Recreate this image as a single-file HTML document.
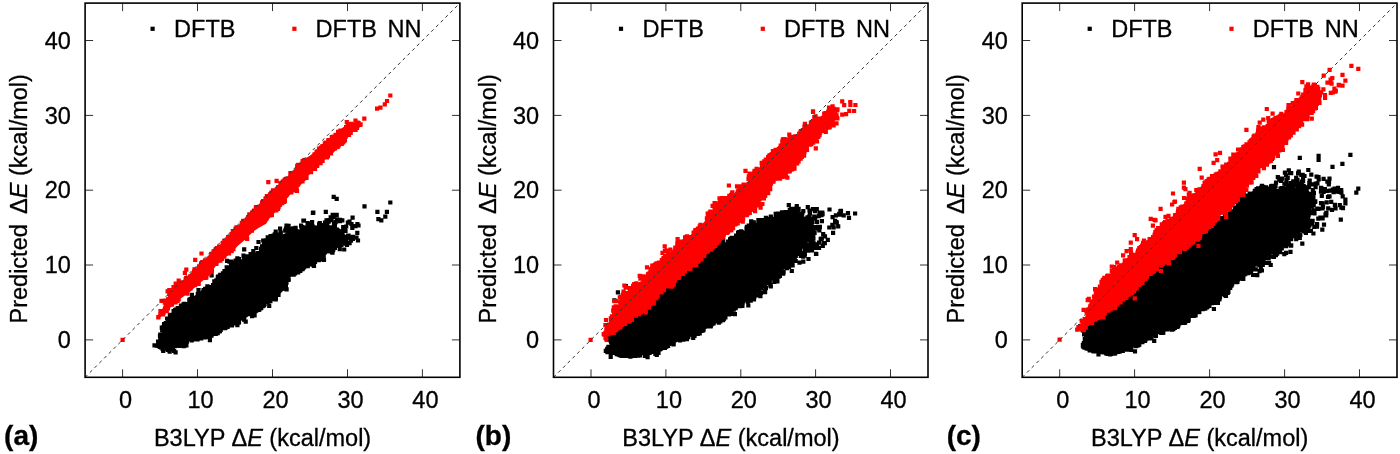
<!DOCTYPE html><html><head><meta charset="utf-8"><title>DFTB vs DFTB NN</title><style>html,body{margin:0;padding:0;background:#fff;overflow:hidden}svg{display:block}text{stroke:#000;stroke-width:0.3px}</style></head><body>
<svg width="1400" height="454" viewBox="0 0 1400 454" font-family="'Liberation Sans', Arial, Helvetica, sans-serif" font-size="23.5">
<rect width="1400" height="454" fill="#fff"/>
<g>
<path fill="#000" d="M158.0 341.4L157.8 345.2L162.9 348.2L170.2 349.7L177.8 347.3L184.2 345.6L186.9 341.2L193.6 339.3L202.4 337.5L211.1 335.0L219.7 331.5L229.3 325.8L239.2 322.0L249.0 316.0L258.8 309.2L268.8 301.3L278.7 295.3L284.2 289.8L288.3 278.7L294.5 274.5L304.5 267.4L312.6 262.5L319.2 259.5L329.0 251.2L339.8 246.9L342.5 239.8L341.6 232.7L337.3 228.4L329.9 227.5L319.9 229.5L309.3 228.5L299.6 230.0L289.9 231.5L280.3 235.3L270.5 241.7L260.8 248.4L257.3 254.0L250.2 257.5L243.6 259.7L239.0 262.5L231.7 262.1L226.4 270.8L218.5 276.8L210.9 286.7L201.9 291.2L193.2 298.2L184.3 304.3L176.4 309.6L168.8 316.4L163.7 325.6L162.8 330.8Z"/>
<path fill="#000" d="M298.2 266.5h4.2v4.2h-4.2zM228.9 264.4h4.2v4.2h-4.2zM158.2 337.9h4.2v4.2h-4.2zM329.7 225.6h4.2v4.2h-4.2zM238.8 260.0h4.2v4.2h-4.2zM327.3 247.4h4.2v4.2h-4.2zM300.3 267.1h4.2v4.2h-4.2zM205.2 285.5h4.2v4.2h-4.2zM162.0 323.9h4.2v4.2h-4.2zM183.3 340.3h4.2v4.2h-4.2zM340.4 230.7h4.2v4.2h-4.2zM216.0 274.6h4.2v4.2h-4.2zM283.1 228.5h4.2v4.2h-4.2zM203.9 289.0h4.2v4.2h-4.2zM339.3 237.1h4.2v4.2h-4.2zM259.0 304.4h4.2v4.2h-4.2zM340.0 236.0h4.2v4.2h-4.2zM311.4 263.1h4.2v4.2h-4.2zM266.0 243.2h4.2v4.2h-4.2zM288.3 230.2h4.2v4.2h-4.2zM306.6 261.4h4.2v4.2h-4.2zM201.5 288.0h4.2v4.2h-4.2zM299.4 229.6h4.2v4.2h-4.2zM224.9 267.7h4.2v4.2h-4.2zM204.4 334.8h4.2v4.2h-4.2zM216.4 327.9h4.2v4.2h-4.2zM321.6 254.0h4.2v4.2h-4.2zM181.6 344.0h4.2v4.2h-4.2zM199.6 334.8h4.2v4.2h-4.2zM287.0 229.5h4.2v4.2h-4.2zM162.5 322.9h4.2v4.2h-4.2zM329.9 246.4h4.2v4.2h-4.2zM160.1 328.0h4.2v4.2h-4.2zM191.8 296.9h4.2v4.2h-4.2zM310.8 228.5h4.2v4.2h-4.2zM274.2 237.2h4.2v4.2h-4.2zM278.6 234.6h4.2v4.2h-4.2zM187.4 336.4h4.2v4.2h-4.2zM158.2 337.9h4.2v4.2h-4.2zM197.3 293.1h4.2v4.2h-4.2zM160.0 333.9h4.2v4.2h-4.2zM340.6 237.9h4.2v4.2h-4.2zM218.2 272.8h4.2v4.2h-4.2zM274.7 236.5h4.2v4.2h-4.2zM273.0 239.0h4.2v4.2h-4.2zM319.2 227.8h4.2v4.2h-4.2zM337.7 241.0h4.2v4.2h-4.2zM316.2 255.9h4.2v4.2h-4.2zM303.3 226.3h4.2v4.2h-4.2zM311.6 228.8h4.2v4.2h-4.2zM236.1 261.5h4.2v4.2h-4.2zM268.0 296.0h4.2v4.2h-4.2zM268.8 239.1h4.2v4.2h-4.2zM166.6 318.3h4.2v4.2h-4.2zM218.6 327.8h4.2v4.2h-4.2zM334.9 227.4h4.2v4.2h-4.2zM258.9 246.7h4.2v4.2h-4.2zM298.1 268.8h4.2v4.2h-4.2zM168.7 314.4h4.2v4.2h-4.2zM229.9 323.3h4.2v4.2h-4.2zM185.5 337.1h4.2v4.2h-4.2zM339.3 242.7h4.2v4.2h-4.2zM159.7 325.5h4.2v4.2h-4.2zM234.7 261.1h4.2v4.2h-4.2zM162.0 322.1h4.2v4.2h-4.2zM284.5 287.3h4.2v4.2h-4.2zM176.3 343.4h4.2v4.2h-4.2zM286.1 277.7h4.2v4.2h-4.2zM321.9 257.9h4.2v4.2h-4.2zM167.3 348.2h4.2v4.2h-4.2zM271.0 237.3h4.2v4.2h-4.2zM298.4 268.1h4.2v4.2h-4.2zM209.5 333.2h4.2v4.2h-4.2zM249.9 312.2h4.2v4.2h-4.2zM319.3 254.3h4.2v4.2h-4.2zM181.1 304.2h4.2v4.2h-4.2zM225.7 324.5h4.2v4.2h-4.2zM265.9 297.6h4.2v4.2h-4.2zM205.3 284.3h4.2v4.2h-4.2zM226.5 268.9h4.2v4.2h-4.2zM288.1 229.8h4.2v4.2h-4.2zM285.7 277.2h4.2v4.2h-4.2zM196.2 294.0h4.2v4.2h-4.2zM287.6 230.2h4.2v4.2h-4.2zM225.0 267.8h4.2v4.2h-4.2zM325.5 227.3h4.2v4.2h-4.2zM318.4 257.2h4.2v4.2h-4.2zM251.5 311.3h4.2v4.2h-4.2zM195.2 295.1h4.2v4.2h-4.2zM244.9 258.1h4.2v4.2h-4.2zM300.8 265.9h4.2v4.2h-4.2zM199.6 334.3h4.2v4.2h-4.2zM181.5 304.4h4.2v4.2h-4.2zM224.9 324.9h4.2v4.2h-4.2zM169.5 313.7h4.2v4.2h-4.2zM216.5 275.6h4.2v4.2h-4.2zM257.3 307.3h4.2v4.2h-4.2zM214.9 278.3h4.2v4.2h-4.2zM266.5 297.1h4.2v4.2h-4.2zM217.8 328.9h4.2v4.2h-4.2zM291.9 271.0h4.2v4.2h-4.2zM253.1 309.1h4.2v4.2h-4.2zM287.5 228.6h4.2v4.2h-4.2zM217.4 329.2h4.2v4.2h-4.2zM330.2 247.5h4.2v4.2h-4.2zM222.8 326.0h4.2v4.2h-4.2zM198.0 293.2h4.2v4.2h-4.2zM201.0 290.2h4.2v4.2h-4.2zM183.6 342.4h4.2v4.2h-4.2zM155.4 343.3h4.2v4.2h-4.2zM318.6 254.4h4.2v4.2h-4.2zM215.7 275.2h4.2v4.2h-4.2zM250.0 314.1h4.2v4.2h-4.2zM161.5 324.7h4.2v4.2h-4.2zM268.3 299.0h4.2v4.2h-4.2zM157.6 341.3h4.2v4.2h-4.2zM233.9 260.0h4.2v4.2h-4.2zM189.8 292.8h4.2v4.2h-4.2zM192.3 297.3h4.2v4.2h-4.2zM335.3 228.0h4.2v4.2h-4.2zM242.8 257.1h4.2v4.2h-4.2zM339.1 238.9h4.2v4.2h-4.2zM296.1 229.8h4.2v4.2h-4.2zM212.2 279.2h4.2v4.2h-4.2zM158.9 345.2h4.2v4.2h-4.2zM162.9 345.9h4.2v4.2h-4.2zM340.3 231.0h4.2v4.2h-4.2zM261.7 243.4h4.2v4.2h-4.2zM228.9 261.7h4.2v4.2h-4.2zM251.3 309.2h4.2v4.2h-4.2zM272.3 294.5h4.2v4.2h-4.2zM262.0 303.4h4.2v4.2h-4.2zM252.8 307.6h4.2v4.2h-4.2zM309.8 258.6h4.2v4.2h-4.2zM203.1 286.7h4.2v4.2h-4.2zM165.2 345.5h4.2v4.2h-4.2zM250.7 255.4h4.2v4.2h-4.2zM291.6 272.5h4.2v4.2h-4.2zM305.3 228.3h4.2v4.2h-4.2zM269.7 238.5h4.2v4.2h-4.2zM328.9 249.1h4.2v4.2h-4.2zM267.1 303.8h4.2v4.2h-4.2zM329.9 227.0h4.2v4.2h-4.2zM339.2 242.6h4.2v4.2h-4.2zM322.7 250.2h4.2v4.2h-4.2zM163.3 322.5h4.2v4.2h-4.2zM329.8 250.0h4.2v4.2h-4.2zM228.2 265.7h4.2v4.2h-4.2zM219.0 274.4h4.2v4.2h-4.2zM272.3 294.0h4.2v4.2h-4.2zM328.5 227.1h4.2v4.2h-4.2zM282.2 286.6h4.2v4.2h-4.2zM324.7 249.2h4.2v4.2h-4.2zM288.8 230.6h4.2v4.2h-4.2zM338.3 234.3h4.2v4.2h-4.2zM289.1 230.6h4.2v4.2h-4.2zM320.3 226.1h4.2v4.2h-4.2zM293.2 229.4h4.2v4.2h-4.2zM325.0 249.2h4.2v4.2h-4.2zM316.7 258.0h4.2v4.2h-4.2zM255.7 251.8h4.2v4.2h-4.2zM156.3 339.5h4.2v4.2h-4.2zM285.7 232.3h4.2v4.2h-4.2zM197.4 336.1h4.2v4.2h-4.2zM199.4 334.5h4.2v4.2h-4.2zM171.8 309.8h4.2v4.2h-4.2zM339.1 230.7h4.2v4.2h-4.2zM223.8 325.2h4.2v4.2h-4.2zM249.2 312.0h4.2v4.2h-4.2zM331.2 247.3h4.2v4.2h-4.2zM273.8 295.8h4.2v4.2h-4.2zM262.5 301.9h4.2v4.2h-4.2zM167.8 313.1h4.2v4.2h-4.2zM291.3 271.9h4.2v4.2h-4.2zM240.2 259.2h4.2v4.2h-4.2zM295.6 267.7h4.2v4.2h-4.2zM253.3 252.7h4.2v4.2h-4.2zM170.7 312.7h4.2v4.2h-4.2zM272.4 296.3h4.2v4.2h-4.2zM264.8 242.8h4.2v4.2h-4.2zM181.5 342.6h4.2v4.2h-4.2zM249.4 312.1h4.2v4.2h-4.2zM239.7 259.4h4.2v4.2h-4.2zM198.8 291.2h4.2v4.2h-4.2zM195.7 291.9h4.2v4.2h-4.2zM250.4 253.3h4.2v4.2h-4.2zM214.3 278.2h4.2v4.2h-4.2zM158.4 332.8h4.2v4.2h-4.2zM244.4 256.2h4.2v4.2h-4.2zM302.0 265.2h4.2v4.2h-4.2zM228.3 321.3h4.2v4.2h-4.2zM195.5 337.2h4.2v4.2h-4.2zM283.6 279.5h4.2v4.2h-4.2zM226.1 269.1h4.2v4.2h-4.2zM187.2 297.8h4.2v4.2h-4.2zM221.8 324.5h4.2v4.2h-4.2zM303.8 263.2h4.2v4.2h-4.2zM320.6 253.2h4.2v4.2h-4.2zM269.7 237.8h4.2v4.2h-4.2zM265.8 299.4h4.2v4.2h-4.2zM214.2 330.6h4.2v4.2h-4.2zM173.1 308.1h4.2v4.2h-4.2zM259.9 247.9h4.2v4.2h-4.2zM249.2 256.1h4.2v4.2h-4.2zM213.7 331.9h4.2v4.2h-4.2zM242.0 317.5h4.2v4.2h-4.2zM236.9 320.2h4.2v4.2h-4.2zM243.6 256.8h4.2v4.2h-4.2zM274.3 292.8h4.2v4.2h-4.2zM188.5 296.9h4.2v4.2h-4.2zM329.6 248.7h4.2v4.2h-4.2zM246.9 256.7h4.2v4.2h-4.2zM261.3 245.0h4.2v4.2h-4.2zM208.9 331.4h4.2v4.2h-4.2zM294.8 270.4h4.2v4.2h-4.2zM265.6 299.7h4.2v4.2h-4.2zM162.2 327.8h4.2v4.2h-4.2zM220.8 271.3h4.2v4.2h-4.2zM330.3 226.2h4.2v4.2h-4.2zM252.5 252.4h4.2v4.2h-4.2zM225.7 265.7h4.2v4.2h-4.2zM168.0 312.8h4.2v4.2h-4.2zM260.6 304.1h4.2v4.2h-4.2zM320.9 255.1h4.2v4.2h-4.2zM192.2 295.9h4.2v4.2h-4.2zM235.3 323.0h4.2v4.2h-4.2zM208.5 333.9h4.2v4.2h-4.2zM337.6 241.2h4.2v4.2h-4.2zM172.8 310.9h4.2v4.2h-4.2zM330.2 227.7h4.2v4.2h-4.2zM262.0 240.0h4.2v4.2h-4.2zM203.0 288.4h4.2v4.2h-4.2zM169.3 346.2h4.2v4.2h-4.2zM266.1 242.9h4.2v4.2h-4.2zM313.7 258.1h4.2v4.2h-4.2zM218.7 273.7h4.2v4.2h-4.2zM208.8 286.3h4.2v4.2h-4.2zM196.5 293.4h4.2v4.2h-4.2zM299.4 227.8h4.2v4.2h-4.2zM332.8 245.9h4.2v4.2h-4.2zM185.9 302.0h4.2v4.2h-4.2zM182.3 301.7h4.2v4.2h-4.2zM215.6 331.0h4.2v4.2h-4.2zM269.1 239.8h4.2v4.2h-4.2zM184.3 343.4h4.2v4.2h-4.2zM336.1 229.1h4.2v4.2h-4.2zM315.4 227.4h4.2v4.2h-4.2zM157.7 344.9h4.2v4.2h-4.2zM232.3 320.2h4.2v4.2h-4.2zM157.9 333.8h4.2v4.2h-4.2zM324.5 226.7h4.2v4.2h-4.2zM207.8 285.0h4.2v4.2h-4.2zM165.0 316.4h4.2v4.2h-4.2zM328.1 226.3h4.2v4.2h-4.2zM248.5 252.0h4.2v4.2h-4.2zM254.2 308.5h4.2v4.2h-4.2zM253.4 307.2h4.2v4.2h-4.2zM182.5 340.4h4.2v4.2h-4.2zM238.0 260.2h4.2v4.2h-4.2zM308.5 262.2h4.2v4.2h-4.2zM271.3 297.0h4.2v4.2h-4.2zM161.4 346.7h4.2v4.2h-4.2zM189.6 338.4h4.2v4.2h-4.2zM268.0 239.0h4.2v4.2h-4.2zM184.2 341.5h4.2v4.2h-4.2zM321.3 252.8h4.2v4.2h-4.2zM259.9 301.9h4.2v4.2h-4.2zM204.2 287.2h4.2v4.2h-4.2zM242.1 314.4h4.2v4.2h-4.2zM243.5 258.9h4.2v4.2h-4.2zM172.6 344.1h4.2v4.2h-4.2zM300.9 228.8h4.2v4.2h-4.2zM331.2 226.1h4.2v4.2h-4.2zM313.2 226.3h4.2v4.2h-4.2zM254.2 307.5h4.2v4.2h-4.2zM235.6 320.7h4.2v4.2h-4.2zM249.1 256.4h4.2v4.2h-4.2zM286.5 231.0h4.2v4.2h-4.2zM215.7 277.6h4.2v4.2h-4.2zM253.3 308.3h4.2v4.2h-4.2zM162.4 324.1h4.2v4.2h-4.2zM238.4 260.6h4.2v4.2h-4.2zM313.3 257.8h4.2v4.2h-4.2zM174.0 307.4h4.2v4.2h-4.2zM239.0 261.5h4.2v4.2h-4.2zM253.1 255.2h4.2v4.2h-4.2zM172.0 348.9h4.2v4.2h-4.2zM308.7 261.4h4.2v4.2h-4.2zM266.2 239.3h4.2v4.2h-4.2zM330.4 250.6h4.2v4.2h-4.2zM268.3 237.9h4.2v4.2h-4.2zM182.1 343.8h4.2v4.2h-4.2zM273.7 297.4h4.2v4.2h-4.2zM167.3 346.4h4.2v4.2h-4.2zM178.8 303.5h4.2v4.2h-4.2zM224.6 265.2h4.2v4.2h-4.2zM296.1 270.3h4.2v4.2h-4.2zM190.8 337.3h4.2v4.2h-4.2zM177.3 306.9h4.2v4.2h-4.2zM330.9 248.1h4.2v4.2h-4.2zM241.7 259.7h4.2v4.2h-4.2zM228.6 322.5h4.2v4.2h-4.2zM158.2 332.6h4.2v4.2h-4.2zM194.4 295.4h4.2v4.2h-4.2zM242.1 317.3h4.2v4.2h-4.2zM163.4 324.6h4.2v4.2h-4.2zM232.7 260.5h4.2v4.2h-4.2zM260.0 244.3h4.2v4.2h-4.2zM318.5 228.5h4.2v4.2h-4.2zM338.1 233.8h4.2v4.2h-4.2zM263.7 245.2h4.2v4.2h-4.2zM340.7 234.1h4.2v4.2h-4.2zM154.9 343.5h4.2v4.2h-4.2zM339.9 237.6h4.2v4.2h-4.2zM170.8 347.3h4.2v4.2h-4.2zM202.7 289.4h4.2v4.2h-4.2zM299.1 266.7h4.2v4.2h-4.2zM222.4 269.1h4.2v4.2h-4.2zM276.4 292.7h4.2v4.2h-4.2zM160.5 346.8h4.2v4.2h-4.2zM311.3 226.1h4.2v4.2h-4.2zM235.3 256.2h4.2v4.2h-4.2zM289.1 229.1h4.2v4.2h-4.2zM284.3 276.4h4.2v4.2h-4.2zM167.5 347.0h4.2v4.2h-4.2zM210.1 330.8h4.2v4.2h-4.2zM252.6 253.3h4.2v4.2h-4.2zM308.6 262.4h4.2v4.2h-4.2zM233.2 321.1h4.2v4.2h-4.2zM274.5 232.4h4.2v4.2h-4.2zM299.2 266.3h4.2v4.2h-4.2zM166.8 345.6h4.2v4.2h-4.2zM232.8 319.4h4.2v4.2h-4.2zM221.1 273.3h4.2v4.2h-4.2zM300.5 267.1h4.2v4.2h-4.2zM339.7 240.9h4.2v4.2h-4.2zM194.3 295.9h4.2v4.2h-4.2zM196.4 288.1h4.2v4.2h-4.2zM196.0 293.2h4.2v4.2h-4.2zM308.1 226.2h4.2v4.2h-4.2zM284.4 280.5h4.2v4.2h-4.2zM327.6 225.2h4.2v4.2h-4.2zM267.5 296.6h4.2v4.2h-4.2zM295.3 230.0h4.2v4.2h-4.2zM283.8 284.4h4.2v4.2h-4.2zM152.4 343.2h4.2v4.2h-4.2zM167.6 349.6h4.2v4.2h-4.2zM225.0 268.7h4.2v4.2h-4.2zM312.9 259.9h4.2v4.2h-4.2zM231.4 321.3h4.2v4.2h-4.2zM197.3 292.4h4.2v4.2h-4.2zM310.9 227.0h4.2v4.2h-4.2zM339.6 237.6h4.2v4.2h-4.2zM250.0 311.9h4.2v4.2h-4.2zM156.0 342.9h4.2v4.2h-4.2zM304.9 226.4h4.2v4.2h-4.2zM293.0 271.2h4.2v4.2h-4.2zM204.5 333.7h4.2v4.2h-4.2zM251.4 253.8h4.2v4.2h-4.2zM276.2 290.9h4.2v4.2h-4.2zM173.5 350.3h4.2v4.2h-4.2zM171.5 309.0h4.2v4.2h-4.2zM329.8 247.7h4.2v4.2h-4.2zM259.8 247.4h4.2v4.2h-4.2zM177.3 343.9h4.2v4.2h-4.2zM158.7 337.8h4.2v4.2h-4.2zM190.1 298.1h4.2v4.2h-4.2zM255.7 251.0h4.2v4.2h-4.2zM194.8 337.1h4.2v4.2h-4.2zM256.6 307.7h4.2v4.2h-4.2zM339.6 237.7h4.2v4.2h-4.2zM259.1 306.1h4.2v4.2h-4.2zM312.5 259.0h4.2v4.2h-4.2zM247.7 311.3h4.2v4.2h-4.2zM316.6 256.0h4.2v4.2h-4.2zM207.8 338.1h4.2v4.2h-4.2zM217.9 273.6h4.2v4.2h-4.2zM312.4 257.5h4.2v4.2h-4.2zM158.5 334.1h4.2v4.2h-4.2zM228.3 322.7h4.2v4.2h-4.2zM252.4 310.1h4.2v4.2h-4.2zM177.8 307.3h4.2v4.2h-4.2zM311.9 263.8h4.2v4.2h-4.2zM290.7 229.8h4.2v4.2h-4.2zM170.6 346.5h4.2v4.2h-4.2zM303.1 263.5h4.2v4.2h-4.2zM331.0 226.4h4.2v4.2h-4.2zM165.7 347.7h4.2v4.2h-4.2zM222.2 324.8h4.2v4.2h-4.2zM305.7 264.0h4.2v4.2h-4.2zM243.6 319.6h4.2v4.2h-4.2zM203.0 335.2h4.2v4.2h-4.2zM199.1 336.2h4.2v4.2h-4.2zM339.3 231.7h4.2v4.2h-4.2zM292.2 270.7h4.2v4.2h-4.2zM206.2 286.5h4.2v4.2h-4.2zM156.3 343.9h4.2v4.2h-4.2zM184.9 339.5h4.2v4.2h-4.2zM325.2 248.1h4.2v4.2h-4.2zM175.6 305.9h4.2v4.2h-4.2zM270.3 294.9h4.2v4.2h-4.2zM195.3 336.6h4.2v4.2h-4.2zM157.7 340.1h4.2v4.2h-4.2zM252.5 313.2h4.2v4.2h-4.2zM182.8 340.0h4.2v4.2h-4.2zM209.2 332.6h4.2v4.2h-4.2zM181.4 302.2h4.2v4.2h-4.2zM290.5 229.7h4.2v4.2h-4.2zM338.9 241.7h4.2v4.2h-4.2zM156.0 339.6h4.2v4.2h-4.2zM267.8 242.3h4.2v4.2h-4.2zM209.5 273.3h4.2v4.2h-4.2zM309.3 259.6h4.2v4.2h-4.2zM163.7 321.0h4.2v4.2h-4.2zM166.1 318.2h4.2v4.2h-4.2zM286.6 277.6h4.2v4.2h-4.2zM229.1 259.4h4.2v4.2h-4.2zM337.7 247.1h4.2v4.2h-4.2zM210.9 283.0h4.2v4.2h-4.2zM267.7 297.0h4.2v4.2h-4.2zM272.7 232.2h4.2v4.2h-4.2zM161.1 348.8h4.2v4.2h-4.2zM212.2 281.2h4.2v4.2h-4.2zM302.7 263.8h4.2v4.2h-4.2zM294.4 228.9h4.2v4.2h-4.2zM304.2 227.5h4.2v4.2h-4.2zM249.7 254.1h4.2v4.2h-4.2zM316.5 228.9h4.2v4.2h-4.2zM215.5 329.2h4.2v4.2h-4.2zM190.9 336.6h4.2v4.2h-4.2zM319.1 229.2h4.2v4.2h-4.2zM331.6 194.8h4.2v4.2h-4.2zM334.6 196.8h4.2v4.2h-4.2zM310.8 210.7h4.2v4.2h-4.2zM323.7 209.7h4.2v4.2h-4.2zM330.6 212.7h4.2v4.2h-4.2zM334.6 212.7h4.2v4.2h-4.2zM301.9 218.6h4.2v4.2h-4.2zM362.4 204.3h4.2v4.2h-4.2zM375.3 209.7h4.2v4.2h-4.2zM376.3 217.0h4.2v4.2h-4.2zM379.2 218.2h4.2v4.2h-4.2zM383.2 214.6h4.2v4.2h-4.2zM384.8 209.7h4.2v4.2h-4.2zM388.2 200.4h4.2v4.2h-4.2zM256.4 239.9h4.2v4.2h-4.2zM265.6 235.3h4.2v4.2h-4.2zM284.4 223.4h4.2v4.2h-4.2zM301.3 218.5h4.2v4.2h-4.2zM311.2 210.5h4.2v4.2h-4.2zM339.6 240.4h4.2v4.2h-4.2zM350.5 215.6h4.2v4.2h-4.2zM354.4 235.5h4.2v4.2h-4.2zM340.2 218.3h4.2v4.2h-4.2zM348.1 235.5h4.2v4.2h-4.2zM325.6 219.2h4.2v4.2h-4.2zM342.9 228.1h4.2v4.2h-4.2zM344.1 224.4h4.2v4.2h-4.2zM345.8 220.6h4.2v4.2h-4.2zM341.1 224.9h4.2v4.2h-4.2zM311.5 225.2h4.2v4.2h-4.2zM353.3 224.0h4.2v4.2h-4.2zM305.5 224.3h4.2v4.2h-4.2zM328.6 215.3h4.2v4.2h-4.2zM317.7 221.1h4.2v4.2h-4.2zM342.1 247.4h4.2v4.2h-4.2zM324.7 221.6h4.2v4.2h-4.2zM348.8 238.5h4.2v4.2h-4.2zM306.2 221.7h4.2v4.2h-4.2zM337.9 219.1h4.2v4.2h-4.2zM355.3 222.1h4.2v4.2h-4.2zM341.1 227.3h4.2v4.2h-4.2zM347.4 219.5h4.2v4.2h-4.2zM326.7 217.9h4.2v4.2h-4.2zM326.6 219.6h4.2v4.2h-4.2zM347.5 241.1h4.2v4.2h-4.2zM338.0 217.8h4.2v4.2h-4.2zM348.9 237.8h4.2v4.2h-4.2zM344.2 236.7h4.2v4.2h-4.2zM349.4 221.9h4.2v4.2h-4.2zM318.8 223.0h4.2v4.2h-4.2zM350.7 236.1h4.2v4.2h-4.2zM303.6 225.4h4.2v4.2h-4.2zM344.9 242.9h4.2v4.2h-4.2zM325.2 224.0h4.2v4.2h-4.2zM329.3 218.1h4.2v4.2h-4.2zM317.0 222.2h4.2v4.2h-4.2zM350.8 234.8h4.2v4.2h-4.2zM324.4 218.2h4.2v4.2h-4.2zM355.2 230.7h4.2v4.2h-4.2zM356.4 223.4h4.2v4.2h-4.2zM310.0 220.1h4.2v4.2h-4.2zM350.8 236.8h4.2v4.2h-4.2zM317.5 225.4h4.2v4.2h-4.2zM325.2 221.8h4.2v4.2h-4.2zM325.9 218.5h4.2v4.2h-4.2zM346.5 233.6h4.2v4.2h-4.2zM345.6 234.4h4.2v4.2h-4.2zM342.4 241.6h4.2v4.2h-4.2zM340.4 228.9h4.2v4.2h-4.2zM355.9 238.4h4.2v4.2h-4.2zM350.2 225.8h4.2v4.2h-4.2zM341.5 235.0h4.2v4.2h-4.2zM331.5 215.1h4.2v4.2h-4.2zM343.4 228.9h4.2v4.2h-4.2zM345.9 233.6h4.2v4.2h-4.2zM343.1 237.0h4.2v4.2h-4.2zM343.3 240.8h4.2v4.2h-4.2zM342.1 239.4h4.2v4.2h-4.2zM246.0 254.2h4.2v4.2h-4.2zM321.9 223.2h4.2v4.2h-4.2zM299.0 223.6h4.2v4.2h-4.2zM278.7 230.6h4.2v4.2h-4.2zM241.4 253.6h4.2v4.2h-4.2zM288.8 227.0h4.2v4.2h-4.2zM278.4 230.9h4.2v4.2h-4.2zM308.0 223.8h4.2v4.2h-4.2zM310.3 224.0h4.2v4.2h-4.2zM267.7 237.0h4.2v4.2h-4.2zM236.8 256.9h4.2v4.2h-4.2zM278.0 226.4h4.2v4.2h-4.2zM263.8 238.3h4.2v4.2h-4.2zM293.5 225.7h4.2v4.2h-4.2zM285.0 225.9h4.2v4.2h-4.2zM332.8 224.3h4.2v4.2h-4.2zM271.5 233.6h4.2v4.2h-4.2zM331.9 221.9h4.2v4.2h-4.2zM227.3 259.5h4.2v4.2h-4.2zM335.0 217.2h4.2v4.2h-4.2zM251.2 249.1h4.2v4.2h-4.2zM268.5 233.9h4.2v4.2h-4.2zM241.8 255.9h4.2v4.2h-4.2zM314.6 225.6h4.2v4.2h-4.2zM235.3 257.1h4.2v4.2h-4.2zM285.2 228.5h4.2v4.2h-4.2zM291.1 226.2h4.2v4.2h-4.2zM300.2 225.1h4.2v4.2h-4.2zM323.5 222.9h4.2v4.2h-4.2zM242.1 247.3h4.2v4.2h-4.2zM322.9 220.6h4.2v4.2h-4.2zM273.6 229.5h4.2v4.2h-4.2zM286.5 223.7h4.2v4.2h-4.2zM244.4 254.8h4.2v4.2h-4.2zM305.5 221.0h4.2v4.2h-4.2zM254.2 245.9h4.2v4.2h-4.2zM283.9 226.6h4.2v4.2h-4.2zM225.0 258.7h4.2v4.2h-4.2zM233.6 258.4h4.2v4.2h-4.2zM261.1 238.4h4.2v4.2h-4.2zM242.4 254.5h4.2v4.2h-4.2zM274.2 233.0h4.2v4.2h-4.2zM323.8 221.0h4.2v4.2h-4.2zM286.5 227.1h4.2v4.2h-4.2zM333.6 220.1h4.2v4.2h-4.2z"/>
<path fill="#f00" d="M157.6 317.0L158.3 318.6L164.5 314.3L171.4 306.5L179.3 299.5L189.3 292.5L199.2 283.6L209.1 275.8L216.1 265.5L223.9 258.7L231.6 252.2L238.2 245.6L244.8 240.1L253.6 231.2L258.5 228.0L266.1 223.7L270.4 217.0L277.1 210.4L282.5 204.9L288.0 197.2L293.7 190.6L299.6 186.2L310.6 173.3L321.6 162.3L332.6 153.5L343.7 142.5L352.5 132.4L359.0 128.1L360.9 124.3L357.2 121.5L350.9 123.6L342.2 127.9L333.4 135.6L322.4 145.6L311.4 154.4L300.4 162.5L283.4 180.4L272.4 190.4L261.4 201.4L250.4 212.9L242.3 221.4L232.4 230.9L225.7 238.9L217.8 246.9L207.9 255.9L198.0 265.9L188.1 275.4L178.2 284.4L169.3 293.9L165.5 300.3L162.4 308.7L159.0 312.8Z"/>
<path fill="#f00" d="M304.4 175.7h4.2v4.2h-4.2zM311.1 164.3h4.2v4.2h-4.2zM297.2 165.0h4.2v4.2h-4.2zM270.9 188.3h4.2v4.2h-4.2zM283.9 176.7h4.2v4.2h-4.2zM327.3 151.4h4.2v4.2h-4.2zM196.6 281.9h4.2v4.2h-4.2zM169.9 302.5h4.2v4.2h-4.2zM348.6 130.8h4.2v4.2h-4.2zM331.3 135.4h4.2v4.2h-4.2zM264.4 195.9h4.2v4.2h-4.2zM268.2 192.7h4.2v4.2h-4.2zM319.4 147.3h4.2v4.2h-4.2zM297.7 179.5h4.2v4.2h-4.2zM192.0 269.4h4.2v4.2h-4.2zM312.5 152.2h4.2v4.2h-4.2zM164.7 309.1h4.2v4.2h-4.2zM358.5 122.3h4.2v4.2h-4.2zM342.8 137.9h4.2v4.2h-4.2zM197.0 264.2h4.2v4.2h-4.2zM266.3 195.9h4.2v4.2h-4.2zM353.5 127.9h4.2v4.2h-4.2zM175.3 284.7h4.2v4.2h-4.2zM174.7 297.1h4.2v4.2h-4.2zM294.5 186.0h4.2v4.2h-4.2zM331.6 134.5h4.2v4.2h-4.2zM229.5 232.0h4.2v4.2h-4.2zM276.2 185.0h4.2v4.2h-4.2zM283.6 193.2h4.2v4.2h-4.2zM326.3 138.1h4.2v4.2h-4.2zM173.6 288.9h4.2v4.2h-4.2zM319.4 146.8h4.2v4.2h-4.2zM184.9 275.7h4.2v4.2h-4.2zM336.0 129.7h4.2v4.2h-4.2zM185.2 290.5h4.2v4.2h-4.2zM279.2 200.8h4.2v4.2h-4.2zM320.2 144.2h4.2v4.2h-4.2zM232.4 229.2h4.2v4.2h-4.2zM324.5 143.4h4.2v4.2h-4.2zM213.8 246.7h4.2v4.2h-4.2zM312.7 165.8h4.2v4.2h-4.2zM355.2 121.1h4.2v4.2h-4.2zM274.2 208.4h4.2v4.2h-4.2zM246.2 214.9h4.2v4.2h-4.2zM278.3 183.9h4.2v4.2h-4.2zM191.8 283.0h4.2v4.2h-4.2zM291.2 171.0h4.2v4.2h-4.2zM220.7 240.8h4.2v4.2h-4.2zM284.2 193.0h4.2v4.2h-4.2zM292.2 187.8h4.2v4.2h-4.2zM166.2 296.9h4.2v4.2h-4.2zM323.7 141.2h4.2v4.2h-4.2zM326.9 151.3h4.2v4.2h-4.2zM343.1 126.9h4.2v4.2h-4.2zM355.5 120.5h4.2v4.2h-4.2zM267.9 192.3h4.2v4.2h-4.2zM222.3 238.7h4.2v4.2h-4.2zM209.8 269.1h4.2v4.2h-4.2zM282.5 177.8h4.2v4.2h-4.2zM349.2 121.8h4.2v4.2h-4.2zM277.9 202.5h4.2v4.2h-4.2zM344.0 124.9h4.2v4.2h-4.2zM325.0 140.6h4.2v4.2h-4.2zM226.9 251.4h4.2v4.2h-4.2zM290.5 172.3h4.2v4.2h-4.2zM332.9 146.2h4.2v4.2h-4.2zM225.9 250.5h4.2v4.2h-4.2zM275.9 206.7h4.2v4.2h-4.2zM315.2 162.9h4.2v4.2h-4.2zM342.2 139.0h4.2v4.2h-4.2zM180.1 282.5h4.2v4.2h-4.2zM167.2 291.8h4.2v4.2h-4.2zM338.6 140.5h4.2v4.2h-4.2zM295.9 164.1h4.2v4.2h-4.2zM179.3 280.6h4.2v4.2h-4.2zM217.4 245.4h4.2v4.2h-4.2zM330.2 136.5h4.2v4.2h-4.2zM342.6 135.4h4.2v4.2h-4.2zM325.0 154.0h4.2v4.2h-4.2zM163.5 298.6h4.2v4.2h-4.2zM342.5 135.4h4.2v4.2h-4.2zM188.4 273.9h4.2v4.2h-4.2zM261.0 199.1h4.2v4.2h-4.2zM253.8 205.2h4.2v4.2h-4.2zM289.2 190.3h4.2v4.2h-4.2zM184.9 276.5h4.2v4.2h-4.2zM343.4 126.9h4.2v4.2h-4.2zM308.5 169.8h4.2v4.2h-4.2zM353.0 126.5h4.2v4.2h-4.2zM347.4 122.3h4.2v4.2h-4.2zM176.0 286.6h4.2v4.2h-4.2zM169.1 289.8h4.2v4.2h-4.2zM328.3 151.0h4.2v4.2h-4.2zM294.9 188.7h4.2v4.2h-4.2zM252.0 208.5h4.2v4.2h-4.2zM288.3 171.0h4.2v4.2h-4.2zM326.1 139.6h4.2v4.2h-4.2zM216.9 246.6h4.2v4.2h-4.2zM159.6 311.0h4.2v4.2h-4.2zM312.9 166.7h4.2v4.2h-4.2zM204.2 275.5h4.2v4.2h-4.2zM295.8 182.0h4.2v4.2h-4.2zM358.0 122.7h4.2v4.2h-4.2zM233.8 229.4h4.2v4.2h-4.2zM183.6 277.0h4.2v4.2h-4.2zM182.9 280.1h4.2v4.2h-4.2zM262.8 199.7h4.2v4.2h-4.2zM260.1 201.8h4.2v4.2h-4.2zM300.4 179.4h4.2v4.2h-4.2zM191.7 271.3h4.2v4.2h-4.2zM184.1 275.9h4.2v4.2h-4.2zM251.3 225.8h4.2v4.2h-4.2zM268.4 213.3h4.2v4.2h-4.2zM328.9 151.2h4.2v4.2h-4.2zM226.0 235.1h4.2v4.2h-4.2zM212.4 248.9h4.2v4.2h-4.2zM355.4 123.6h4.2v4.2h-4.2zM215.3 247.9h4.2v4.2h-4.2zM211.4 249.5h4.2v4.2h-4.2zM298.3 163.9h4.2v4.2h-4.2zM245.2 216.7h4.2v4.2h-4.2zM283.7 177.3h4.2v4.2h-4.2zM282.6 179.1h4.2v4.2h-4.2zM269.8 212.8h4.2v4.2h-4.2zM264.0 216.9h4.2v4.2h-4.2zM245.5 217.5h4.2v4.2h-4.2zM296.1 163.7h4.2v4.2h-4.2zM249.8 228.5h4.2v4.2h-4.2zM222.1 253.4h4.2v4.2h-4.2zM161.8 308.9h4.2v4.2h-4.2zM339.7 141.7h4.2v4.2h-4.2zM283.9 179.0h4.2v4.2h-4.2zM335.5 142.7h4.2v4.2h-4.2zM320.5 158.8h4.2v4.2h-4.2zM344.3 125.7h4.2v4.2h-4.2zM339.6 128.5h4.2v4.2h-4.2zM309.0 170.0h4.2v4.2h-4.2zM158.4 308.9h4.2v4.2h-4.2zM253.7 207.3h4.2v4.2h-4.2zM196.3 281.8h4.2v4.2h-4.2zM215.0 246.7h4.2v4.2h-4.2zM337.5 129.4h4.2v4.2h-4.2zM293.5 188.2h4.2v4.2h-4.2zM192.9 283.0h4.2v4.2h-4.2zM160.9 312.2h4.2v4.2h-4.2zM335.3 133.3h4.2v4.2h-4.2zM334.8 133.3h4.2v4.2h-4.2zM239.7 220.7h4.2v4.2h-4.2zM269.3 190.7h4.2v4.2h-4.2zM318.5 161.0h4.2v4.2h-4.2zM324.9 155.4h4.2v4.2h-4.2zM323.5 140.6h4.2v4.2h-4.2zM302.5 160.5h4.2v4.2h-4.2zM160.5 309.8h4.2v4.2h-4.2zM320.9 143.9h4.2v4.2h-4.2zM253.1 209.7h4.2v4.2h-4.2zM164.6 301.2h4.2v4.2h-4.2zM338.4 128.5h4.2v4.2h-4.2zM215.0 246.0h4.2v4.2h-4.2zM269.3 190.6h4.2v4.2h-4.2zM173.2 298.9h4.2v4.2h-4.2zM343.3 134.9h4.2v4.2h-4.2zM168.9 293.4h4.2v4.2h-4.2zM169.9 290.8h4.2v4.2h-4.2zM315.9 149.3h4.2v4.2h-4.2zM277.4 203.1h4.2v4.2h-4.2zM156.4 314.9h4.2v4.2h-4.2zM209.3 251.7h4.2v4.2h-4.2zM198.7 263.9h4.2v4.2h-4.2zM313.1 164.6h4.2v4.2h-4.2zM254.0 205.0h4.2v4.2h-4.2zM279.5 180.7h4.2v4.2h-4.2zM214.3 261.7h4.2v4.2h-4.2zM175.1 286.0h4.2v4.2h-4.2zM263.9 197.2h4.2v4.2h-4.2zM273.4 188.3h4.2v4.2h-4.2zM269.8 210.1h4.2v4.2h-4.2zM283.3 177.4h4.2v4.2h-4.2zM230.7 228.9h4.2v4.2h-4.2zM247.3 214.8h4.2v4.2h-4.2zM251.7 209.1h4.2v4.2h-4.2zM230.7 229.4h4.2v4.2h-4.2zM336.6 143.3h4.2v4.2h-4.2zM209.2 267.7h4.2v4.2h-4.2zM329.7 135.1h4.2v4.2h-4.2zM218.8 256.5h4.2v4.2h-4.2zM318.8 145.4h4.2v4.2h-4.2zM351.6 123.1h4.2v4.2h-4.2zM164.1 300.5h4.2v4.2h-4.2zM323.0 155.3h4.2v4.2h-4.2zM281.9 199.7h4.2v4.2h-4.2zM331.3 135.1h4.2v4.2h-4.2zM296.1 162.7h4.2v4.2h-4.2zM175.6 298.5h4.2v4.2h-4.2zM234.1 228.7h4.2v4.2h-4.2zM220.0 256.7h4.2v4.2h-4.2zM161.7 309.1h4.2v4.2h-4.2zM192.4 267.2h4.2v4.2h-4.2zM265.0 215.0h4.2v4.2h-4.2zM206.7 271.4h4.2v4.2h-4.2zM247.2 212.3h4.2v4.2h-4.2zM295.1 163.7h4.2v4.2h-4.2zM346.1 123.0h4.2v4.2h-4.2zM176.6 297.1h4.2v4.2h-4.2zM165.8 306.4h4.2v4.2h-4.2zM302.1 158.0h4.2v4.2h-4.2zM234.3 225.2h4.2v4.2h-4.2zM218.3 257.3h4.2v4.2h-4.2zM203.2 275.6h4.2v4.2h-4.2zM346.9 132.9h4.2v4.2h-4.2zM244.6 218.0h4.2v4.2h-4.2zM217.0 244.6h4.2v4.2h-4.2zM260.1 200.3h4.2v4.2h-4.2zM301.3 161.5h4.2v4.2h-4.2zM250.0 210.4h4.2v4.2h-4.2zM317.4 149.2h4.2v4.2h-4.2zM300.5 158.9h4.2v4.2h-4.2zM280.1 201.0h4.2v4.2h-4.2zM288.2 190.1h4.2v4.2h-4.2zM222.2 254.5h4.2v4.2h-4.2zM225.2 237.3h4.2v4.2h-4.2zM339.1 130.1h4.2v4.2h-4.2zM276.5 204.7h4.2v4.2h-4.2zM287.8 189.7h4.2v4.2h-4.2zM356.5 121.0h4.2v4.2h-4.2zM264.6 197.8h4.2v4.2h-4.2zM233.4 226.8h4.2v4.2h-4.2zM185.6 277.0h4.2v4.2h-4.2zM314.5 149.6h4.2v4.2h-4.2zM231.3 247.0h4.2v4.2h-4.2zM199.6 262.1h4.2v4.2h-4.2zM296.0 182.4h4.2v4.2h-4.2zM156.2 315.3h4.2v4.2h-4.2zM207.6 268.1h4.2v4.2h-4.2zM241.1 218.8h4.2v4.2h-4.2zM326.9 138.6h4.2v4.2h-4.2zM322.7 141.6h4.2v4.2h-4.2zM176.0 282.5h4.2v4.2h-4.2zM158.3 311.5h4.2v4.2h-4.2zM245.1 236.8h4.2v4.2h-4.2zM278.4 181.2h4.2v4.2h-4.2zM188.3 286.3h4.2v4.2h-4.2zM253.2 209.3h4.2v4.2h-4.2zM280.7 179.5h4.2v4.2h-4.2zM316.9 146.5h4.2v4.2h-4.2zM327.6 140.5h4.2v4.2h-4.2zM211.9 249.6h4.2v4.2h-4.2zM298.8 178.7h4.2v4.2h-4.2zM218.3 258.6h4.2v4.2h-4.2zM199.0 261.3h4.2v4.2h-4.2zM244.7 235.1h4.2v4.2h-4.2zM240.8 235.7h4.2v4.2h-4.2zM306.6 157.2h4.2v4.2h-4.2zM264.8 193.9h4.2v4.2h-4.2zM165.7 298.3h4.2v4.2h-4.2zM334.3 145.1h4.2v4.2h-4.2zM202.8 258.4h4.2v4.2h-4.2zM341.0 140.2h4.2v4.2h-4.2zM333.5 132.7h4.2v4.2h-4.2zM185.4 291.5h4.2v4.2h-4.2zM349.1 122.4h4.2v4.2h-4.2zM162.7 300.6h4.2v4.2h-4.2zM200.1 260.0h4.2v4.2h-4.2zM203.0 275.8h4.2v4.2h-4.2zM282.8 199.0h4.2v4.2h-4.2zM335.6 144.9h4.2v4.2h-4.2zM266.8 194.6h4.2v4.2h-4.2zM231.2 232.1h4.2v4.2h-4.2zM292.3 170.8h4.2v4.2h-4.2zM325.9 154.1h4.2v4.2h-4.2zM301.4 176.9h4.2v4.2h-4.2zM313.3 152.4h4.2v4.2h-4.2zM282.2 198.7h4.2v4.2h-4.2zM263.4 196.5h4.2v4.2h-4.2zM281.6 179.2h4.2v4.2h-4.2zM268.9 191.7h4.2v4.2h-4.2zM229.6 249.1h4.2v4.2h-4.2zM173.5 300.4h4.2v4.2h-4.2zM353.1 127.9h4.2v4.2h-4.2zM315.0 163.8h4.2v4.2h-4.2zM342.7 135.2h4.2v4.2h-4.2zM177.2 283.7h4.2v4.2h-4.2zM166.0 299.5h4.2v4.2h-4.2zM282.9 177.7h4.2v4.2h-4.2zM175.6 298.8h4.2v4.2h-4.2zM176.0 282.6h4.2v4.2h-4.2zM161.4 310.8h4.2v4.2h-4.2zM306.2 169.7h4.2v4.2h-4.2zM120.5 337.8h4.2v4.2h-4.2zM362.2 116.5h4.2v4.2h-4.2zM375.0 106.6h4.2v4.2h-4.2zM378.3 105.5h4.2v4.2h-4.2zM382.7 102.2h4.2v4.2h-4.2zM384.9 98.9h4.2v4.2h-4.2zM388.2 93.4h4.2v4.2h-4.2zM199.4 251.4h4.2v4.2h-4.2zM193.1 257.7h4.2v4.2h-4.2zM184.2 267.6h4.2v4.2h-4.2zM176.6 278.5h4.2v4.2h-4.2zM171.7 285.5h4.2v4.2h-4.2zM274.5 178.8h4.2v4.2h-4.2zM355.0 125.9h4.2v4.2h-4.2zM344.7 119.9h4.2v4.2h-4.2zM345.5 124.3h4.2v4.2h-4.2zM344.1 128.2h4.2v4.2h-4.2zM339.5 128.5h4.2v4.2h-4.2zM353.4 118.6h4.2v4.2h-4.2zM171.4 284.9h4.2v4.2h-4.2zM165.5 289.2h4.2v4.2h-4.2zM266.2 180.1h4.2v4.2h-4.2zM167.2 287.9h4.2v4.2h-4.2zM159.4 298.8h4.2v4.2h-4.2zM173.6 281.5h4.2v4.2h-4.2zM182.8 270.7h4.2v4.2h-4.2zM167.2 290.7h4.2v4.2h-4.2z"/>
<line x1="85.1" y1="377.3" x2="459.9" y2="3.1" stroke="#333" stroke-width="1" stroke-dasharray="3.3 3.4"/>
<path d="M122.6 377.3v-8M122.6 3.1v8M85.1 339.9h8M459.9 339.9h-8M197.5 377.3v-8M197.5 3.1v8M85.1 265.0h8M459.9 265.0h-8M272.5 377.3v-8M272.5 3.1v8M85.1 190.2h8M459.9 190.2h-8M347.5 377.3v-8M347.5 3.1v8M85.1 115.4h8M459.9 115.4h-8M422.4 377.3v-8M422.4 3.1v8M85.1 40.5h8M459.9 40.5h-8" stroke="#333" stroke-width="1" fill="none"/>
<rect x="85.1" y="3.1" width="374.8" height="374.2" fill="none" stroke="#000" stroke-width="1.6"/>
<text x="125.6" y="408.3" text-anchor="middle">0</text>
<text x="70.8" y="348.1" text-anchor="end">0</text>
<text x="200.5" y="408.3" text-anchor="middle">10</text>
<text x="70.8" y="273.2" text-anchor="end">10</text>
<text x="275.5" y="408.3" text-anchor="middle">20</text>
<text x="70.8" y="198.4" text-anchor="end">20</text>
<text x="350.5" y="408.3" text-anchor="middle">30</text>
<text x="70.8" y="123.6" text-anchor="end">30</text>
<text x="425.4" y="408.3" text-anchor="middle">40</text>
<text x="70.8" y="48.7" text-anchor="end">40</text>
<rect x="150.5" y="26.7" width="4.2" height="4.2" fill="#000"/>
<text x="174.1" y="36.8">DFTB</text>
<rect x="292.3" y="26.7" width="4.2" height="4.2" fill="#f00"/>
<text x="315.6" y="36.8">DFTB <tspan x="387.6">NN</tspan></text>
<text x="153.9" y="446.3" xml:space="preserve">B3LYP Δ<tspan font-style="italic">E</tspan> (kcal/mol)</text>
<text transform="translate(27.1 323.5) rotate(-90)" xml:space="preserve">Predicted <tspan dx="3.8">Δ</tspan><tspan font-style="italic">E</tspan> (kcal/mol)</text>
<text x="4.1" y="444.8" font-weight="bold" font-size="28">(a)</text>
</g>
<g>
<path fill="#000" d="M606.7 336.6L607.0 337.7L609.8 345.3L606.7 350.9L609.7 352.7L621.7 355.2L630.3 356.1L638.9 355.2L647.5 353.4L656.2 350.9L664.4 347.2L675.4 342.8L686.4 338.4L697.3 334.1L708.3 327.5L719.2 322.0L730.1 313.2L741.2 304.4L774.1 278.1L784.1 269.2L786.2 267.9L791.3 259.4L794.9 253.9L802.1 246.7L809.0 239.9L812.4 232.9L810.6 227.7L805.9 221.0L799.1 215.2L792.4 211.6L784.4 214.0L775.6 219.3L767.1 221.9L755.4 224.9L751.2 226.2L745.9 230.2L739.4 232.1L735.4 236.7L730.2 238.1L725.9 242.3L720.5 241.6L715.8 245.4L709.3 252.0L700.0 261.2L687.9 270.8L676.9 279.6L666.0 288.3L657.8 297.4L648.9 306.3L640.0 313.5L631.2 320.5L622.3 325.9L613.5 331.2Z"/>
<path fill="#000" d="M721.1 238.1h4.2v4.2h-4.2zM767.8 221.1h4.2v4.2h-4.2zM638.3 310.1h4.2v4.2h-4.2zM649.2 302.7h4.2v4.2h-4.2zM637.8 353.3h4.2v4.2h-4.2zM759.7 284.0h4.2v4.2h-4.2zM785.8 261.3h4.2v4.2h-4.2zM782.8 213.7h4.2v4.2h-4.2zM749.0 224.5h4.2v4.2h-4.2zM654.7 348.0h4.2v4.2h-4.2zM710.2 321.5h4.2v4.2h-4.2zM795.8 248.6h4.2v4.2h-4.2zM664.5 286.0h4.2v4.2h-4.2zM746.8 228.1h4.2v4.2h-4.2zM708.0 322.5h4.2v4.2h-4.2zM628.5 352.2h4.2v4.2h-4.2zM671.4 282.1h4.2v4.2h-4.2zM664.7 288.2h4.2v4.2h-4.2zM605.0 336.5h4.2v4.2h-4.2zM794.4 249.1h4.2v4.2h-4.2zM789.6 254.6h4.2v4.2h-4.2zM608.7 351.0h4.2v4.2h-4.2zM605.0 331.6h4.2v4.2h-4.2zM636.8 352.2h4.2v4.2h-4.2zM734.0 233.4h4.2v4.2h-4.2zM773.2 217.0h4.2v4.2h-4.2zM636.2 312.4h4.2v4.2h-4.2zM613.8 327.8h4.2v4.2h-4.2zM609.0 331.7h4.2v4.2h-4.2zM737.6 304.1h4.2v4.2h-4.2zM757.2 285.6h4.2v4.2h-4.2zM738.9 229.2h4.2v4.2h-4.2zM709.8 248.2h4.2v4.2h-4.2zM761.3 220.5h4.2v4.2h-4.2zM617.2 352.0h4.2v4.2h-4.2zM608.6 348.9h4.2v4.2h-4.2zM794.8 248.3h4.2v4.2h-4.2zM740.3 303.7h4.2v4.2h-4.2zM614.2 350.4h4.2v4.2h-4.2zM681.8 271.9h4.2v4.2h-4.2zM662.3 288.2h4.2v4.2h-4.2zM630.9 319.2h4.2v4.2h-4.2zM686.8 270.1h4.2v4.2h-4.2zM764.4 219.8h4.2v4.2h-4.2zM803.5 221.2h4.2v4.2h-4.2zM668.3 279.8h4.2v4.2h-4.2zM676.0 278.2h4.2v4.2h-4.2zM739.1 229.6h4.2v4.2h-4.2zM682.5 265.0h4.2v4.2h-4.2zM693.9 262.9h4.2v4.2h-4.2zM621.0 351.6h4.2v4.2h-4.2zM606.3 344.7h4.2v4.2h-4.2zM604.4 334.9h4.2v4.2h-4.2zM604.0 348.9h4.2v4.2h-4.2zM610.3 330.4h4.2v4.2h-4.2zM642.4 310.0h4.2v4.2h-4.2zM643.7 306.2h4.2v4.2h-4.2zM806.3 238.5h4.2v4.2h-4.2zM609.2 331.3h4.2v4.2h-4.2zM735.3 302.7h4.2v4.2h-4.2zM612.6 329.6h4.2v4.2h-4.2zM660.5 290.9h4.2v4.2h-4.2zM708.5 324.2h4.2v4.2h-4.2zM752.2 295.0h4.2v4.2h-4.2zM744.9 298.0h4.2v4.2h-4.2zM810.3 232.7h4.2v4.2h-4.2zM666.9 341.7h4.2v4.2h-4.2zM671.6 281.1h4.2v4.2h-4.2zM666.9 286.0h4.2v4.2h-4.2zM775.2 216.4h4.2v4.2h-4.2zM739.6 302.4h4.2v4.2h-4.2zM753.3 289.5h4.2v4.2h-4.2zM614.6 351.9h4.2v4.2h-4.2zM761.6 220.6h4.2v4.2h-4.2zM691.4 333.1h4.2v4.2h-4.2zM806.1 222.2h4.2v4.2h-4.2zM735.8 303.0h4.2v4.2h-4.2zM768.7 216.1h4.2v4.2h-4.2zM744.9 227.2h4.2v4.2h-4.2zM605.1 335.0h4.2v4.2h-4.2zM759.4 285.7h4.2v4.2h-4.2zM800.4 218.4h4.2v4.2h-4.2zM748.9 223.4h4.2v4.2h-4.2zM745.3 228.0h4.2v4.2h-4.2zM721.7 317.1h4.2v4.2h-4.2zM770.3 217.6h4.2v4.2h-4.2zM779.7 270.1h4.2v4.2h-4.2zM797.9 244.7h4.2v4.2h-4.2zM790.7 258.7h4.2v4.2h-4.2zM704.3 254.2h4.2v4.2h-4.2zM778.8 216.1h4.2v4.2h-4.2zM660.6 343.9h4.2v4.2h-4.2zM635.7 313.4h4.2v4.2h-4.2zM656.4 350.7h4.2v4.2h-4.2zM635.1 314.7h4.2v4.2h-4.2zM662.3 289.0h4.2v4.2h-4.2zM697.0 260.4h4.2v4.2h-4.2zM619.1 325.9h4.2v4.2h-4.2zM632.6 353.3h4.2v4.2h-4.2zM757.2 288.8h4.2v4.2h-4.2zM722.7 314.9h4.2v4.2h-4.2zM766.2 280.7h4.2v4.2h-4.2zM651.5 348.6h4.2v4.2h-4.2zM681.7 274.4h4.2v4.2h-4.2zM726.3 310.7h4.2v4.2h-4.2zM751.0 290.4h4.2v4.2h-4.2zM693.7 262.0h4.2v4.2h-4.2zM801.8 218.5h4.2v4.2h-4.2zM757.5 285.5h4.2v4.2h-4.2zM632.2 314.9h4.2v4.2h-4.2zM727.3 309.1h4.2v4.2h-4.2zM693.7 264.2h4.2v4.2h-4.2zM704.7 324.2h4.2v4.2h-4.2zM702.3 257.2h4.2v4.2h-4.2zM772.2 276.1h4.2v4.2h-4.2zM810.3 230.9h4.2v4.2h-4.2zM623.1 323.8h4.2v4.2h-4.2zM757.9 222.6h4.2v4.2h-4.2zM608.1 349.4h4.2v4.2h-4.2zM686.0 334.7h4.2v4.2h-4.2zM622.6 351.5h4.2v4.2h-4.2zM671.0 280.5h4.2v4.2h-4.2zM650.3 349.7h4.2v4.2h-4.2zM782.3 264.7h4.2v4.2h-4.2zM792.6 257.1h4.2v4.2h-4.2zM612.1 329.4h4.2v4.2h-4.2zM804.0 216.5h4.2v4.2h-4.2zM721.1 240.3h4.2v4.2h-4.2zM617.9 323.1h4.2v4.2h-4.2zM725.2 311.6h4.2v4.2h-4.2zM638.6 312.9h4.2v4.2h-4.2zM666.0 343.8h4.2v4.2h-4.2zM810.7 231.9h4.2v4.2h-4.2zM793.5 248.4h4.2v4.2h-4.2zM747.5 296.6h4.2v4.2h-4.2zM727.6 310.8h4.2v4.2h-4.2zM708.4 249.7h4.2v4.2h-4.2zM790.3 210.8h4.2v4.2h-4.2zM641.9 350.3h4.2v4.2h-4.2zM628.2 319.1h4.2v4.2h-4.2zM801.4 244.3h4.2v4.2h-4.2zM672.9 279.5h4.2v4.2h-4.2zM612.2 349.7h4.2v4.2h-4.2zM795.8 213.1h4.2v4.2h-4.2zM709.8 246.3h4.2v4.2h-4.2zM651.3 300.0h4.2v4.2h-4.2zM650.9 347.8h4.2v4.2h-4.2zM682.8 271.3h4.2v4.2h-4.2zM712.9 246.3h4.2v4.2h-4.2zM634.8 312.9h4.2v4.2h-4.2zM699.3 328.8h4.2v4.2h-4.2zM654.4 349.3h4.2v4.2h-4.2zM712.8 243.4h4.2v4.2h-4.2zM656.3 348.2h4.2v4.2h-4.2zM701.1 328.4h4.2v4.2h-4.2zM731.0 306.5h4.2v4.2h-4.2zM783.4 265.2h4.2v4.2h-4.2zM784.6 263.4h4.2v4.2h-4.2zM641.7 308.3h4.2v4.2h-4.2zM758.4 285.7h4.2v4.2h-4.2zM671.4 342.4h4.2v4.2h-4.2zM623.4 319.4h4.2v4.2h-4.2zM715.5 243.2h4.2v4.2h-4.2zM711.5 321.2h4.2v4.2h-4.2zM660.4 345.5h4.2v4.2h-4.2zM781.4 211.4h4.2v4.2h-4.2zM658.8 344.8h4.2v4.2h-4.2zM773.7 212.8h4.2v4.2h-4.2zM726.4 311.5h4.2v4.2h-4.2zM622.3 353.5h4.2v4.2h-4.2zM777.2 217.0h4.2v4.2h-4.2zM679.6 337.4h4.2v4.2h-4.2zM801.2 219.2h4.2v4.2h-4.2zM757.7 219.1h4.2v4.2h-4.2zM752.8 288.9h4.2v4.2h-4.2zM737.2 301.8h4.2v4.2h-4.2zM682.8 334.8h4.2v4.2h-4.2zM642.7 353.7h4.2v4.2h-4.2zM605.1 337.5h4.2v4.2h-4.2zM632.1 352.9h4.2v4.2h-4.2zM769.3 218.3h4.2v4.2h-4.2zM641.4 307.8h4.2v4.2h-4.2zM763.8 280.7h4.2v4.2h-4.2zM618.8 351.6h4.2v4.2h-4.2zM696.2 329.0h4.2v4.2h-4.2zM783.4 264.9h4.2v4.2h-4.2zM681.2 271.7h4.2v4.2h-4.2zM628.3 354.5h4.2v4.2h-4.2zM605.4 350.1h4.2v4.2h-4.2zM686.2 335.1h4.2v4.2h-4.2zM718.0 236.1h4.2v4.2h-4.2zM652.4 301.1h4.2v4.2h-4.2zM635.9 353.5h4.2v4.2h-4.2zM616.8 350.6h4.2v4.2h-4.2zM711.2 320.6h4.2v4.2h-4.2zM799.5 242.6h4.2v4.2h-4.2zM735.1 233.9h4.2v4.2h-4.2zM662.5 287.1h4.2v4.2h-4.2zM798.1 216.5h4.2v4.2h-4.2zM608.2 349.4h4.2v4.2h-4.2zM788.5 209.5h4.2v4.2h-4.2zM673.0 279.3h4.2v4.2h-4.2zM630.2 317.0h4.2v4.2h-4.2zM736.7 302.7h4.2v4.2h-4.2zM731.6 307.6h4.2v4.2h-4.2zM785.1 262.9h4.2v4.2h-4.2zM644.1 308.8h4.2v4.2h-4.2zM634.6 310.7h4.2v4.2h-4.2zM800.1 244.5h4.2v4.2h-4.2zM765.2 281.0h4.2v4.2h-4.2zM617.5 324.7h4.2v4.2h-4.2zM658.9 346.5h4.2v4.2h-4.2zM749.5 294.5h4.2v4.2h-4.2zM777.3 216.9h4.2v4.2h-4.2zM771.6 219.4h4.2v4.2h-4.2zM641.2 309.8h4.2v4.2h-4.2zM785.1 261.5h4.2v4.2h-4.2zM647.5 350.7h4.2v4.2h-4.2zM662.6 343.2h4.2v4.2h-4.2zM729.3 308.8h4.2v4.2h-4.2zM650.1 301.8h4.2v4.2h-4.2zM679.9 273.2h4.2v4.2h-4.2zM658.2 295.0h4.2v4.2h-4.2zM611.8 350.7h4.2v4.2h-4.2zM788.5 262.2h4.2v4.2h-4.2zM701.5 327.3h4.2v4.2h-4.2zM709.4 322.4h4.2v4.2h-4.2zM609.4 332.7h4.2v4.2h-4.2zM677.9 338.2h4.2v4.2h-4.2zM803.2 244.1h4.2v4.2h-4.2zM786.0 259.3h4.2v4.2h-4.2zM631.7 316.6h4.2v4.2h-4.2zM696.8 329.4h4.2v4.2h-4.2zM777.4 271.0h4.2v4.2h-4.2zM775.9 213.4h4.2v4.2h-4.2zM699.6 328.6h4.2v4.2h-4.2zM629.9 353.8h4.2v4.2h-4.2zM614.7 352.1h4.2v4.2h-4.2zM692.0 264.6h4.2v4.2h-4.2zM774.1 272.2h4.2v4.2h-4.2zM657.6 347.2h4.2v4.2h-4.2zM605.1 346.8h4.2v4.2h-4.2zM794.9 249.8h4.2v4.2h-4.2zM803.0 241.4h4.2v4.2h-4.2zM731.2 236.3h4.2v4.2h-4.2zM729.9 235.8h4.2v4.2h-4.2zM617.6 353.0h4.2v4.2h-4.2zM775.3 279.4h4.2v4.2h-4.2zM616.1 352.3h4.2v4.2h-4.2zM728.0 237.2h4.2v4.2h-4.2zM763.2 218.0h4.2v4.2h-4.2zM749.8 294.8h4.2v4.2h-4.2zM790.7 253.3h4.2v4.2h-4.2zM753.2 290.9h4.2v4.2h-4.2zM662.8 345.7h4.2v4.2h-4.2zM752.7 290.2h4.2v4.2h-4.2zM762.1 221.4h4.2v4.2h-4.2zM728.9 309.0h4.2v4.2h-4.2zM700.4 256.3h4.2v4.2h-4.2zM634.0 311.4h4.2v4.2h-4.2zM737.2 230.1h4.2v4.2h-4.2zM792.6 212.9h4.2v4.2h-4.2zM623.1 322.8h4.2v4.2h-4.2zM716.7 320.5h4.2v4.2h-4.2zM766.8 220.0h4.2v4.2h-4.2zM638.8 350.6h4.2v4.2h-4.2zM751.9 297.3h4.2v4.2h-4.2zM680.7 273.0h4.2v4.2h-4.2zM690.4 266.4h4.2v4.2h-4.2zM632.7 353.3h4.2v4.2h-4.2zM757.2 287.1h4.2v4.2h-4.2zM631.2 353.0h4.2v4.2h-4.2zM692.2 263.3h4.2v4.2h-4.2zM681.9 335.3h4.2v4.2h-4.2zM756.4 221.4h4.2v4.2h-4.2zM718.6 241.5h4.2v4.2h-4.2zM778.9 267.6h4.2v4.2h-4.2zM644.2 308.4h4.2v4.2h-4.2zM708.7 323.8h4.2v4.2h-4.2zM811.2 234.4h4.2v4.2h-4.2zM752.9 222.7h4.2v4.2h-4.2zM684.2 335.0h4.2v4.2h-4.2zM787.0 261.5h4.2v4.2h-4.2zM765.0 279.1h4.2v4.2h-4.2zM748.3 226.4h4.2v4.2h-4.2zM682.3 335.6h4.2v4.2h-4.2zM683.9 271.1h4.2v4.2h-4.2zM633.0 353.7h4.2v4.2h-4.2zM731.4 237.2h4.2v4.2h-4.2zM733.5 306.1h4.2v4.2h-4.2zM774.5 217.1h4.2v4.2h-4.2zM656.8 293.7h4.2v4.2h-4.2zM771.2 219.6h4.2v4.2h-4.2zM606.4 332.4h4.2v4.2h-4.2zM761.3 283.7h4.2v4.2h-4.2zM788.8 212.0h4.2v4.2h-4.2zM750.9 223.1h4.2v4.2h-4.2zM768.7 214.6h4.2v4.2h-4.2zM747.9 224.3h4.2v4.2h-4.2zM748.4 293.5h4.2v4.2h-4.2zM691.1 335.7h4.2v4.2h-4.2zM615.8 328.4h4.2v4.2h-4.2zM784.2 262.3h4.2v4.2h-4.2zM786.5 210.3h4.2v4.2h-4.2zM623.2 323.8h4.2v4.2h-4.2zM625.7 322.3h4.2v4.2h-4.2zM757.1 285.4h4.2v4.2h-4.2zM786.5 211.3h4.2v4.2h-4.2zM749.2 224.7h4.2v4.2h-4.2zM638.4 312.1h4.2v4.2h-4.2zM728.6 311.7h4.2v4.2h-4.2zM729.1 309.1h4.2v4.2h-4.2zM714.8 242.3h4.2v4.2h-4.2zM810.7 230.5h4.2v4.2h-4.2zM736.2 233.1h4.2v4.2h-4.2zM759.0 218.0h4.2v4.2h-4.2zM799.2 216.1h4.2v4.2h-4.2zM623.8 320.8h4.2v4.2h-4.2zM760.9 218.3h4.2v4.2h-4.2zM675.2 276.7h4.2v4.2h-4.2zM604.9 349.1h4.2v4.2h-4.2zM802.6 219.6h4.2v4.2h-4.2zM681.3 271.4h4.2v4.2h-4.2zM789.2 211.8h4.2v4.2h-4.2zM798.3 214.1h4.2v4.2h-4.2zM677.3 274.6h4.2v4.2h-4.2zM725.0 311.4h4.2v4.2h-4.2zM603.7 348.7h4.2v4.2h-4.2zM690.7 331.7h4.2v4.2h-4.2zM726.0 239.4h4.2v4.2h-4.2zM683.3 272.3h4.2v4.2h-4.2zM684.8 337.0h4.2v4.2h-4.2zM706.9 323.5h4.2v4.2h-4.2zM666.6 284.5h4.2v4.2h-4.2zM733.9 304.5h4.2v4.2h-4.2zM607.2 334.1h4.2v4.2h-4.2zM703.0 254.0h4.2v4.2h-4.2zM748.6 298.5h4.2v4.2h-4.2zM652.2 299.2h4.2v4.2h-4.2zM729.0 236.4h4.2v4.2h-4.2zM690.3 332.3h4.2v4.2h-4.2zM723.3 315.2h4.2v4.2h-4.2zM610.0 332.1h4.2v4.2h-4.2zM629.4 318.5h4.2v4.2h-4.2zM668.8 282.1h4.2v4.2h-4.2zM779.6 212.6h4.2v4.2h-4.2zM633.3 352.1h4.2v4.2h-4.2zM709.9 249.4h4.2v4.2h-4.2zM780.4 214.7h4.2v4.2h-4.2zM613.4 329.9h4.2v4.2h-4.2zM631.4 353.3h4.2v4.2h-4.2zM610.4 329.8h4.2v4.2h-4.2zM782.6 264.3h4.2v4.2h-4.2zM736.0 230.6h4.2v4.2h-4.2zM671.6 341.6h4.2v4.2h-4.2zM806.7 234.6h4.2v4.2h-4.2zM699.5 258.1h4.2v4.2h-4.2zM647.3 303.4h4.2v4.2h-4.2zM790.6 211.2h4.2v4.2h-4.2zM632.4 351.5h4.2v4.2h-4.2zM781.7 212.4h4.2v4.2h-4.2zM720.8 318.0h4.2v4.2h-4.2zM653.3 351.9h4.2v4.2h-4.2zM693.9 261.9h4.2v4.2h-4.2zM770.4 276.1h4.2v4.2h-4.2zM668.8 341.3h4.2v4.2h-4.2zM797.4 212.6h4.2v4.2h-4.2zM654.7 352.8h4.2v4.2h-4.2zM640.8 308.3h4.2v4.2h-4.2zM697.6 331.3h4.2v4.2h-4.2zM652.8 347.4h4.2v4.2h-4.2zM692.1 333.8h4.2v4.2h-4.2zM726.9 312.4h4.2v4.2h-4.2zM645.5 355.0h4.2v4.2h-4.2zM763.1 282.8h4.2v4.2h-4.2zM731.1 235.8h4.2v4.2h-4.2zM667.8 274.1h4.2v4.2h-4.2zM682.8 271.0h4.2v4.2h-4.2zM663.7 286.4h4.2v4.2h-4.2zM758.3 294.0h4.2v4.2h-4.2zM610.0 349.7h4.2v4.2h-4.2zM784.3 213.2h4.2v4.2h-4.2zM702.9 256.0h4.2v4.2h-4.2zM744.4 226.6h4.2v4.2h-4.2zM740.5 301.4h4.2v4.2h-4.2zM697.5 259.8h4.2v4.2h-4.2zM607.0 335.9h4.2v4.2h-4.2zM738.3 302.9h4.2v4.2h-4.2zM757.1 222.4h4.2v4.2h-4.2zM692.5 333.5h4.2v4.2h-4.2zM718.9 317.8h4.2v4.2h-4.2zM663.3 287.9h4.2v4.2h-4.2zM683.2 334.9h4.2v4.2h-4.2zM610.4 331.0h4.2v4.2h-4.2zM697.6 329.5h4.2v4.2h-4.2zM713.0 243.1h4.2v4.2h-4.2zM669.9 283.1h4.2v4.2h-4.2zM708.1 249.5h4.2v4.2h-4.2zM702.1 257.7h4.2v4.2h-4.2zM692.5 265.0h4.2v4.2h-4.2zM718.2 319.4h4.2v4.2h-4.2zM767.7 279.1h4.2v4.2h-4.2zM694.4 261.5h4.2v4.2h-4.2zM748.8 224.1h4.2v4.2h-4.2zM797.6 213.1h4.2v4.2h-4.2zM664.9 287.6h4.2v4.2h-4.2zM645.6 350.7h4.2v4.2h-4.2zM650.3 300.0h4.2v4.2h-4.2zM798.3 246.9h4.2v4.2h-4.2zM646.6 303.8h4.2v4.2h-4.2zM610.2 332.0h4.2v4.2h-4.2zM750.8 293.2h4.2v4.2h-4.2zM806.9 218.5h4.2v4.2h-4.2zM807.6 225.7h4.2v4.2h-4.2zM795.7 210.6h4.2v4.2h-4.2zM810.5 229.1h4.2v4.2h-4.2zM787.7 259.3h4.2v4.2h-4.2zM626.4 353.9h4.2v4.2h-4.2zM797.6 215.9h4.2v4.2h-4.2zM788.0 210.7h4.2v4.2h-4.2zM666.0 284.3h4.2v4.2h-4.2zM696.1 263.0h4.2v4.2h-4.2zM630.1 353.1h4.2v4.2h-4.2zM781.5 265.3h4.2v4.2h-4.2zM788.3 256.6h4.2v4.2h-4.2zM740.9 299.1h4.2v4.2h-4.2zM681.2 337.5h4.2v4.2h-4.2zM713.2 246.2h4.2v4.2h-4.2zM810.9 227.5h4.2v4.2h-4.2zM655.5 346.0h4.2v4.2h-4.2zM653.8 348.2h4.2v4.2h-4.2zM729.3 309.9h4.2v4.2h-4.2zM620.8 325.1h4.2v4.2h-4.2zM655.2 348.5h4.2v4.2h-4.2zM665.5 342.7h4.2v4.2h-4.2zM619.4 325.9h4.2v4.2h-4.2zM645.9 349.4h4.2v4.2h-4.2zM678.2 275.0h4.2v4.2h-4.2zM797.3 247.1h4.2v4.2h-4.2zM803.0 217.8h4.2v4.2h-4.2zM771.1 274.1h4.2v4.2h-4.2zM703.6 253.3h4.2v4.2h-4.2zM785.4 261.6h4.2v4.2h-4.2zM651.6 300.5h4.2v4.2h-4.2zM606.2 347.6h4.2v4.2h-4.2zM728.6 236.8h4.2v4.2h-4.2zM786.6 259.3h4.2v4.2h-4.2zM804.0 219.1h4.2v4.2h-4.2zM739.7 230.2h4.2v4.2h-4.2zM608.6 354.7h4.2v4.2h-4.2zM630.0 318.8h4.2v4.2h-4.2zM655.9 295.9h4.2v4.2h-4.2zM789.8 258.0h4.2v4.2h-4.2zM606.3 335.7h4.2v4.2h-4.2zM622.9 353.8h4.2v4.2h-4.2zM641.7 351.0h4.2v4.2h-4.2zM706.0 252.2h4.2v4.2h-4.2zM636.2 351.2h4.2v4.2h-4.2zM732.8 312.0h4.2v4.2h-4.2zM652.6 299.5h4.2v4.2h-4.2zM617.4 352.7h4.2v4.2h-4.2zM624.1 321.9h4.2v4.2h-4.2zM784.8 266.1h4.2v4.2h-4.2zM790.0 211.6h4.2v4.2h-4.2zM739.6 229.9h4.2v4.2h-4.2zM697.2 328.4h4.2v4.2h-4.2zM759.1 285.9h4.2v4.2h-4.2zM659.2 344.4h4.2v4.2h-4.2zM794.2 211.1h4.2v4.2h-4.2zM695.7 331.9h4.2v4.2h-4.2zM779.6 271.5h4.2v4.2h-4.2zM664.4 344.2h4.2v4.2h-4.2zM663.6 286.3h4.2v4.2h-4.2zM803.4 216.4h4.2v4.2h-4.2zM789.6 211.5h4.2v4.2h-4.2zM619.7 353.7h4.2v4.2h-4.2zM663.5 344.8h4.2v4.2h-4.2zM789.8 211.0h4.2v4.2h-4.2zM619.1 353.3h4.2v4.2h-4.2zM795.9 249.6h4.2v4.2h-4.2zM643.2 306.6h4.2v4.2h-4.2zM710.7 247.9h4.2v4.2h-4.2zM612.3 298.2h4.2v4.2h-4.2zM615.8 290.2h4.2v4.2h-4.2zM623.8 284.1h4.2v4.2h-4.2zM620.2 294.7h4.2v4.2h-4.2zM810.8 207.0h4.2v4.2h-4.2zM790.5 207.0h4.2v4.2h-4.2zM838.9 208.8h4.2v4.2h-4.2zM841.6 213.2h4.2v4.2h-4.2zM846.9 215.8h4.2v4.2h-4.2zM853.0 211.4h4.2v4.2h-4.2zM834.5 220.2h4.2v4.2h-4.2zM831.0 230.8h4.2v4.2h-4.2zM825.7 237.8h4.2v4.2h-4.2zM816.9 240.5h4.2v4.2h-4.2zM816.9 245.7h4.2v4.2h-4.2zM809.9 248.4h4.2v4.2h-4.2zM801.1 254.5h4.2v4.2h-4.2zM790.5 263.3h4.2v4.2h-4.2zM821.5 240.9h4.2v4.2h-4.2zM827.2 225.4h4.2v4.2h-4.2zM820.5 212.1h4.2v4.2h-4.2zM822.7 241.1h4.2v4.2h-4.2zM792.4 207.3h4.2v4.2h-4.2zM793.5 209.0h4.2v4.2h-4.2zM837.2 211.7h4.2v4.2h-4.2zM810.0 238.4h4.2v4.2h-4.2zM802.4 251.4h4.2v4.2h-4.2zM814.7 207.1h4.2v4.2h-4.2zM830.3 222.7h4.2v4.2h-4.2zM810.2 217.3h4.2v4.2h-4.2zM806.1 248.5h4.2v4.2h-4.2zM836.1 224.3h4.2v4.2h-4.2zM845.9 211.1h4.2v4.2h-4.2zM816.6 214.1h4.2v4.2h-4.2zM808.9 241.3h4.2v4.2h-4.2zM807.4 208.4h4.2v4.2h-4.2zM818.6 236.7h4.2v4.2h-4.2zM819.7 236.5h4.2v4.2h-4.2zM816.0 224.7h4.2v4.2h-4.2zM809.6 238.2h4.2v4.2h-4.2zM820.2 210.6h4.2v4.2h-4.2zM830.5 215.1h4.2v4.2h-4.2zM808.5 216.7h4.2v4.2h-4.2zM837.4 212.6h4.2v4.2h-4.2zM814.9 219.7h4.2v4.2h-4.2zM810.3 219.9h4.2v4.2h-4.2zM838.3 209.0h4.2v4.2h-4.2zM812.9 245.9h4.2v4.2h-4.2zM819.4 213.0h4.2v4.2h-4.2zM811.2 242.1h4.2v4.2h-4.2zM814.6 226.5h4.2v4.2h-4.2zM817.3 228.4h4.2v4.2h-4.2zM820.7 243.7h4.2v4.2h-4.2zM807.8 211.2h4.2v4.2h-4.2zM809.6 247.2h4.2v4.2h-4.2zM813.8 225.1h4.2v4.2h-4.2zM834.7 220.6h4.2v4.2h-4.2zM833.8 213.3h4.2v4.2h-4.2zM833.0 218.8h4.2v4.2h-4.2zM833.8 220.0h4.2v4.2h-4.2zM812.8 209.0h4.2v4.2h-4.2zM805.5 215.3h4.2v4.2h-4.2zM809.3 239.6h4.2v4.2h-4.2zM804.7 243.1h4.2v4.2h-4.2zM817.8 224.7h4.2v4.2h-4.2zM827.4 207.4h4.2v4.2h-4.2zM814.9 242.3h4.2v4.2h-4.2zM796.5 206.7h4.2v4.2h-4.2zM809.9 224.2h4.2v4.2h-4.2zM808.6 220.9h4.2v4.2h-4.2zM801.2 209.1h4.2v4.2h-4.2zM812.5 230.9h4.2v4.2h-4.2zM787.7 207.9h4.2v4.2h-4.2zM810.3 236.5h4.2v4.2h-4.2zM813.1 215.4h4.2v4.2h-4.2zM791.9 256.2h4.2v4.2h-4.2zM813.9 251.8h4.2v4.2h-4.2zM817.4 210.4h4.2v4.2h-4.2zM821.1 232.1h4.2v4.2h-4.2zM806.4 256.9h4.2v4.2h-4.2zM811.1 227.7h4.2v4.2h-4.2zM812.1 214.5h4.2v4.2h-4.2zM794.7 203.9h4.2v4.2h-4.2zM799.7 213.0h4.2v4.2h-4.2zM822.9 234.3h4.2v4.2h-4.2zM799.3 253.7h4.2v4.2h-4.2zM793.6 258.9h4.2v4.2h-4.2zM819.8 219.1h4.2v4.2h-4.2zM793.7 253.8h4.2v4.2h-4.2zM810.8 227.0h4.2v4.2h-4.2zM797.6 251.8h4.2v4.2h-4.2zM814.2 251.9h4.2v4.2h-4.2zM801.2 259.5h4.2v4.2h-4.2zM803.0 248.1h4.2v4.2h-4.2zM807.3 214.2h4.2v4.2h-4.2zM808.8 238.4h4.2v4.2h-4.2zM789.1 206.8h4.2v4.2h-4.2zM798.7 253.9h4.2v4.2h-4.2zM802.8 251.9h4.2v4.2h-4.2zM811.3 236.4h4.2v4.2h-4.2zM797.4 260.5h4.2v4.2h-4.2zM805.7 218.4h4.2v4.2h-4.2zM800.2 211.3h4.2v4.2h-4.2zM812.6 216.3h4.2v4.2h-4.2zM815.7 225.5h4.2v4.2h-4.2zM831.6 225.2h4.2v4.2h-4.2zM812.0 245.9h4.2v4.2h-4.2zM776.6 274.2h4.2v4.2h-4.2zM789.7 268.9h4.2v4.2h-4.2zM746.2 303.4h4.2v4.2h-4.2zM799.0 250.9h4.2v4.2h-4.2zM762.3 289.0h4.2v4.2h-4.2zM751.6 295.8h4.2v4.2h-4.2zM745.6 299.6h4.2v4.2h-4.2zM757.7 290.3h4.2v4.2h-4.2zM781.5 270.1h4.2v4.2h-4.2zM787.0 264.8h4.2v4.2h-4.2zM772.2 279.7h4.2v4.2h-4.2zM802.5 253.6h4.2v4.2h-4.2zM781.1 271.5h4.2v4.2h-4.2zM763.8 286.1h4.2v4.2h-4.2zM768.7 284.2h4.2v4.2h-4.2zM763.0 290.0h4.2v4.2h-4.2zM776.3 274.5h4.2v4.2h-4.2zM812.6 244.1h4.2v4.2h-4.2zM807.9 243.2h4.2v4.2h-4.2zM791.4 257.1h4.2v4.2h-4.2zM768.2 283.3h4.2v4.2h-4.2zM772.4 279.0h4.2v4.2h-4.2zM777.8 273.8h4.2v4.2h-4.2zM754.9 293.4h4.2v4.2h-4.2zM775.2 276.0h4.2v4.2h-4.2zM790.4 260.8h4.2v4.2h-4.2zM805.4 245.9h4.2v4.2h-4.2zM758.9 290.9h4.2v4.2h-4.2zM811.4 240.8h4.2v4.2h-4.2zM775.6 211.6h4.2v4.2h-4.2zM765.7 217.5h4.2v4.2h-4.2zM746.6 223.6h4.2v4.2h-4.2zM779.9 210.2h4.2v4.2h-4.2zM756.9 219.8h4.2v4.2h-4.2zM793.8 209.5h4.2v4.2h-4.2zM766.0 216.7h4.2v4.2h-4.2zM764.6 217.0h4.2v4.2h-4.2zM756.3 218.1h4.2v4.2h-4.2zM793.6 206.5h4.2v4.2h-4.2zM773.6 211.8h4.2v4.2h-4.2zM774.1 212.5h4.2v4.2h-4.2zM798.7 211.8h4.2v4.2h-4.2zM805.7 205.1h4.2v4.2h-4.2zM769.0 215.9h4.2v4.2h-4.2zM793.8 208.0h4.2v4.2h-4.2zM774.7 214.2h4.2v4.2h-4.2zM744.8 224.7h4.2v4.2h-4.2zM749.1 219.3h4.2v4.2h-4.2zM786.7 203.0h4.2v4.2h-4.2zM765.1 217.6h4.2v4.2h-4.2zM777.2 212.1h4.2v4.2h-4.2zM763.8 215.8h4.2v4.2h-4.2zM751.7 220.3h4.2v4.2h-4.2zM783.4 209.9h4.2v4.2h-4.2z"/>
<path fill="#f00" d="M606.4 334.7L611.9 331.6L620.7 326.3L629.4 321.1L638.2 314.1L646.9 307.1L655.6 298.4L664.0 289.1L675.1 280.2L686.1 271.4L698.0 262.0L707.1 252.8L713.8 246.2L720.3 240.9L726.9 233.0L733.6 227.7L740.2 221.1L746.9 214.5L754.0 209.2L762.0 200.1L767.3 193.3L773.9 182.5L791.8 168.9L804.0 153.1L810.8 144.0L818.2 135.9L824.1 130.8L831.9 124.9L836.5 118.5L836.5 111.1L833.1 110.1L826.7 112.8L820.1 116.8L813.2 121.7L806.2 127.7L799.1 133.5L793.5 137.2L784.9 139.7L778.1 147.4L770.5 154.5L764.3 162.5L758.9 167.9L752.0 173.8L748.5 181.0L739.5 187.2L732.4 195.4L721.7 198.9L715.0 205.6L707.3 218.0L703.7 222.5L698.4 227.9L693.0 233.2L687.5 236.9L682.4 239.4L678.2 243.5L673.6 251.0L668.3 252.7L666.8 255.0L661.2 261.5L655.9 264.1L642.0 280.9L638.2 285.7L631.1 288.4L627.8 291.6L622.8 298.4L619.0 305.9L614.0 307.5L613.3 315.8L608.6 323.0L607.1 326.2Z"/>
<path fill="#f00" d="M729.8 225.1h4.2v4.2h-4.2zM646.8 303.2h4.2v4.2h-4.2zM605.7 328.6h4.2v4.2h-4.2zM762.2 159.6h4.2v4.2h-4.2zM611.1 315.9h4.2v4.2h-4.2zM627.6 319.3h4.2v4.2h-4.2zM684.6 235.2h4.2v4.2h-4.2zM825.8 124.6h4.2v4.2h-4.2zM612.0 311.7h4.2v4.2h-4.2zM827.0 122.5h4.2v4.2h-4.2zM830.1 109.2h4.2v4.2h-4.2zM705.6 211.4h4.2v4.2h-4.2zM648.5 298.8h4.2v4.2h-4.2zM683.0 235.2h4.2v4.2h-4.2zM720.2 196.0h4.2v4.2h-4.2zM713.6 240.2h4.2v4.2h-4.2zM676.7 275.7h4.2v4.2h-4.2zM641.3 274.3h4.2v4.2h-4.2zM737.2 187.9h4.2v4.2h-4.2zM631.3 287.0h4.2v4.2h-4.2zM773.9 149.6h4.2v4.2h-4.2zM645.5 302.0h4.2v4.2h-4.2zM802.3 124.5h4.2v4.2h-4.2zM659.5 290.2h4.2v4.2h-4.2zM624.9 318.3h4.2v4.2h-4.2zM717.4 196.2h4.2v4.2h-4.2zM740.2 184.6h4.2v4.2h-4.2zM687.0 265.3h4.2v4.2h-4.2zM696.3 256.9h4.2v4.2h-4.2zM650.4 296.7h4.2v4.2h-4.2zM747.7 210.8h4.2v4.2h-4.2zM729.0 192.8h4.2v4.2h-4.2zM771.4 179.5h4.2v4.2h-4.2zM615.3 325.1h4.2v4.2h-4.2zM777.9 146.1h4.2v4.2h-4.2zM633.9 313.6h4.2v4.2h-4.2zM728.9 225.6h4.2v4.2h-4.2zM814.9 139.3h4.2v4.2h-4.2zM713.7 202.9h4.2v4.2h-4.2zM606.9 324.5h4.2v4.2h-4.2zM790.3 162.8h4.2v4.2h-4.2zM666.2 284.2h4.2v4.2h-4.2zM751.1 205.7h4.2v4.2h-4.2zM766.6 158.0h4.2v4.2h-4.2zM677.1 274.1h4.2v4.2h-4.2zM812.9 136.8h4.2v4.2h-4.2zM781.3 140.8h4.2v4.2h-4.2zM721.0 196.3h4.2v4.2h-4.2zM648.2 302.2h4.2v4.2h-4.2zM646.2 274.2h4.2v4.2h-4.2zM695.6 227.2h4.2v4.2h-4.2zM798.8 131.9h4.2v4.2h-4.2zM695.5 259.1h4.2v4.2h-4.2zM661.2 257.2h4.2v4.2h-4.2zM811.0 140.6h4.2v4.2h-4.2zM826.2 109.6h4.2v4.2h-4.2zM672.9 278.3h4.2v4.2h-4.2zM717.6 237.0h4.2v4.2h-4.2zM657.1 260.8h4.2v4.2h-4.2zM798.5 129.4h4.2v4.2h-4.2zM616.0 326.2h4.2v4.2h-4.2zM810.8 119.3h4.2v4.2h-4.2zM733.4 222.0h4.2v4.2h-4.2zM684.1 266.6h4.2v4.2h-4.2zM750.6 205.4h4.2v4.2h-4.2zM678.8 239.5h4.2v4.2h-4.2zM813.4 118.3h4.2v4.2h-4.2zM709.3 244.9h4.2v4.2h-4.2zM757.7 201.8h4.2v4.2h-4.2zM768.2 153.0h4.2v4.2h-4.2zM618.5 323.5h4.2v4.2h-4.2zM611.6 327.7h4.2v4.2h-4.2zM641.7 306.7h4.2v4.2h-4.2zM783.9 137.7h4.2v4.2h-4.2zM798.6 156.5h4.2v4.2h-4.2zM655.4 262.1h4.2v4.2h-4.2zM741.8 213.1h4.2v4.2h-4.2zM740.3 184.3h4.2v4.2h-4.2zM614.3 305.7h4.2v4.2h-4.2zM822.1 111.4h4.2v4.2h-4.2zM606.5 324.7h4.2v4.2h-4.2zM612.1 313.4h4.2v4.2h-4.2zM654.2 262.9h4.2v4.2h-4.2zM796.5 159.4h4.2v4.2h-4.2zM618.7 300.2h4.2v4.2h-4.2zM684.9 234.3h4.2v4.2h-4.2zM773.5 147.7h4.2v4.2h-4.2zM768.9 154.2h4.2v4.2h-4.2zM648.4 269.8h4.2v4.2h-4.2zM628.0 287.6h4.2v4.2h-4.2zM611.3 327.7h4.2v4.2h-4.2zM618.5 299.9h4.2v4.2h-4.2zM633.9 312.4h4.2v4.2h-4.2zM786.9 168.4h4.2v4.2h-4.2zM636.6 309.2h4.2v4.2h-4.2zM606.0 324.1h4.2v4.2h-4.2zM724.7 230.9h4.2v4.2h-4.2zM644.8 305.0h4.2v4.2h-4.2zM808.2 142.6h4.2v4.2h-4.2zM668.9 251.9h4.2v4.2h-4.2zM707.6 210.8h4.2v4.2h-4.2zM792.7 135.8h4.2v4.2h-4.2zM783.7 171.8h4.2v4.2h-4.2zM782.7 137.7h4.2v4.2h-4.2zM654.5 261.3h4.2v4.2h-4.2zM766.0 154.9h4.2v4.2h-4.2zM713.1 240.9h4.2v4.2h-4.2zM603.9 317.9h4.2v4.2h-4.2zM828.1 121.8h4.2v4.2h-4.2zM728.4 226.2h4.2v4.2h-4.2zM694.4 258.8h4.2v4.2h-4.2zM725.4 229.7h4.2v4.2h-4.2zM752.4 205.6h4.2v4.2h-4.2zM741.3 184.6h4.2v4.2h-4.2zM759.6 160.8h4.2v4.2h-4.2zM607.9 331.4h4.2v4.2h-4.2zM603.3 330.8h4.2v4.2h-4.2zM711.3 210.0h4.2v4.2h-4.2zM710.6 210.3h4.2v4.2h-4.2zM776.8 146.7h4.2v4.2h-4.2zM661.6 256.1h4.2v4.2h-4.2zM654.4 294.2h4.2v4.2h-4.2zM765.0 189.9h4.2v4.2h-4.2zM744.7 212.0h4.2v4.2h-4.2zM750.6 172.2h4.2v4.2h-4.2zM738.0 186.0h4.2v4.2h-4.2zM735.1 220.5h4.2v4.2h-4.2zM653.1 262.6h4.2v4.2h-4.2zM680.9 271.9h4.2v4.2h-4.2zM626.7 317.8h4.2v4.2h-4.2zM741.0 216.9h4.2v4.2h-4.2zM802.2 148.0h4.2v4.2h-4.2zM805.5 126.7h4.2v4.2h-4.2zM800.5 128.4h4.2v4.2h-4.2zM656.2 262.6h4.2v4.2h-4.2zM754.4 203.4h4.2v4.2h-4.2zM718.4 235.7h4.2v4.2h-4.2zM657.9 261.2h4.2v4.2h-4.2zM719.7 197.4h4.2v4.2h-4.2zM780.6 172.8h4.2v4.2h-4.2zM766.9 185.2h4.2v4.2h-4.2zM766.1 191.1h4.2v4.2h-4.2zM654.2 296.3h4.2v4.2h-4.2zM669.1 280.0h4.2v4.2h-4.2zM728.2 228.2h4.2v4.2h-4.2zM614.8 304.5h4.2v4.2h-4.2zM743.4 212.2h4.2v4.2h-4.2zM699.3 257.0h4.2v4.2h-4.2zM833.8 116.3h4.2v4.2h-4.2zM714.0 204.7h4.2v4.2h-4.2zM710.6 245.4h4.2v4.2h-4.2zM831.4 121.9h4.2v4.2h-4.2zM706.0 214.4h4.2v4.2h-4.2zM651.4 297.5h4.2v4.2h-4.2zM645.8 272.2h4.2v4.2h-4.2zM693.3 228.1h4.2v4.2h-4.2zM716.7 239.0h4.2v4.2h-4.2zM752.1 170.7h4.2v4.2h-4.2zM812.0 120.9h4.2v4.2h-4.2zM612.1 328.3h4.2v4.2h-4.2zM809.7 120.5h4.2v4.2h-4.2zM802.4 127.5h4.2v4.2h-4.2zM817.6 131.3h4.2v4.2h-4.2zM657.2 261.7h4.2v4.2h-4.2zM739.4 218.3h4.2v4.2h-4.2zM614.0 326.3h4.2v4.2h-4.2zM612.7 312.4h4.2v4.2h-4.2zM743.8 212.7h4.2v4.2h-4.2zM693.7 260.5h4.2v4.2h-4.2zM780.5 173.6h4.2v4.2h-4.2zM671.2 249.9h4.2v4.2h-4.2zM750.6 173.4h4.2v4.2h-4.2zM610.6 316.8h4.2v4.2h-4.2zM651.6 298.5h4.2v4.2h-4.2zM659.4 261.1h4.2v4.2h-4.2zM789.1 137.2h4.2v4.2h-4.2zM777.9 175.1h4.2v4.2h-4.2zM613.9 328.0h4.2v4.2h-4.2zM638.8 281.9h4.2v4.2h-4.2zM762.1 160.5h4.2v4.2h-4.2zM707.6 245.4h4.2v4.2h-4.2zM720.4 233.1h4.2v4.2h-4.2zM741.5 182.5h4.2v4.2h-4.2zM608.7 316.3h4.2v4.2h-4.2zM642.3 276.3h4.2v4.2h-4.2zM817.3 131.4h4.2v4.2h-4.2zM675.2 241.8h4.2v4.2h-4.2zM651.3 297.1h4.2v4.2h-4.2zM826.9 105.4h4.2v4.2h-4.2zM729.1 227.2h4.2v4.2h-4.2zM654.1 262.2h4.2v4.2h-4.2zM680.3 271.9h4.2v4.2h-4.2zM799.8 152.8h4.2v4.2h-4.2zM737.9 186.1h4.2v4.2h-4.2zM655.6 294.3h4.2v4.2h-4.2zM603.4 335.7h4.2v4.2h-4.2zM716.4 201.2h4.2v4.2h-4.2zM729.1 227.9h4.2v4.2h-4.2zM827.4 109.6h4.2v4.2h-4.2zM818.1 130.4h4.2v4.2h-4.2zM740.0 217.3h4.2v4.2h-4.2zM785.6 169.6h4.2v4.2h-4.2zM830.7 109.7h4.2v4.2h-4.2zM613.5 304.3h4.2v4.2h-4.2zM798.9 129.1h4.2v4.2h-4.2zM768.0 187.1h4.2v4.2h-4.2zM750.1 175.3h4.2v4.2h-4.2zM730.1 190.8h4.2v4.2h-4.2zM802.8 121.8h4.2v4.2h-4.2zM799.7 154.7h4.2v4.2h-4.2zM626.6 319.6h4.2v4.2h-4.2zM609.1 329.0h4.2v4.2h-4.2zM754.4 169.5h4.2v4.2h-4.2zM660.9 286.8h4.2v4.2h-4.2zM692.1 263.2h4.2v4.2h-4.2zM786.0 167.7h4.2v4.2h-4.2zM733.2 221.6h4.2v4.2h-4.2zM826.1 110.6h4.2v4.2h-4.2zM694.2 263.1h4.2v4.2h-4.2zM618.5 300.2h4.2v4.2h-4.2zM650.2 263.5h4.2v4.2h-4.2zM796.8 156.8h4.2v4.2h-4.2zM642.7 308.7h4.2v4.2h-4.2zM797.9 154.2h4.2v4.2h-4.2zM731.0 226.0h4.2v4.2h-4.2zM663.1 256.6h4.2v4.2h-4.2zM806.5 124.3h4.2v4.2h-4.2zM626.3 318.5h4.2v4.2h-4.2zM674.6 275.1h4.2v4.2h-4.2zM696.1 259.5h4.2v4.2h-4.2zM792.5 136.5h4.2v4.2h-4.2zM639.6 306.9h4.2v4.2h-4.2zM829.5 109.8h4.2v4.2h-4.2zM735.6 221.3h4.2v4.2h-4.2zM646.7 271.4h4.2v4.2h-4.2zM623.4 320.2h4.2v4.2h-4.2zM601.6 332.0h4.2v4.2h-4.2zM638.7 310.4h4.2v4.2h-4.2zM786.2 169.4h4.2v4.2h-4.2zM675.5 245.2h4.2v4.2h-4.2zM738.9 184.3h4.2v4.2h-4.2zM702.5 250.6h4.2v4.2h-4.2zM696.1 226.6h4.2v4.2h-4.2zM684.6 235.0h4.2v4.2h-4.2zM763.1 193.9h4.2v4.2h-4.2zM749.6 173.8h4.2v4.2h-4.2zM641.5 279.8h4.2v4.2h-4.2zM833.0 114.9h4.2v4.2h-4.2zM604.2 337.2h4.2v4.2h-4.2zM823.5 111.1h4.2v4.2h-4.2zM652.9 293.9h4.2v4.2h-4.2zM678.2 241.4h4.2v4.2h-4.2zM804.9 147.9h4.2v4.2h-4.2zM632.5 313.2h4.2v4.2h-4.2zM796.1 156.2h4.2v4.2h-4.2zM808.8 120.6h4.2v4.2h-4.2zM729.2 228.1h4.2v4.2h-4.2zM611.1 308.5h4.2v4.2h-4.2zM666.2 250.7h4.2v4.2h-4.2zM713.6 204.1h4.2v4.2h-4.2zM827.2 125.2h4.2v4.2h-4.2zM712.6 243.1h4.2v4.2h-4.2zM685.7 235.4h4.2v4.2h-4.2zM649.0 299.3h4.2v4.2h-4.2zM621.5 289.4h4.2v4.2h-4.2zM711.5 241.6h4.2v4.2h-4.2zM665.1 282.9h4.2v4.2h-4.2zM756.5 168.8h4.2v4.2h-4.2zM750.3 207.3h4.2v4.2h-4.2zM760.2 196.0h4.2v4.2h-4.2zM704.9 249.3h4.2v4.2h-4.2zM642.8 276.0h4.2v4.2h-4.2zM705.4 249.6h4.2v4.2h-4.2zM739.5 186.2h4.2v4.2h-4.2zM718.6 235.8h4.2v4.2h-4.2zM619.4 301.7h4.2v4.2h-4.2zM725.4 230.2h4.2v4.2h-4.2zM775.9 176.5h4.2v4.2h-4.2zM780.8 137.3h4.2v4.2h-4.2zM685.4 236.8h4.2v4.2h-4.2zM721.8 232.2h4.2v4.2h-4.2zM700.2 253.8h4.2v4.2h-4.2zM792.3 164.6h4.2v4.2h-4.2zM802.0 153.5h4.2v4.2h-4.2zM768.1 187.1h4.2v4.2h-4.2zM834.2 113.1h4.2v4.2h-4.2zM753.0 209.1h4.2v4.2h-4.2zM659.3 287.5h4.2v4.2h-4.2zM696.9 258.4h4.2v4.2h-4.2zM760.5 164.3h4.2v4.2h-4.2zM765.1 189.4h4.2v4.2h-4.2zM603.4 333.6h4.2v4.2h-4.2zM724.0 196.2h4.2v4.2h-4.2zM795.0 156.9h4.2v4.2h-4.2zM797.2 131.6h4.2v4.2h-4.2zM770.0 152.1h4.2v4.2h-4.2zM833.8 121.2h4.2v4.2h-4.2zM642.7 274.9h4.2v4.2h-4.2zM619.4 297.2h4.2v4.2h-4.2zM619.6 297.8h4.2v4.2h-4.2zM721.2 234.0h4.2v4.2h-4.2zM688.3 267.0h4.2v4.2h-4.2zM755.2 167.4h4.2v4.2h-4.2zM780.2 139.2h4.2v4.2h-4.2zM800.4 149.9h4.2v4.2h-4.2zM778.0 176.4h4.2v4.2h-4.2zM801.0 128.1h4.2v4.2h-4.2zM622.1 293.6h4.2v4.2h-4.2zM730.3 190.3h4.2v4.2h-4.2zM748.3 178.0h4.2v4.2h-4.2zM762.6 193.3h4.2v4.2h-4.2zM793.1 134.3h4.2v4.2h-4.2zM643.6 306.3h4.2v4.2h-4.2zM671.6 282.5h4.2v4.2h-4.2zM738.9 184.6h4.2v4.2h-4.2zM743.5 212.0h4.2v4.2h-4.2zM736.2 188.8h4.2v4.2h-4.2zM822.4 112.2h4.2v4.2h-4.2zM804.7 144.4h4.2v4.2h-4.2zM629.9 317.7h4.2v4.2h-4.2zM608.9 319.6h4.2v4.2h-4.2zM675.4 241.1h4.2v4.2h-4.2zM712.9 243.7h4.2v4.2h-4.2zM801.8 152.4h4.2v4.2h-4.2zM783.9 139.3h4.2v4.2h-4.2zM793.0 135.1h4.2v4.2h-4.2zM695.9 259.5h4.2v4.2h-4.2zM787.5 137.6h4.2v4.2h-4.2zM760.8 193.8h4.2v4.2h-4.2zM612.3 305.2h4.2v4.2h-4.2zM646.7 305.6h4.2v4.2h-4.2zM812.2 115.0h4.2v4.2h-4.2zM769.3 153.6h4.2v4.2h-4.2zM755.5 168.9h4.2v4.2h-4.2zM647.5 300.4h4.2v4.2h-4.2zM728.9 195.7h4.2v4.2h-4.2zM829.6 110.4h4.2v4.2h-4.2zM760.5 196.2h4.2v4.2h-4.2zM622.0 320.6h4.2v4.2h-4.2zM634.1 284.4h4.2v4.2h-4.2zM652.2 263.2h4.2v4.2h-4.2zM809.2 141.7h4.2v4.2h-4.2zM629.2 287.4h4.2v4.2h-4.2zM791.1 166.0h4.2v4.2h-4.2zM834.4 121.2h4.2v4.2h-4.2zM682.8 269.2h4.2v4.2h-4.2zM733.1 222.3h4.2v4.2h-4.2zM712.9 206.0h4.2v4.2h-4.2zM823.5 111.7h4.2v4.2h-4.2zM795.1 161.2h4.2v4.2h-4.2zM720.5 235.5h4.2v4.2h-4.2zM687.7 234.9h4.2v4.2h-4.2zM661.1 259.1h4.2v4.2h-4.2zM713.0 204.8h4.2v4.2h-4.2zM622.5 292.5h4.2v4.2h-4.2zM693.8 262.6h4.2v4.2h-4.2zM658.6 260.8h4.2v4.2h-4.2zM720.4 234.6h4.2v4.2h-4.2zM815.7 134.6h4.2v4.2h-4.2zM648.4 271.1h4.2v4.2h-4.2zM708.3 209.6h4.2v4.2h-4.2zM674.3 275.0h4.2v4.2h-4.2zM812.4 120.1h4.2v4.2h-4.2zM662.8 248.9h4.2v4.2h-4.2zM649.8 266.2h4.2v4.2h-4.2zM643.9 275.5h4.2v4.2h-4.2zM754.5 166.7h4.2v4.2h-4.2zM648.3 300.8h4.2v4.2h-4.2zM636.8 312.0h4.2v4.2h-4.2zM635.9 283.6h4.2v4.2h-4.2zM713.8 205.4h4.2v4.2h-4.2zM769.5 152.3h4.2v4.2h-4.2zM778.6 143.5h4.2v4.2h-4.2zM710.5 203.7h4.2v4.2h-4.2zM750.0 175.6h4.2v4.2h-4.2zM790.7 136.6h4.2v4.2h-4.2zM631.0 283.8h4.2v4.2h-4.2zM811.8 137.0h4.2v4.2h-4.2zM643.7 310.4h4.2v4.2h-4.2zM752.5 205.4h4.2v4.2h-4.2zM650.8 265.4h4.2v4.2h-4.2zM624.1 318.8h4.2v4.2h-4.2zM813.7 146.3h4.2v4.2h-4.2zM759.8 163.4h4.2v4.2h-4.2zM810.9 136.9h4.2v4.2h-4.2zM738.5 186.6h4.2v4.2h-4.2zM810.8 139.3h4.2v4.2h-4.2zM835.0 108.3h4.2v4.2h-4.2zM628.2 317.5h4.2v4.2h-4.2zM635.8 285.3h4.2v4.2h-4.2zM673.2 245.6h4.2v4.2h-4.2zM649.2 267.1h4.2v4.2h-4.2zM661.8 288.1h4.2v4.2h-4.2zM792.4 166.6h4.2v4.2h-4.2zM804.2 146.9h4.2v4.2h-4.2zM688.4 263.9h4.2v4.2h-4.2zM803.2 125.6h4.2v4.2h-4.2zM827.6 125.0h4.2v4.2h-4.2zM755.2 168.2h4.2v4.2h-4.2zM705.2 219.1h4.2v4.2h-4.2zM608.9 320.3h4.2v4.2h-4.2zM761.8 196.3h4.2v4.2h-4.2zM708.4 212.3h4.2v4.2h-4.2zM723.6 197.1h4.2v4.2h-4.2zM726.0 229.6h4.2v4.2h-4.2zM681.8 268.5h4.2v4.2h-4.2zM784.8 138.5h4.2v4.2h-4.2zM633.7 285.5h4.2v4.2h-4.2zM665.5 250.1h4.2v4.2h-4.2zM762.2 159.3h4.2v4.2h-4.2zM832.8 113.5h4.2v4.2h-4.2zM618.9 295.1h4.2v4.2h-4.2zM755.2 167.5h4.2v4.2h-4.2zM709.4 245.6h4.2v4.2h-4.2zM770.8 149.1h4.2v4.2h-4.2zM698.6 255.3h4.2v4.2h-4.2zM637.7 282.6h4.2v4.2h-4.2zM744.5 210.4h4.2v4.2h-4.2zM698.7 254.1h4.2v4.2h-4.2zM832.7 116.2h4.2v4.2h-4.2zM676.0 243.1h4.2v4.2h-4.2zM611.6 330.8h4.2v4.2h-4.2zM643.3 306.5h4.2v4.2h-4.2zM752.2 205.5h4.2v4.2h-4.2zM668.3 247.5h4.2v4.2h-4.2zM767.7 185.9h4.2v4.2h-4.2zM712.5 201.1h4.2v4.2h-4.2zM715.3 240.9h4.2v4.2h-4.2zM715.1 204.0h4.2v4.2h-4.2zM761.9 192.3h4.2v4.2h-4.2zM730.7 224.4h4.2v4.2h-4.2zM768.1 186.1h4.2v4.2h-4.2zM752.9 207.1h4.2v4.2h-4.2zM831.1 107.8h4.2v4.2h-4.2zM658.9 288.7h4.2v4.2h-4.2zM668.8 280.1h4.2v4.2h-4.2zM718.0 199.5h4.2v4.2h-4.2zM802.3 150.0h4.2v4.2h-4.2zM672.9 248.8h4.2v4.2h-4.2zM760.3 201.9h4.2v4.2h-4.2zM831.5 123.2h4.2v4.2h-4.2zM663.1 257.4h4.2v4.2h-4.2zM784.4 168.8h4.2v4.2h-4.2zM820.6 128.8h4.2v4.2h-4.2zM662.9 254.9h4.2v4.2h-4.2zM734.9 184.2h4.2v4.2h-4.2zM813.4 135.0h4.2v4.2h-4.2zM813.5 114.2h4.2v4.2h-4.2zM700.3 254.0h4.2v4.2h-4.2zM816.2 134.9h4.2v4.2h-4.2zM775.1 176.2h4.2v4.2h-4.2zM735.6 190.0h4.2v4.2h-4.2zM641.4 278.8h4.2v4.2h-4.2zM790.6 134.8h4.2v4.2h-4.2zM604.5 324.8h4.2v4.2h-4.2zM719.9 197.1h4.2v4.2h-4.2zM650.6 297.4h4.2v4.2h-4.2zM661.2 256.7h4.2v4.2h-4.2zM692.6 229.7h4.2v4.2h-4.2zM745.3 212.1h4.2v4.2h-4.2zM618.3 325.4h4.2v4.2h-4.2zM670.5 282.4h4.2v4.2h-4.2zM747.0 208.5h4.2v4.2h-4.2zM635.4 310.0h4.2v4.2h-4.2zM699.8 223.7h4.2v4.2h-4.2zM787.5 169.2h4.2v4.2h-4.2zM763.7 157.5h4.2v4.2h-4.2zM833.7 107.9h4.2v4.2h-4.2zM687.4 266.1h4.2v4.2h-4.2zM691.5 230.7h4.2v4.2h-4.2zM785.9 168.0h4.2v4.2h-4.2zM644.8 302.0h4.2v4.2h-4.2zM618.3 300.6h4.2v4.2h-4.2zM640.2 281.3h4.2v4.2h-4.2zM620.5 297.8h4.2v4.2h-4.2zM671.7 280.1h4.2v4.2h-4.2zM738.8 218.9h4.2v4.2h-4.2zM693.3 261.5h4.2v4.2h-4.2zM687.2 264.1h4.2v4.2h-4.2zM764.8 189.5h4.2v4.2h-4.2zM746.4 176.8h4.2v4.2h-4.2zM625.7 291.4h4.2v4.2h-4.2zM833.5 115.1h4.2v4.2h-4.2zM739.4 184.9h4.2v4.2h-4.2zM729.9 225.9h4.2v4.2h-4.2zM612.0 325.9h4.2v4.2h-4.2zM727.2 193.7h4.2v4.2h-4.2zM605.9 332.4h4.2v4.2h-4.2zM648.2 270.5h4.2v4.2h-4.2zM764.6 159.8h4.2v4.2h-4.2zM713.5 242.3h4.2v4.2h-4.2zM752.5 168.7h4.2v4.2h-4.2zM763.2 191.5h4.2v4.2h-4.2zM704.8 216.2h4.2v4.2h-4.2zM799.0 130.4h4.2v4.2h-4.2zM663.2 284.1h4.2v4.2h-4.2zM623.1 321.8h4.2v4.2h-4.2zM747.6 171.5h4.2v4.2h-4.2zM800.8 128.5h4.2v4.2h-4.2zM683.4 236.1h4.2v4.2h-4.2zM605.3 323.9h4.2v4.2h-4.2zM673.5 246.3h4.2v4.2h-4.2zM713.5 240.1h4.2v4.2h-4.2zM746.7 174.2h4.2v4.2h-4.2zM725.4 229.3h4.2v4.2h-4.2zM641.6 277.1h4.2v4.2h-4.2zM725.2 196.2h4.2v4.2h-4.2zM796.6 155.4h4.2v4.2h-4.2zM604.1 330.8h4.2v4.2h-4.2zM740.3 216.9h4.2v4.2h-4.2zM787.2 132.6h4.2v4.2h-4.2zM712.0 204.2h4.2v4.2h-4.2zM632.1 282.1h4.2v4.2h-4.2zM784.3 137.6h4.2v4.2h-4.2zM834.8 108.4h4.2v4.2h-4.2zM767.0 157.7h4.2v4.2h-4.2zM824.7 112.6h4.2v4.2h-4.2zM823.7 129.7h4.2v4.2h-4.2zM779.7 173.6h4.2v4.2h-4.2zM619.9 322.9h4.2v4.2h-4.2zM703.4 250.1h4.2v4.2h-4.2zM604.2 328.2h4.2v4.2h-4.2zM692.9 230.7h4.2v4.2h-4.2zM664.6 253.9h4.2v4.2h-4.2zM728.9 227.4h4.2v4.2h-4.2zM829.0 121.7h4.2v4.2h-4.2zM747.9 175.5h4.2v4.2h-4.2zM751.6 204.6h4.2v4.2h-4.2zM740.7 219.5h4.2v4.2h-4.2zM767.2 153.5h4.2v4.2h-4.2zM753.1 205.0h4.2v4.2h-4.2zM830.8 109.8h4.2v4.2h-4.2zM608.6 329.6h4.2v4.2h-4.2zM676.7 241.2h4.2v4.2h-4.2zM782.7 137.9h4.2v4.2h-4.2zM618.7 302.5h4.2v4.2h-4.2zM650.2 297.9h4.2v4.2h-4.2zM697.6 224.2h4.2v4.2h-4.2zM611.7 305.6h4.2v4.2h-4.2zM686.8 235.8h4.2v4.2h-4.2zM774.4 148.3h4.2v4.2h-4.2zM607.2 322.4h4.2v4.2h-4.2zM800.8 149.1h4.2v4.2h-4.2zM620.6 292.7h4.2v4.2h-4.2zM762.8 191.5h4.2v4.2h-4.2zM797.4 132.6h4.2v4.2h-4.2zM780.5 140.8h4.2v4.2h-4.2zM612.2 312.1h4.2v4.2h-4.2zM625.2 291.1h4.2v4.2h-4.2zM609.9 314.3h4.2v4.2h-4.2zM835.3 116.4h4.2v4.2h-4.2zM813.0 138.4h4.2v4.2h-4.2zM802.0 151.7h4.2v4.2h-4.2zM668.6 279.5h4.2v4.2h-4.2zM652.4 294.9h4.2v4.2h-4.2zM651.7 301.4h4.2v4.2h-4.2zM785.3 175.5h4.2v4.2h-4.2zM675.7 273.7h4.2v4.2h-4.2zM834.3 113.3h4.2v4.2h-4.2zM728.7 193.7h4.2v4.2h-4.2zM817.1 132.3h4.2v4.2h-4.2zM780.4 174.9h4.2v4.2h-4.2zM805.4 125.7h4.2v4.2h-4.2zM744.7 213.1h4.2v4.2h-4.2zM656.8 260.6h4.2v4.2h-4.2zM758.5 205.5h4.2v4.2h-4.2zM698.4 222.7h4.2v4.2h-4.2zM661.6 286.0h4.2v4.2h-4.2zM816.2 116.5h4.2v4.2h-4.2zM781.3 174.2h4.2v4.2h-4.2zM810.0 121.9h4.2v4.2h-4.2zM627.1 286.0h4.2v4.2h-4.2zM787.9 168.4h4.2v4.2h-4.2zM669.9 284.5h4.2v4.2h-4.2zM752.4 169.5h4.2v4.2h-4.2zM834.5 114.4h4.2v4.2h-4.2zM777.4 176.6h4.2v4.2h-4.2zM780.1 173.0h4.2v4.2h-4.2zM718.9 198.7h4.2v4.2h-4.2zM768.9 181.5h4.2v4.2h-4.2zM659.7 258.0h4.2v4.2h-4.2zM602.3 332.1h4.2v4.2h-4.2zM789.0 167.3h4.2v4.2h-4.2zM648.8 267.1h4.2v4.2h-4.2zM603.3 322.9h4.2v4.2h-4.2zM660.4 250.7h4.2v4.2h-4.2zM721.5 232.6h4.2v4.2h-4.2zM629.8 316.1h4.2v4.2h-4.2zM782.3 136.9h4.2v4.2h-4.2zM748.6 207.9h4.2v4.2h-4.2zM633.2 313.5h4.2v4.2h-4.2zM817.4 133.0h4.2v4.2h-4.2zM803.0 148.0h4.2v4.2h-4.2zM723.9 196.1h4.2v4.2h-4.2zM709.3 247.5h4.2v4.2h-4.2zM705.8 248.6h4.2v4.2h-4.2zM825.6 125.6h4.2v4.2h-4.2zM776.5 147.6h4.2v4.2h-4.2zM787.8 136.8h4.2v4.2h-4.2zM602.3 332.6h4.2v4.2h-4.2zM794.7 160.1h4.2v4.2h-4.2zM792.1 163.4h4.2v4.2h-4.2zM623.0 293.6h4.2v4.2h-4.2zM729.0 193.7h4.2v4.2h-4.2zM709.1 211.7h4.2v4.2h-4.2zM789.9 167.3h4.2v4.2h-4.2zM702.1 253.9h4.2v4.2h-4.2zM588.5 337.8h4.2v4.2h-4.2zM840.1 99.3h4.2v4.2h-4.2zM853.3 102.9h4.2v4.2h-4.2zM847.2 108.7h4.2v4.2h-4.2zM840.1 112.6h4.2v4.2h-4.2zM817.2 132.8h4.2v4.2h-4.2zM834.9 115.9h4.2v4.2h-4.2zM830.6 114.4h4.2v4.2h-4.2zM844.0 112.0h4.2v4.2h-4.2zM848.2 99.9h4.2v4.2h-4.2zM828.2 105.9h4.2v4.2h-4.2zM831.8 106.8h4.2v4.2h-4.2zM852.0 108.9h4.2v4.2h-4.2zM829.2 109.3h4.2v4.2h-4.2zM848.3 102.9h4.2v4.2h-4.2zM835.4 107.3h4.2v4.2h-4.2zM830.5 104.3h4.2v4.2h-4.2zM842.1 103.1h4.2v4.2h-4.2zM832.9 112.3h4.2v4.2h-4.2zM664.5 248.5h4.2v4.2h-4.2zM623.6 285.3h4.2v4.2h-4.2zM811.0 109.8h4.2v4.2h-4.2zM638.3 276.5h4.2v4.2h-4.2zM618.0 295.3h4.2v4.2h-4.2zM614.2 299.1h4.2v4.2h-4.2zM612.4 299.0h4.2v4.2h-4.2zM675.5 237.0h4.2v4.2h-4.2zM650.5 263.6h4.2v4.2h-4.2zM662.6 244.2h4.2v4.2h-4.2zM621.3 290.9h4.2v4.2h-4.2zM726.8 183.4h4.2v4.2h-4.2zM810.9 109.3h4.2v4.2h-4.2zM637.6 273.8h4.2v4.2h-4.2zM622.3 283.4h4.2v4.2h-4.2zM634.2 281.3h4.2v4.2h-4.2zM621.8 292.0h4.2v4.2h-4.2zM743.4 168.8h4.2v4.2h-4.2zM617.7 295.3h4.2v4.2h-4.2zM644.9 265.2h4.2v4.2h-4.2z"/>
<line x1="553.5" y1="377.3" x2="928.0" y2="3.1" stroke="#333" stroke-width="1" stroke-dasharray="3.3 3.4"/>
<path d="M591.0 377.3v-8M591.0 3.1v8M553.5 339.9h8M928.0 339.9h-8M665.9 377.3v-8M665.9 3.1v8M553.5 265.0h8M928.0 265.0h-8M740.8 377.3v-8M740.8 3.1v8M553.5 190.2h8M928.0 190.2h-8M815.6 377.3v-8M815.6 3.1v8M553.5 115.4h8M928.0 115.4h-8M890.5 377.3v-8M890.5 3.1v8M553.5 40.5h8M928.0 40.5h-8" stroke="#333" stroke-width="1" fill="none"/>
<rect x="553.5" y="3.1" width="374.5" height="374.2" fill="none" stroke="#000" stroke-width="1.6"/>
<text x="594.0" y="408.3" text-anchor="middle">0</text>
<text x="539.2" y="348.1" text-anchor="end">0</text>
<text x="668.9" y="408.3" text-anchor="middle">10</text>
<text x="539.2" y="273.2" text-anchor="end">10</text>
<text x="743.8" y="408.3" text-anchor="middle">20</text>
<text x="539.2" y="198.4" text-anchor="end">20</text>
<text x="818.6" y="408.3" text-anchor="middle">30</text>
<text x="539.2" y="123.6" text-anchor="end">30</text>
<text x="893.5" y="408.3" text-anchor="middle">40</text>
<text x="539.2" y="48.7" text-anchor="end">40</text>
<rect x="618.9" y="26.7" width="4.2" height="4.2" fill="#000"/>
<text x="642.5" y="36.8">DFTB</text>
<rect x="760.7" y="26.7" width="4.2" height="4.2" fill="#f00"/>
<text x="784.0" y="36.8">DFTB <tspan x="856.0">NN</tspan></text>
<text x="622.3" y="446.3" xml:space="preserve">B3LYP Δ<tspan font-style="italic">E</tspan> (kcal/mol)</text>
<text transform="translate(495.5 323.5) rotate(-90)" xml:space="preserve">Predicted <tspan dx="3.8">Δ</tspan><tspan font-style="italic">E</tspan> (kcal/mol)</text>
<text x="475.5" y="444.8" font-weight="bold" font-size="28">(b)</text>
</g>
<g>
<path fill="#000" d="M1082.7 327.6L1083.4 331.1L1085.5 337.5L1082.5 343.6L1083.2 347.2L1090.2 349.9L1100.0 351.8L1109.7 353.8L1119.2 351.9L1129.5 348.0L1139.3 344.0L1149.1 339.1L1159.2 333.1L1169.2 330.1L1178.9 326.2L1188.6 319.4L1198.5 312.5L1208.6 305.4L1218.4 299.6L1227.9 291.9L1229.7 287.3L1241.1 278.2L1252.2 269.3L1263.2 260.5L1274.2 251.7L1285.2 242.9L1296.3 235.2L1306.9 225.7L1309.5 217.2L1311.5 206.9L1310.6 198.6L1306.0 192.2L1299.2 189.0L1289.8 185.6L1280.2 189.1L1269.8 189.1L1261.9 186.4L1247.2 195.2L1241.1 200.5L1236.5 206.4L1230.5 212.5L1220.7 220.4L1214.4 228.6L1209.5 229.4L1200.8 234.3L1190.9 242.2L1180.9 249.8L1170.5 257.6L1164.5 263.5L1156.6 269.5L1148.8 277.4L1140.9 285.0L1130.4 292.7L1120.5 300.9L1110.6 308.9L1100.5 315.9L1090.6 321.8Z"/>
<path fill="#000" d="M1304.0 226.8h4.2v4.2h-4.2zM1254.0 189.5h4.2v4.2h-4.2zM1255.7 261.3h4.2v4.2h-4.2zM1306.5 212.8h4.2v4.2h-4.2zM1273.4 184.4h4.2v4.2h-4.2zM1249.0 269.1h4.2v4.2h-4.2zM1182.7 317.7h4.2v4.2h-4.2zM1191.9 237.7h4.2v4.2h-4.2zM1278.5 243.9h4.2v4.2h-4.2zM1215.3 223.5h4.2v4.2h-4.2zM1242.0 271.9h4.2v4.2h-4.2zM1112.7 303.0h4.2v4.2h-4.2zM1179.7 246.9h4.2v4.2h-4.2zM1233.1 205.4h4.2v4.2h-4.2zM1286.2 183.8h4.2v4.2h-4.2zM1230.4 210.5h4.2v4.2h-4.2zM1227.6 212.6h4.2v4.2h-4.2zM1235.3 279.8h4.2v4.2h-4.2zM1176.4 250.1h4.2v4.2h-4.2zM1116.4 299.4h4.2v4.2h-4.2zM1126.3 293.0h4.2v4.2h-4.2zM1116.2 300.2h4.2v4.2h-4.2zM1258.7 265.7h4.2v4.2h-4.2zM1091.6 349.2h4.2v4.2h-4.2zM1220.8 216.4h4.2v4.2h-4.2zM1104.7 310.3h4.2v4.2h-4.2zM1178.5 247.4h4.2v4.2h-4.2zM1217.4 297.0h4.2v4.2h-4.2zM1184.4 243.2h4.2v4.2h-4.2zM1263.4 255.8h4.2v4.2h-4.2zM1116.9 301.1h4.2v4.2h-4.2zM1157.9 263.8h4.2v4.2h-4.2zM1083.4 337.5h4.2v4.2h-4.2zM1143.9 278.2h4.2v4.2h-4.2zM1258.8 258.4h4.2v4.2h-4.2zM1150.3 273.2h4.2v4.2h-4.2zM1090.7 348.0h4.2v4.2h-4.2zM1269.9 187.3h4.2v4.2h-4.2zM1282.3 238.9h4.2v4.2h-4.2zM1224.3 215.3h4.2v4.2h-4.2zM1096.1 314.2h4.2v4.2h-4.2zM1288.7 184.5h4.2v4.2h-4.2zM1259.0 186.0h4.2v4.2h-4.2zM1082.2 328.7h4.2v4.2h-4.2zM1207.8 301.0h4.2v4.2h-4.2zM1102.8 310.9h4.2v4.2h-4.2zM1308.3 198.8h4.2v4.2h-4.2zM1105.7 351.8h4.2v4.2h-4.2zM1214.9 222.2h4.2v4.2h-4.2zM1152.9 270.1h4.2v4.2h-4.2zM1256.0 186.3h4.2v4.2h-4.2zM1138.7 284.4h4.2v4.2h-4.2zM1307.1 198.3h4.2v4.2h-4.2zM1143.9 273.6h4.2v4.2h-4.2zM1083.0 337.4h4.2v4.2h-4.2zM1140.6 283.1h4.2v4.2h-4.2zM1186.0 318.7h4.2v4.2h-4.2zM1213.6 225.5h4.2v4.2h-4.2zM1155.7 265.9h4.2v4.2h-4.2zM1104.0 306.5h4.2v4.2h-4.2zM1131.4 342.4h4.2v4.2h-4.2zM1082.2 344.0h4.2v4.2h-4.2zM1299.4 185.3h4.2v4.2h-4.2zM1089.3 348.1h4.2v4.2h-4.2zM1183.1 320.2h4.2v4.2h-4.2zM1194.6 310.0h4.2v4.2h-4.2zM1192.9 311.2h4.2v4.2h-4.2zM1235.8 201.8h4.2v4.2h-4.2zM1156.2 268.7h4.2v4.2h-4.2zM1112.2 303.1h4.2v4.2h-4.2zM1115.7 349.7h4.2v4.2h-4.2zM1305.6 191.4h4.2v4.2h-4.2zM1101.7 350.3h4.2v4.2h-4.2zM1308.1 194.6h4.2v4.2h-4.2zM1214.8 223.1h4.2v4.2h-4.2zM1104.1 351.4h4.2v4.2h-4.2zM1192.6 237.4h4.2v4.2h-4.2zM1229.3 283.6h4.2v4.2h-4.2zM1251.2 266.6h4.2v4.2h-4.2zM1215.3 296.6h4.2v4.2h-4.2zM1264.1 254.1h4.2v4.2h-4.2zM1164.5 258.3h4.2v4.2h-4.2zM1278.3 245.1h4.2v4.2h-4.2zM1297.9 228.4h4.2v4.2h-4.2zM1222.4 292.1h4.2v4.2h-4.2zM1284.2 186.5h4.2v4.2h-4.2zM1267.1 251.2h4.2v4.2h-4.2zM1129.2 345.0h4.2v4.2h-4.2zM1149.5 272.6h4.2v4.2h-4.2zM1168.5 257.5h4.2v4.2h-4.2zM1209.7 224.1h4.2v4.2h-4.2zM1082.8 340.0h4.2v4.2h-4.2zM1298.9 226.6h4.2v4.2h-4.2zM1159.2 266.4h4.2v4.2h-4.2zM1115.9 349.4h4.2v4.2h-4.2zM1082.7 345.2h4.2v4.2h-4.2zM1127.9 292.5h4.2v4.2h-4.2zM1097.7 349.8h4.2v4.2h-4.2zM1234.7 278.6h4.2v4.2h-4.2zM1286.5 238.0h4.2v4.2h-4.2zM1153.8 333.7h4.2v4.2h-4.2zM1127.6 344.2h4.2v4.2h-4.2zM1265.5 255.4h4.2v4.2h-4.2zM1223.2 289.3h4.2v4.2h-4.2zM1223.9 293.9h4.2v4.2h-4.2zM1182.8 320.0h4.2v4.2h-4.2zM1248.2 191.4h4.2v4.2h-4.2zM1155.6 265.7h4.2v4.2h-4.2zM1147.3 276.2h4.2v4.2h-4.2zM1218.5 216.3h4.2v4.2h-4.2zM1288.8 243.5h4.2v4.2h-4.2zM1174.0 250.9h4.2v4.2h-4.2zM1270.1 249.9h4.2v4.2h-4.2zM1213.8 226.7h4.2v4.2h-4.2zM1225.6 290.7h4.2v4.2h-4.2zM1217.2 220.9h4.2v4.2h-4.2zM1084.5 345.9h4.2v4.2h-4.2zM1211.3 227.8h4.2v4.2h-4.2zM1227.6 212.7h4.2v4.2h-4.2zM1221.3 210.1h4.2v4.2h-4.2zM1165.2 327.3h4.2v4.2h-4.2zM1241.1 198.7h4.2v4.2h-4.2zM1265.9 186.5h4.2v4.2h-4.2zM1246.2 271.0h4.2v4.2h-4.2zM1094.2 316.9h4.2v4.2h-4.2zM1272.2 248.1h4.2v4.2h-4.2zM1247.9 268.3h4.2v4.2h-4.2zM1309.6 204.6h4.2v4.2h-4.2zM1097.1 348.0h4.2v4.2h-4.2zM1180.7 245.7h4.2v4.2h-4.2zM1308.0 196.5h4.2v4.2h-4.2zM1293.7 231.2h4.2v4.2h-4.2zM1267.1 187.5h4.2v4.2h-4.2zM1304.4 189.9h4.2v4.2h-4.2zM1086.1 322.5h4.2v4.2h-4.2zM1120.7 290.9h4.2v4.2h-4.2zM1139.3 338.7h4.2v4.2h-4.2zM1171.2 327.1h4.2v4.2h-4.2zM1232.8 208.3h4.2v4.2h-4.2zM1149.3 275.1h4.2v4.2h-4.2zM1254.5 186.9h4.2v4.2h-4.2zM1311.0 197.2h4.2v4.2h-4.2zM1297.5 185.1h4.2v4.2h-4.2zM1177.9 321.0h4.2v4.2h-4.2zM1215.8 300.7h4.2v4.2h-4.2zM1307.8 195.3h4.2v4.2h-4.2zM1084.1 323.6h4.2v4.2h-4.2zM1256.3 262.6h4.2v4.2h-4.2zM1277.1 245.1h4.2v4.2h-4.2zM1291.7 233.8h4.2v4.2h-4.2zM1126.5 345.8h4.2v4.2h-4.2zM1259.8 183.8h4.2v4.2h-4.2zM1213.7 224.7h4.2v4.2h-4.2zM1151.0 270.9h4.2v4.2h-4.2zM1239.0 276.5h4.2v4.2h-4.2zM1092.2 316.7h4.2v4.2h-4.2zM1308.5 209.2h4.2v4.2h-4.2zM1215.4 295.7h4.2v4.2h-4.2zM1197.2 309.9h4.2v4.2h-4.2zM1303.0 226.1h4.2v4.2h-4.2zM1081.2 344.6h4.2v4.2h-4.2zM1306.9 222.1h4.2v4.2h-4.2zM1194.9 234.5h4.2v4.2h-4.2zM1081.8 341.0h4.2v4.2h-4.2zM1201.6 230.4h4.2v4.2h-4.2zM1309.2 203.9h4.2v4.2h-4.2zM1245.3 194.6h4.2v4.2h-4.2zM1220.4 216.0h4.2v4.2h-4.2zM1185.5 244.2h4.2v4.2h-4.2zM1140.9 283.7h4.2v4.2h-4.2zM1083.0 324.4h4.2v4.2h-4.2zM1217.6 295.3h4.2v4.2h-4.2zM1266.0 187.5h4.2v4.2h-4.2zM1238.3 200.5h4.2v4.2h-4.2zM1305.9 222.6h4.2v4.2h-4.2zM1082.4 345.6h4.2v4.2h-4.2zM1296.8 228.1h4.2v4.2h-4.2zM1246.8 270.4h4.2v4.2h-4.2zM1269.0 184.3h4.2v4.2h-4.2zM1136.0 343.3h4.2v4.2h-4.2zM1148.7 336.3h4.2v4.2h-4.2zM1083.3 344.7h4.2v4.2h-4.2zM1204.2 230.9h4.2v4.2h-4.2zM1097.5 348.7h4.2v4.2h-4.2zM1078.2 323.9h4.2v4.2h-4.2zM1123.1 297.2h4.2v4.2h-4.2zM1169.1 325.8h4.2v4.2h-4.2zM1232.4 199.7h4.2v4.2h-4.2zM1082.9 323.8h4.2v4.2h-4.2zM1272.4 188.5h4.2v4.2h-4.2zM1086.6 346.1h4.2v4.2h-4.2zM1308.3 201.8h4.2v4.2h-4.2zM1126.1 344.6h4.2v4.2h-4.2zM1159.2 330.9h4.2v4.2h-4.2zM1307.7 192.3h4.2v4.2h-4.2zM1307.1 196.2h4.2v4.2h-4.2zM1306.1 212.5h4.2v4.2h-4.2zM1083.7 323.9h4.2v4.2h-4.2zM1308.5 201.3h4.2v4.2h-4.2zM1123.2 296.2h4.2v4.2h-4.2zM1080.8 343.6h4.2v4.2h-4.2zM1152.2 271.4h4.2v4.2h-4.2zM1261.2 184.7h4.2v4.2h-4.2zM1190.5 239.8h4.2v4.2h-4.2zM1108.8 351.8h4.2v4.2h-4.2zM1111.7 350.6h4.2v4.2h-4.2zM1303.5 190.3h4.2v4.2h-4.2zM1295.0 229.9h4.2v4.2h-4.2zM1206.9 228.9h4.2v4.2h-4.2zM1084.8 333.8h4.2v4.2h-4.2zM1136.1 287.0h4.2v4.2h-4.2zM1204.2 225.7h4.2v4.2h-4.2zM1182.5 320.5h4.2v4.2h-4.2zM1186.4 242.1h4.2v4.2h-4.2zM1080.7 328.3h4.2v4.2h-4.2zM1278.4 186.5h4.2v4.2h-4.2zM1193.1 237.8h4.2v4.2h-4.2zM1187.9 242.2h4.2v4.2h-4.2zM1167.5 259.4h4.2v4.2h-4.2zM1198.6 234.3h4.2v4.2h-4.2zM1117.5 349.5h4.2v4.2h-4.2zM1129.2 347.7h4.2v4.2h-4.2zM1218.5 219.6h4.2v4.2h-4.2zM1259.4 185.2h4.2v4.2h-4.2zM1096.4 352.3h4.2v4.2h-4.2zM1205.0 303.8h4.2v4.2h-4.2zM1228.9 209.3h4.2v4.2h-4.2zM1182.8 318.0h4.2v4.2h-4.2zM1199.8 230.9h4.2v4.2h-4.2zM1222.9 215.0h4.2v4.2h-4.2zM1190.6 312.0h4.2v4.2h-4.2zM1244.6 196.0h4.2v4.2h-4.2zM1201.0 230.2h4.2v4.2h-4.2zM1265.9 253.3h4.2v4.2h-4.2zM1252.3 191.0h4.2v4.2h-4.2zM1169.7 327.6h4.2v4.2h-4.2zM1108.1 352.4h4.2v4.2h-4.2zM1121.1 347.4h4.2v4.2h-4.2zM1216.3 221.7h4.2v4.2h-4.2zM1256.6 261.5h4.2v4.2h-4.2zM1167.5 256.8h4.2v4.2h-4.2zM1095.2 317.4h4.2v4.2h-4.2zM1120.9 297.0h4.2v4.2h-4.2zM1084.0 335.0h4.2v4.2h-4.2zM1126.9 287.3h4.2v4.2h-4.2zM1272.9 248.1h4.2v4.2h-4.2zM1184.0 245.5h4.2v4.2h-4.2zM1184.1 316.6h4.2v4.2h-4.2zM1118.4 300.2h4.2v4.2h-4.2zM1221.6 216.6h4.2v4.2h-4.2zM1284.0 244.0h4.2v4.2h-4.2zM1094.8 348.9h4.2v4.2h-4.2zM1111.7 350.0h4.2v4.2h-4.2zM1142.5 338.3h4.2v4.2h-4.2zM1122.9 345.6h4.2v4.2h-4.2zM1091.2 348.7h4.2v4.2h-4.2zM1152.1 338.7h4.2v4.2h-4.2zM1082.2 323.7h4.2v4.2h-4.2zM1168.0 256.7h4.2v4.2h-4.2zM1129.7 289.1h4.2v4.2h-4.2zM1088.2 320.9h4.2v4.2h-4.2zM1228.1 285.8h4.2v4.2h-4.2zM1174.2 251.7h4.2v4.2h-4.2zM1261.4 259.1h4.2v4.2h-4.2zM1226.0 286.0h4.2v4.2h-4.2zM1217.2 223.2h4.2v4.2h-4.2zM1204.6 305.3h4.2v4.2h-4.2zM1303.6 221.8h4.2v4.2h-4.2zM1195.2 234.9h4.2v4.2h-4.2zM1125.2 347.5h4.2v4.2h-4.2zM1113.1 351.4h4.2v4.2h-4.2zM1239.3 200.8h4.2v4.2h-4.2zM1145.2 279.4h4.2v4.2h-4.2zM1143.2 337.9h4.2v4.2h-4.2zM1311.6 203.3h4.2v4.2h-4.2zM1081.5 326.8h4.2v4.2h-4.2zM1102.0 310.8h4.2v4.2h-4.2zM1248.1 267.9h4.2v4.2h-4.2zM1206.7 228.6h4.2v4.2h-4.2zM1225.9 287.5h4.2v4.2h-4.2zM1085.2 323.8h4.2v4.2h-4.2zM1179.6 246.9h4.2v4.2h-4.2zM1120.7 348.9h4.2v4.2h-4.2zM1119.6 347.0h4.2v4.2h-4.2zM1250.4 265.2h4.2v4.2h-4.2zM1117.3 349.6h4.2v4.2h-4.2zM1290.7 184.8h4.2v4.2h-4.2zM1192.9 311.9h4.2v4.2h-4.2zM1221.1 291.6h4.2v4.2h-4.2zM1211.8 306.9h4.2v4.2h-4.2zM1278.6 187.0h4.2v4.2h-4.2zM1127.3 291.3h4.2v4.2h-4.2zM1200.5 307.0h4.2v4.2h-4.2zM1223.1 216.5h4.2v4.2h-4.2zM1160.3 330.7h4.2v4.2h-4.2zM1154.9 267.4h4.2v4.2h-4.2zM1092.4 347.6h4.2v4.2h-4.2zM1205.2 230.1h4.2v4.2h-4.2zM1185.1 315.8h4.2v4.2h-4.2zM1216.4 294.9h4.2v4.2h-4.2zM1209.8 228.8h4.2v4.2h-4.2zM1301.6 190.0h4.2v4.2h-4.2zM1245.7 193.4h4.2v4.2h-4.2zM1237.5 201.4h4.2v4.2h-4.2zM1169.9 254.0h4.2v4.2h-4.2zM1080.8 342.8h4.2v4.2h-4.2zM1157.9 266.8h4.2v4.2h-4.2zM1085.5 346.6h4.2v4.2h-4.2zM1125.7 294.4h4.2v4.2h-4.2zM1278.0 242.2h4.2v4.2h-4.2zM1310.6 209.3h4.2v4.2h-4.2zM1301.5 189.6h4.2v4.2h-4.2zM1172.8 251.7h4.2v4.2h-4.2zM1296.1 187.9h4.2v4.2h-4.2zM1237.9 200.1h4.2v4.2h-4.2zM1109.8 349.1h4.2v4.2h-4.2zM1282.5 241.6h4.2v4.2h-4.2zM1112.4 304.7h4.2v4.2h-4.2zM1308.5 210.9h4.2v4.2h-4.2zM1205.3 304.8h4.2v4.2h-4.2zM1137.2 342.6h4.2v4.2h-4.2zM1241.5 192.0h4.2v4.2h-4.2zM1237.0 276.3h4.2v4.2h-4.2zM1190.8 239.5h4.2v4.2h-4.2zM1082.7 336.9h4.2v4.2h-4.2zM1256.8 261.2h4.2v4.2h-4.2zM1179.7 319.9h4.2v4.2h-4.2zM1223.0 213.8h4.2v4.2h-4.2zM1286.4 184.0h4.2v4.2h-4.2zM1175.2 324.8h4.2v4.2h-4.2zM1240.5 194.8h4.2v4.2h-4.2zM1156.4 265.5h4.2v4.2h-4.2zM1239.7 194.4h4.2v4.2h-4.2zM1133.1 342.5h4.2v4.2h-4.2zM1150.6 333.2h4.2v4.2h-4.2zM1091.1 347.4h4.2v4.2h-4.2zM1117.5 347.4h4.2v4.2h-4.2zM1094.1 347.4h4.2v4.2h-4.2zM1207.3 303.7h4.2v4.2h-4.2zM1282.9 240.2h4.2v4.2h-4.2zM1129.4 292.1h4.2v4.2h-4.2zM1161.2 330.6h4.2v4.2h-4.2zM1258.9 258.0h4.2v4.2h-4.2zM1142.9 338.8h4.2v4.2h-4.2zM1151.7 269.5h4.2v4.2h-4.2zM1203.1 306.5h4.2v4.2h-4.2zM1231.3 280.1h4.2v4.2h-4.2zM1185.8 316.4h4.2v4.2h-4.2zM1220.7 217.7h4.2v4.2h-4.2zM1122.3 294.5h4.2v4.2h-4.2zM1247.6 191.6h4.2v4.2h-4.2zM1182.1 320.9h4.2v4.2h-4.2zM1305.2 195.2h4.2v4.2h-4.2zM1305.7 216.2h4.2v4.2h-4.2zM1092.3 346.8h4.2v4.2h-4.2zM1218.7 219.0h4.2v4.2h-4.2zM1157.4 330.1h4.2v4.2h-4.2zM1109.9 299.7h4.2v4.2h-4.2zM1193.1 311.5h4.2v4.2h-4.2zM1087.6 348.2h4.2v4.2h-4.2zM1191.1 313.1h4.2v4.2h-4.2zM1303.8 225.5h4.2v4.2h-4.2zM1170.3 326.0h4.2v4.2h-4.2zM1295.9 231.4h4.2v4.2h-4.2zM1083.9 322.9h4.2v4.2h-4.2zM1280.6 240.8h4.2v4.2h-4.2zM1090.8 318.4h4.2v4.2h-4.2zM1308.2 195.0h4.2v4.2h-4.2zM1295.3 185.7h4.2v4.2h-4.2zM1145.1 279.0h4.2v4.2h-4.2zM1207.3 303.0h4.2v4.2h-4.2zM1265.6 255.0h4.2v4.2h-4.2zM1200.1 233.2h4.2v4.2h-4.2zM1172.2 324.1h4.2v4.2h-4.2zM1234.3 280.1h4.2v4.2h-4.2zM1302.9 189.2h4.2v4.2h-4.2zM1278.6 187.0h4.2v4.2h-4.2zM1113.4 303.3h4.2v4.2h-4.2zM1144.3 279.0h4.2v4.2h-4.2zM1112.0 351.5h4.2v4.2h-4.2zM1191.0 238.4h4.2v4.2h-4.2zM1136.6 341.7h4.2v4.2h-4.2zM1083.3 339.3h4.2v4.2h-4.2zM1082.0 332.3h4.2v4.2h-4.2zM1230.0 282.1h4.2v4.2h-4.2zM1223.1 292.4h4.2v4.2h-4.2zM1193.5 313.4h4.2v4.2h-4.2zM1228.2 283.9h4.2v4.2h-4.2zM1238.4 196.5h4.2v4.2h-4.2zM1173.6 245.4h4.2v4.2h-4.2zM1264.8 254.9h4.2v4.2h-4.2zM1169.4 257.1h4.2v4.2h-4.2zM1284.4 178.0h4.2v4.2h-4.2zM1300.4 189.8h4.2v4.2h-4.2zM1210.1 301.0h4.2v4.2h-4.2zM1143.9 279.6h4.2v4.2h-4.2zM1087.4 347.1h4.2v4.2h-4.2zM1294.1 237.1h4.2v4.2h-4.2zM1093.0 319.4h4.2v4.2h-4.2zM1306.6 211.0h4.2v4.2h-4.2zM1226.0 286.6h4.2v4.2h-4.2zM1289.2 183.3h4.2v4.2h-4.2zM1226.3 289.9h4.2v4.2h-4.2zM1185.1 245.2h4.2v4.2h-4.2zM1307.6 196.7h4.2v4.2h-4.2zM1305.0 194.0h4.2v4.2h-4.2zM1305.8 191.7h4.2v4.2h-4.2zM1223.3 291.8h4.2v4.2h-4.2zM1297.9 187.7h4.2v4.2h-4.2zM1113.9 302.7h4.2v4.2h-4.2zM1246.5 193.5h4.2v4.2h-4.2zM1262.0 187.1h4.2v4.2h-4.2zM1180.8 242.5h4.2v4.2h-4.2zM1234.2 277.6h4.2v4.2h-4.2zM1288.4 182.9h4.2v4.2h-4.2zM1302.5 223.8h4.2v4.2h-4.2zM1191.6 313.8h4.2v4.2h-4.2zM1252.7 188.8h4.2v4.2h-4.2zM1093.0 349.4h4.2v4.2h-4.2zM1304.4 188.6h4.2v4.2h-4.2zM1285.6 185.2h4.2v4.2h-4.2zM1201.3 230.6h4.2v4.2h-4.2zM1118.3 299.9h4.2v4.2h-4.2zM1241.1 198.4h4.2v4.2h-4.2zM1107.4 303.5h4.2v4.2h-4.2zM1287.7 185.0h4.2v4.2h-4.2zM1205.8 228.8h4.2v4.2h-4.2zM1245.3 271.0h4.2v4.2h-4.2zM1134.1 344.0h4.2v4.2h-4.2zM1118.1 299.6h4.2v4.2h-4.2zM1257.5 262.0h4.2v4.2h-4.2zM1170.4 255.8h4.2v4.2h-4.2zM1236.0 277.0h4.2v4.2h-4.2zM1127.6 292.7h4.2v4.2h-4.2zM1153.5 331.2h4.2v4.2h-4.2zM1307.4 211.2h4.2v4.2h-4.2zM1211.9 300.9h4.2v4.2h-4.2zM1169.8 256.2h4.2v4.2h-4.2zM1225.2 208.2h4.2v4.2h-4.2zM1232.3 278.8h4.2v4.2h-4.2zM1199.1 232.2h4.2v4.2h-4.2zM1113.2 304.1h4.2v4.2h-4.2zM1149.3 335.0h4.2v4.2h-4.2zM1242.4 194.3h4.2v4.2h-4.2zM1140.3 340.1h4.2v4.2h-4.2zM1258.2 258.2h4.2v4.2h-4.2zM1224.2 214.3h4.2v4.2h-4.2zM1165.7 326.4h4.2v4.2h-4.2zM1184.2 244.6h4.2v4.2h-4.2zM1095.9 316.3h4.2v4.2h-4.2zM1116.2 300.6h4.2v4.2h-4.2zM1088.4 322.2h4.2v4.2h-4.2zM1256.0 187.7h4.2v4.2h-4.2zM1148.1 335.0h4.2v4.2h-4.2zM1280.3 242.9h4.2v4.2h-4.2zM1307.4 199.9h4.2v4.2h-4.2zM1306.1 215.5h4.2v4.2h-4.2zM1289.1 236.5h4.2v4.2h-4.2zM1237.5 201.3h4.2v4.2h-4.2zM1176.3 322.7h4.2v4.2h-4.2zM1090.1 346.4h4.2v4.2h-4.2zM1106.9 350.9h4.2v4.2h-4.2zM1223.0 293.0h4.2v4.2h-4.2zM1278.0 245.9h4.2v4.2h-4.2zM1235.8 277.3h4.2v4.2h-4.2zM1120.5 299.4h4.2v4.2h-4.2zM1275.5 247.3h4.2v4.2h-4.2zM1157.5 266.4h4.2v4.2h-4.2zM1154.5 266.8h4.2v4.2h-4.2zM1215.8 224.6h4.2v4.2h-4.2zM1089.8 347.6h4.2v4.2h-4.2zM1253.5 189.1h4.2v4.2h-4.2zM1104.7 310.0h4.2v4.2h-4.2zM1264.0 185.2h4.2v4.2h-4.2zM1133.6 343.9h4.2v4.2h-4.2zM1092.9 347.4h4.2v4.2h-4.2zM1177.7 250.2h4.2v4.2h-4.2zM1217.9 294.7h4.2v4.2h-4.2zM1144.5 336.6h4.2v4.2h-4.2zM1262.1 255.2h4.2v4.2h-4.2zM1279.7 185.9h4.2v4.2h-4.2zM1199.0 231.6h4.2v4.2h-4.2zM1150.9 270.2h4.2v4.2h-4.2zM1086.0 345.0h4.2v4.2h-4.2zM1297.3 187.7h4.2v4.2h-4.2zM1187.8 313.8h4.2v4.2h-4.2zM1167.6 257.3h4.2v4.2h-4.2zM1194.4 232.1h4.2v4.2h-4.2zM1172.7 325.7h4.2v4.2h-4.2zM1306.5 220.9h4.2v4.2h-4.2zM1241.3 273.4h4.2v4.2h-4.2zM1216.1 295.3h4.2v4.2h-4.2zM1255.0 187.1h4.2v4.2h-4.2zM1129.5 290.8h4.2v4.2h-4.2zM1264.5 253.7h4.2v4.2h-4.2zM1281.0 186.1h4.2v4.2h-4.2zM1269.9 183.8h4.2v4.2h-4.2zM1084.5 346.4h4.2v4.2h-4.2zM1267.4 252.3h4.2v4.2h-4.2zM1186.6 317.5h4.2v4.2h-4.2zM1101.1 311.4h4.2v4.2h-4.2zM1263.6 185.4h4.2v4.2h-4.2zM1152.7 270.4h4.2v4.2h-4.2zM1304.8 190.4h4.2v4.2h-4.2zM1090.7 318.5h4.2v4.2h-4.2zM1115.5 348.1h4.2v4.2h-4.2zM1218.4 217.2h4.2v4.2h-4.2zM1257.9 263.1h4.2v4.2h-4.2zM1196.6 310.0h4.2v4.2h-4.2zM1249.2 267.3h4.2v4.2h-4.2zM1236.6 200.3h4.2v4.2h-4.2zM1264.7 187.6h4.2v4.2h-4.2zM1193.0 236.8h4.2v4.2h-4.2zM1185.4 242.7h4.2v4.2h-4.2zM1288.9 237.1h4.2v4.2h-4.2zM1120.6 296.1h4.2v4.2h-4.2zM1176.0 324.0h4.2v4.2h-4.2zM1197.6 232.7h4.2v4.2h-4.2zM1122.2 294.6h4.2v4.2h-4.2zM1132.1 286.9h4.2v4.2h-4.2zM1243.1 272.1h4.2v4.2h-4.2zM1239.7 198.1h4.2v4.2h-4.2zM1152.2 270.5h4.2v4.2h-4.2zM1245.0 195.2h4.2v4.2h-4.2zM1293.3 234.1h4.2v4.2h-4.2zM1257.2 259.0h4.2v4.2h-4.2zM1288.8 234.9h4.2v4.2h-4.2zM1154.4 268.9h4.2v4.2h-4.2zM1120.4 298.9h4.2v4.2h-4.2zM1081.4 326.3h4.2v4.2h-4.2zM1217.8 221.3h4.2v4.2h-4.2zM1101.4 350.2h4.2v4.2h-4.2zM1218.6 217.4h4.2v4.2h-4.2zM1107.5 307.4h4.2v4.2h-4.2zM1176.9 251.5h4.2v4.2h-4.2zM1265.7 253.9h4.2v4.2h-4.2zM1095.4 348.5h4.2v4.2h-4.2zM1306.0 214.2h4.2v4.2h-4.2zM1132.9 349.3h4.2v4.2h-4.2zM1258.6 187.4h4.2v4.2h-4.2zM1216.7 297.4h4.2v4.2h-4.2zM1096.3 314.7h4.2v4.2h-4.2zM1232.8 205.4h4.2v4.2h-4.2zM1301.1 226.5h4.2v4.2h-4.2zM1292.3 182.8h4.2v4.2h-4.2zM1254.9 262.1h4.2v4.2h-4.2zM1217.9 221.9h4.2v4.2h-4.2zM1297.7 155.8h4.2v4.2h-4.2zM1316.5 153.8h4.2v4.2h-4.2zM1316.5 157.7h4.2v4.2h-4.2zM1348.3 152.8h4.2v4.2h-4.2zM1340.3 161.7h4.2v4.2h-4.2zM1330.4 164.7h4.2v4.2h-4.2zM1314.5 174.6h4.2v4.2h-4.2zM1296.7 169.6h4.2v4.2h-4.2zM1282.8 170.6h4.2v4.2h-4.2zM1273.9 180.6h4.2v4.2h-4.2zM1327.4 176.6h4.2v4.2h-4.2zM1333.4 189.5h4.2v4.2h-4.2zM1339.3 190.5h4.2v4.2h-4.2zM1343.3 197.4h4.2v4.2h-4.2zM1343.3 201.4h4.2v4.2h-4.2zM1356.2 186.5h4.2v4.2h-4.2zM1354.2 190.5h4.2v4.2h-4.2zM1327.4 194.4h4.2v4.2h-4.2zM1333.4 206.4h4.2v4.2h-4.2zM1320.5 216.3h4.2v4.2h-4.2zM1268.6 262.9h4.2v4.2h-4.2zM1259.8 268.4h4.2v4.2h-4.2zM1251.0 272.9h4.2v4.2h-4.2zM1284.0 250.8h4.2v4.2h-4.2zM1288.4 249.7h4.2v4.2h-4.2zM1308.3 228.8h4.2v4.2h-4.2zM1320.4 215.5h4.2v4.2h-4.2zM1324.1 213.4h4.2v4.2h-4.2zM1332.8 202.8h4.2v4.2h-4.2zM1300.6 172.8h4.2v4.2h-4.2zM1312.2 210.2h4.2v4.2h-4.2zM1305.0 222.7h4.2v4.2h-4.2zM1337.6 189.9h4.2v4.2h-4.2zM1277.2 177.6h4.2v4.2h-4.2zM1299.9 179.4h4.2v4.2h-4.2zM1340.9 206.0h4.2v4.2h-4.2zM1313.6 181.5h4.2v4.2h-4.2zM1324.3 210.8h4.2v4.2h-4.2zM1339.1 187.9h4.2v4.2h-4.2zM1335.4 186.8h4.2v4.2h-4.2zM1320.3 201.2h4.2v4.2h-4.2zM1326.9 194.3h4.2v4.2h-4.2zM1302.0 184.8h4.2v4.2h-4.2zM1316.2 216.6h4.2v4.2h-4.2zM1319.7 193.9h4.2v4.2h-4.2zM1309.8 182.2h4.2v4.2h-4.2zM1318.9 185.8h4.2v4.2h-4.2zM1294.1 175.8h4.2v4.2h-4.2zM1316.6 177.4h4.2v4.2h-4.2zM1283.9 173.2h4.2v4.2h-4.2zM1322.8 187.1h4.2v4.2h-4.2zM1320.4 206.4h4.2v4.2h-4.2zM1320.0 187.5h4.2v4.2h-4.2zM1321.5 189.9h4.2v4.2h-4.2zM1321.5 176.7h4.2v4.2h-4.2zM1339.2 205.5h4.2v4.2h-4.2zM1332.5 186.6h4.2v4.2h-4.2zM1315.3 181.3h4.2v4.2h-4.2zM1278.8 178.7h4.2v4.2h-4.2zM1326.7 182.3h4.2v4.2h-4.2zM1325.9 194.9h4.2v4.2h-4.2zM1289.1 171.1h4.2v4.2h-4.2zM1299.7 182.3h4.2v4.2h-4.2zM1328.2 188.6h4.2v4.2h-4.2zM1287.9 170.9h4.2v4.2h-4.2zM1330.7 187.6h4.2v4.2h-4.2zM1313.2 199.2h4.2v4.2h-4.2zM1284.1 181.8h4.2v4.2h-4.2zM1308.0 218.7h4.2v4.2h-4.2zM1307.2 181.1h4.2v4.2h-4.2zM1325.3 179.5h4.2v4.2h-4.2zM1307.7 221.8h4.2v4.2h-4.2zM1319.6 186.5h4.2v4.2h-4.2zM1340.6 194.2h4.2v4.2h-4.2zM1335.9 185.8h4.2v4.2h-4.2zM1329.1 199.7h4.2v4.2h-4.2zM1329.9 207.7h4.2v4.2h-4.2zM1326.9 179.5h4.2v4.2h-4.2zM1279.9 176.5h4.2v4.2h-4.2zM1337.7 203.1h4.2v4.2h-4.2zM1326.1 206.3h4.2v4.2h-4.2zM1323.4 212.2h4.2v4.2h-4.2zM1310.5 218.8h4.2v4.2h-4.2zM1286.7 168.2h4.2v4.2h-4.2zM1299.2 172.8h4.2v4.2h-4.2zM1318.9 201.1h4.2v4.2h-4.2zM1311.7 208.2h4.2v4.2h-4.2zM1306.6 223.6h4.2v4.2h-4.2zM1301.0 179.1h4.2v4.2h-4.2zM1305.5 185.3h4.2v4.2h-4.2zM1312.0 199.5h4.2v4.2h-4.2zM1303.8 230.9h4.2v4.2h-4.2zM1291.2 179.3h4.2v4.2h-4.2zM1315.0 222.1h4.2v4.2h-4.2zM1312.8 199.9h4.2v4.2h-4.2zM1296.0 171.3h4.2v4.2h-4.2zM1318.9 189.6h4.2v4.2h-4.2zM1306.1 225.7h4.2v4.2h-4.2zM1301.9 228.8h4.2v4.2h-4.2zM1294.4 182.6h4.2v4.2h-4.2zM1307.6 178.6h4.2v4.2h-4.2zM1324.6 200.3h4.2v4.2h-4.2zM1311.3 196.3h4.2v4.2h-4.2zM1296.7 182.3h4.2v4.2h-4.2zM1316.4 174.9h4.2v4.2h-4.2zM1306.2 167.9h4.2v4.2h-4.2zM1285.6 175.7h4.2v4.2h-4.2zM1297.7 235.7h4.2v4.2h-4.2zM1338.7 217.5h4.2v4.2h-4.2zM1311.3 231.4h4.2v4.2h-4.2zM1314.9 224.6h4.2v4.2h-4.2zM1303.0 229.2h4.2v4.2h-4.2zM1301.5 185.0h4.2v4.2h-4.2zM1310.2 221.2h4.2v4.2h-4.2zM1310.7 187.9h4.2v4.2h-4.2zM1308.8 228.9h4.2v4.2h-4.2zM1298.2 232.8h4.2v4.2h-4.2zM1316.3 206.8h4.2v4.2h-4.2zM1302.4 173.9h4.2v4.2h-4.2zM1288.8 180.9h4.2v4.2h-4.2zM1307.8 228.9h4.2v4.2h-4.2zM1310.5 210.5h4.2v4.2h-4.2zM1313.5 185.0h4.2v4.2h-4.2zM1287.9 171.1h4.2v4.2h-4.2zM1291.9 182.0h4.2v4.2h-4.2zM1271.9 165.1h4.2v4.2h-4.2zM1321.9 222.6h4.2v4.2h-4.2zM1324.9 188.7h4.2v4.2h-4.2zM1302.9 227.5h4.2v4.2h-4.2zM1309.2 172.6h4.2v4.2h-4.2zM1312.2 224.8h4.2v4.2h-4.2zM1296.3 233.7h4.2v4.2h-4.2zM1320.2 227.6h4.2v4.2h-4.2zM1320.9 204.8h4.2v4.2h-4.2zM1301.5 184.1h4.2v4.2h-4.2zM1311.8 190.8h4.2v4.2h-4.2zM1312.4 211.2h4.2v4.2h-4.2zM1331.5 190.0h4.2v4.2h-4.2zM1307.0 184.8h4.2v4.2h-4.2zM1311.3 193.2h4.2v4.2h-4.2zM1275.7 175.1h4.2v4.2h-4.2zM1294.7 180.3h4.2v4.2h-4.2zM1269.8 156.9h4.2v4.2h-4.2zM1292.7 180.5h4.2v4.2h-4.2zM1290.1 182.6h4.2v4.2h-4.2zM1299.1 181.7h4.2v4.2h-4.2zM1308.2 191.9h4.2v4.2h-4.2zM1282.3 181.6h4.2v4.2h-4.2zM1300.9 175.1h4.2v4.2h-4.2zM1288.5 181.7h4.2v4.2h-4.2zM1315.3 206.4h4.2v4.2h-4.2zM1295.4 177.7h4.2v4.2h-4.2zM1289.1 243.2h4.2v4.2h-4.2zM1271.8 254.8h4.2v4.2h-4.2zM1253.1 267.3h4.2v4.2h-4.2zM1273.8 253.0h4.2v4.2h-4.2zM1318.3 215.6h4.2v4.2h-4.2zM1279.7 246.4h4.2v4.2h-4.2zM1286.8 242.2h4.2v4.2h-4.2zM1278.0 250.0h4.2v4.2h-4.2zM1266.5 256.1h4.2v4.2h-4.2zM1307.3 223.4h4.2v4.2h-4.2zM1268.5 254.6h4.2v4.2h-4.2zM1264.2 260.7h4.2v4.2h-4.2zM1241.2 276.8h4.2v4.2h-4.2zM1300.2 241.5h4.2v4.2h-4.2zM1260.7 262.9h4.2v4.2h-4.2zM1303.9 229.4h4.2v4.2h-4.2zM1297.4 234.7h4.2v4.2h-4.2zM1260.1 261.5h4.2v4.2h-4.2zM1275.0 251.6h4.2v4.2h-4.2zM1267.0 260.8h4.2v4.2h-4.2zM1272.4 251.8h4.2v4.2h-4.2zM1255.2 273.1h4.2v4.2h-4.2zM1282.2 252.0h4.2v4.2h-4.2zM1257.5 269.0h4.2v4.2h-4.2zM1253.7 267.2h4.2v4.2h-4.2z"/>
<path fill="#f00" d="M1082.8 326.0L1089.1 322.2L1098.9 317.3L1108.8 310.3L1118.7 302.8L1128.5 294.9L1138.9 285.8L1146.6 278.2L1154.6 270.3L1162.6 264.2L1168.6 260.3L1179.1 251.8L1189.1 245.3L1199.0 237.9L1207.9 229.0L1216.5 218.9L1229.8 207.9L1238.8 198.1L1245.1 187.0L1260.7 168.2L1264.8 166.0L1272.5 158.2L1276.4 154.4L1280.4 148.6L1288.8 136.1L1296.8 128.2L1304.7 118.2L1314.4 110.5L1316.5 102.6L1318.5 94.9L1317.6 87.0L1314.1 85.2L1309.8 87.8L1302.9 95.7L1295.0 101.6L1290.6 106.8L1284.4 112.9L1278.4 116.0L1270.6 122.8L1262.6 128.8L1256.9 133.6L1250.9 140.5L1243.0 148.5L1237.1 154.4L1230.6 162.8L1222.6 170.9L1216.4 174.9L1210.6 178.9L1202.7 184.7L1196.9 190.7L1190.9 196.6L1185.0 202.5L1179.0 209.4L1174.6 213.9L1170.5 218.9L1162.5 225.0L1156.8 229.8L1152.7 237.9L1144.7 240.9L1140.9 246.4L1136.9 252.6L1128.8 258.6L1122.9 264.6L1117.1 269.5L1112.6 275.1L1106.7 279.1L1102.2 283.9L1098.8 289.3L1094.8 296.7L1090.8 303.7L1086.9 311.6L1084.0 320.4Z"/>
<path fill="#f00" d="M1111.1 273.2h4.2v4.2h-4.2zM1195.5 237.6h4.2v4.2h-4.2zM1279.7 143.9h4.2v4.2h-4.2zM1233.8 152.9h4.2v4.2h-4.2zM1161.3 222.3h4.2v4.2h-4.2zM1155.7 229.4h4.2v4.2h-4.2zM1265.4 160.0h4.2v4.2h-4.2zM1290.0 105.7h4.2v4.2h-4.2zM1152.0 235.1h4.2v4.2h-4.2zM1305.1 117.0h4.2v4.2h-4.2zM1287.8 106.6h4.2v4.2h-4.2zM1224.7 206.5h4.2v4.2h-4.2zM1261.9 125.2h4.2v4.2h-4.2zM1228.9 158.9h4.2v4.2h-4.2zM1084.1 320.7h4.2v4.2h-4.2zM1132.8 252.7h4.2v4.2h-4.2zM1212.6 174.6h4.2v4.2h-4.2zM1101.4 312.9h4.2v4.2h-4.2zM1085.8 307.6h4.2v4.2h-4.2zM1300.5 115.7h4.2v4.2h-4.2zM1151.8 268.8h4.2v4.2h-4.2zM1209.6 223.8h4.2v4.2h-4.2zM1101.8 280.3h4.2v4.2h-4.2zM1138.1 281.7h4.2v4.2h-4.2zM1230.9 200.9h4.2v4.2h-4.2zM1238.1 151.0h4.2v4.2h-4.2zM1215.5 174.3h4.2v4.2h-4.2zM1246.9 179.2h4.2v4.2h-4.2zM1265.6 123.8h4.2v4.2h-4.2zM1248.7 141.5h4.2v4.2h-4.2zM1288.2 105.6h4.2v4.2h-4.2zM1084.7 321.6h4.2v4.2h-4.2zM1201.9 229.7h4.2v4.2h-4.2zM1103.5 308.3h4.2v4.2h-4.2zM1251.5 136.6h4.2v4.2h-4.2zM1152.5 233.0h4.2v4.2h-4.2zM1132.7 296.3h4.2v4.2h-4.2zM1141.9 238.4h4.2v4.2h-4.2zM1162.1 220.9h4.2v4.2h-4.2zM1095.4 288.3h4.2v4.2h-4.2zM1136.9 282.9h4.2v4.2h-4.2zM1292.7 125.6h4.2v4.2h-4.2zM1312.4 100.7h4.2v4.2h-4.2zM1167.2 255.5h4.2v4.2h-4.2zM1226.6 204.4h4.2v4.2h-4.2zM1192.0 193.2h4.2v4.2h-4.2zM1099.3 286.1h4.2v4.2h-4.2zM1314.7 101.8h4.2v4.2h-4.2zM1151.1 269.7h4.2v4.2h-4.2zM1192.1 236.8h4.2v4.2h-4.2zM1315.6 90.0h4.2v4.2h-4.2zM1259.9 127.8h4.2v4.2h-4.2zM1171.1 252.1h4.2v4.2h-4.2zM1301.7 117.1h4.2v4.2h-4.2zM1206.5 179.9h4.2v4.2h-4.2zM1299.7 96.3h4.2v4.2h-4.2zM1206.1 179.8h4.2v4.2h-4.2zM1235.3 196.6h4.2v4.2h-4.2zM1166.2 257.2h4.2v4.2h-4.2zM1284.0 140.8h4.2v4.2h-4.2zM1137.5 248.6h4.2v4.2h-4.2zM1156.3 229.1h4.2v4.2h-4.2zM1101.3 315.2h4.2v4.2h-4.2zM1086.7 296.7h4.2v4.2h-4.2zM1220.8 210.3h4.2v4.2h-4.2zM1114.7 269.3h4.2v4.2h-4.2zM1093.6 317.0h4.2v4.2h-4.2zM1190.1 194.4h4.2v4.2h-4.2zM1081.5 307.8h4.2v4.2h-4.2zM1273.1 151.0h4.2v4.2h-4.2zM1176.8 249.9h4.2v4.2h-4.2zM1102.5 276.9h4.2v4.2h-4.2zM1217.5 171.2h4.2v4.2h-4.2zM1282.9 136.1h4.2v4.2h-4.2zM1197.3 187.2h4.2v4.2h-4.2zM1102.5 309.4h4.2v4.2h-4.2zM1082.4 321.7h4.2v4.2h-4.2zM1221.4 169.3h4.2v4.2h-4.2zM1112.6 271.9h4.2v4.2h-4.2zM1236.0 147.4h4.2v4.2h-4.2zM1136.7 249.2h4.2v4.2h-4.2zM1276.1 115.3h4.2v4.2h-4.2zM1118.5 300.3h4.2v4.2h-4.2zM1310.7 107.1h4.2v4.2h-4.2zM1080.8 321.7h4.2v4.2h-4.2zM1087.7 318.0h4.2v4.2h-4.2zM1241.2 188.9h4.2v4.2h-4.2zM1162.8 222.9h4.2v4.2h-4.2zM1121.8 262.4h4.2v4.2h-4.2zM1130.2 254.1h4.2v4.2h-4.2zM1299.0 121.2h4.2v4.2h-4.2zM1285.5 134.8h4.2v4.2h-4.2zM1300.0 122.5h4.2v4.2h-4.2zM1300.6 94.9h4.2v4.2h-4.2zM1311.7 82.6h4.2v4.2h-4.2zM1097.6 312.9h4.2v4.2h-4.2zM1107.9 276.6h4.2v4.2h-4.2zM1100.1 314.8h4.2v4.2h-4.2zM1103.8 276.5h4.2v4.2h-4.2zM1165.8 256.9h4.2v4.2h-4.2zM1087.4 307.7h4.2v4.2h-4.2zM1306.0 82.3h4.2v4.2h-4.2zM1136.1 281.8h4.2v4.2h-4.2zM1089.7 318.0h4.2v4.2h-4.2zM1166.7 220.6h4.2v4.2h-4.2zM1140.0 279.1h4.2v4.2h-4.2zM1202.5 181.0h4.2v4.2h-4.2zM1254.2 173.8h4.2v4.2h-4.2zM1229.3 162.6h4.2v4.2h-4.2zM1224.1 214.9h4.2v4.2h-4.2zM1302.6 116.7h4.2v4.2h-4.2zM1269.0 120.7h4.2v4.2h-4.2zM1187.9 198.0h4.2v4.2h-4.2zM1141.1 277.8h4.2v4.2h-4.2zM1101.8 311.7h4.2v4.2h-4.2zM1082.7 321.3h4.2v4.2h-4.2zM1225.7 166.2h4.2v4.2h-4.2zM1264.5 161.0h4.2v4.2h-4.2zM1177.8 250.1h4.2v4.2h-4.2zM1105.0 276.0h4.2v4.2h-4.2zM1260.2 163.9h4.2v4.2h-4.2zM1183.3 246.3h4.2v4.2h-4.2zM1144.6 275.3h4.2v4.2h-4.2zM1183.0 244.7h4.2v4.2h-4.2zM1159.5 263.5h4.2v4.2h-4.2zM1301.7 116.8h4.2v4.2h-4.2zM1082.0 323.7h4.2v4.2h-4.2zM1191.9 237.3h4.2v4.2h-4.2zM1079.5 326.1h4.2v4.2h-4.2zM1260.7 127.9h4.2v4.2h-4.2zM1153.4 233.5h4.2v4.2h-4.2zM1223.8 208.8h4.2v4.2h-4.2zM1314.1 88.4h4.2v4.2h-4.2zM1182.0 195.9h4.2v4.2h-4.2zM1197.1 235.1h4.2v4.2h-4.2zM1206.5 177.2h4.2v4.2h-4.2zM1280.4 143.6h4.2v4.2h-4.2zM1224.2 165.7h4.2v4.2h-4.2zM1097.7 314.4h4.2v4.2h-4.2zM1292.2 103.4h4.2v4.2h-4.2zM1248.4 177.2h4.2v4.2h-4.2zM1226.1 163.6h4.2v4.2h-4.2zM1274.7 116.3h4.2v4.2h-4.2zM1087.2 308.3h4.2v4.2h-4.2zM1305.3 114.6h4.2v4.2h-4.2zM1181.1 205.2h4.2v4.2h-4.2zM1115.4 269.9h4.2v4.2h-4.2zM1224.7 167.2h4.2v4.2h-4.2zM1130.0 290.4h4.2v4.2h-4.2zM1191.0 240.3h4.2v4.2h-4.2zM1130.7 254.8h4.2v4.2h-4.2zM1216.9 172.8h4.2v4.2h-4.2zM1082.8 319.6h4.2v4.2h-4.2zM1147.6 237.7h4.2v4.2h-4.2zM1107.6 274.1h4.2v4.2h-4.2zM1185.7 199.3h4.2v4.2h-4.2zM1131.2 286.0h4.2v4.2h-4.2zM1312.9 105.8h4.2v4.2h-4.2zM1219.2 171.9h4.2v4.2h-4.2zM1168.9 255.2h4.2v4.2h-4.2zM1152.6 232.6h4.2v4.2h-4.2zM1191.2 239.7h4.2v4.2h-4.2zM1280.2 113.5h4.2v4.2h-4.2zM1155.8 229.2h4.2v4.2h-4.2zM1156.0 226.1h4.2v4.2h-4.2zM1133.0 285.2h4.2v4.2h-4.2zM1139.5 280.1h4.2v4.2h-4.2zM1121.5 264.5h4.2v4.2h-4.2zM1198.1 187.9h4.2v4.2h-4.2zM1280.3 143.2h4.2v4.2h-4.2zM1085.5 319.7h4.2v4.2h-4.2zM1259.2 126.9h4.2v4.2h-4.2zM1136.9 247.6h4.2v4.2h-4.2zM1108.4 274.5h4.2v4.2h-4.2zM1108.5 307.4h4.2v4.2h-4.2zM1261.8 166.1h4.2v4.2h-4.2zM1081.7 326.4h4.2v4.2h-4.2zM1143.4 276.9h4.2v4.2h-4.2zM1300.3 95.1h4.2v4.2h-4.2zM1215.2 171.7h4.2v4.2h-4.2zM1088.1 319.2h4.2v4.2h-4.2zM1075.1 327.5h4.2v4.2h-4.2zM1229.4 160.5h4.2v4.2h-4.2zM1096.5 316.0h4.2v4.2h-4.2zM1284.3 137.1h4.2v4.2h-4.2zM1223.0 210.1h4.2v4.2h-4.2zM1090.6 316.8h4.2v4.2h-4.2zM1315.3 84.8h4.2v4.2h-4.2zM1087.4 307.1h4.2v4.2h-4.2zM1221.1 168.6h4.2v4.2h-4.2zM1231.5 198.8h4.2v4.2h-4.2zM1258.0 128.2h4.2v4.2h-4.2zM1313.9 99.2h4.2v4.2h-4.2zM1286.9 135.2h4.2v4.2h-4.2zM1319.1 90.2h4.2v4.2h-4.2zM1229.0 203.3h4.2v4.2h-4.2zM1171.7 254.0h4.2v4.2h-4.2zM1148.6 271.8h4.2v4.2h-4.2zM1236.2 151.9h4.2v4.2h-4.2zM1119.9 295.6h4.2v4.2h-4.2zM1087.9 305.5h4.2v4.2h-4.2zM1264.9 162.6h4.2v4.2h-4.2zM1239.4 149.3h4.2v4.2h-4.2zM1147.1 271.2h4.2v4.2h-4.2zM1106.4 308.6h4.2v4.2h-4.2zM1132.6 287.3h4.2v4.2h-4.2zM1160.9 261.7h4.2v4.2h-4.2zM1100.3 312.5h4.2v4.2h-4.2zM1248.3 140.7h4.2v4.2h-4.2zM1213.7 172.9h4.2v4.2h-4.2zM1220.5 168.9h4.2v4.2h-4.2zM1204.7 181.1h4.2v4.2h-4.2zM1312.7 83.0h4.2v4.2h-4.2zM1115.5 302.4h4.2v4.2h-4.2zM1263.0 161.3h4.2v4.2h-4.2zM1234.6 152.5h4.2v4.2h-4.2zM1241.2 192.7h4.2v4.2h-4.2zM1267.1 122.1h4.2v4.2h-4.2zM1205.3 181.1h4.2v4.2h-4.2zM1257.7 129.2h4.2v4.2h-4.2zM1140.2 244.7h4.2v4.2h-4.2zM1196.4 243.8h4.2v4.2h-4.2zM1203.0 227.2h4.2v4.2h-4.2zM1127.4 254.9h4.2v4.2h-4.2zM1196.6 188.0h4.2v4.2h-4.2zM1255.8 131.5h4.2v4.2h-4.2zM1100.1 310.6h4.2v4.2h-4.2zM1297.0 124.1h4.2v4.2h-4.2zM1313.9 105.8h4.2v4.2h-4.2zM1303.3 88.4h4.2v4.2h-4.2zM1309.6 110.7h4.2v4.2h-4.2zM1085.5 311.2h4.2v4.2h-4.2zM1246.8 177.4h4.2v4.2h-4.2zM1203.2 180.3h4.2v4.2h-4.2zM1205.0 226.4h4.2v4.2h-4.2zM1078.8 325.3h4.2v4.2h-4.2zM1137.2 246.3h4.2v4.2h-4.2zM1227.0 161.7h4.2v4.2h-4.2zM1133.7 285.4h4.2v4.2h-4.2zM1232.5 198.7h4.2v4.2h-4.2zM1099.6 281.5h4.2v4.2h-4.2zM1269.1 120.3h4.2v4.2h-4.2zM1315.5 99.4h4.2v4.2h-4.2zM1235.8 197.6h4.2v4.2h-4.2zM1178.8 207.1h4.2v4.2h-4.2zM1268.9 157.5h4.2v4.2h-4.2zM1276.5 146.2h4.2v4.2h-4.2zM1206.4 224.9h4.2v4.2h-4.2zM1088.4 318.2h4.2v4.2h-4.2zM1238.5 148.8h4.2v4.2h-4.2zM1273.5 116.1h4.2v4.2h-4.2zM1216.0 216.5h4.2v4.2h-4.2zM1086.6 320.6h4.2v4.2h-4.2zM1147.5 237.1h4.2v4.2h-4.2zM1213.5 216.2h4.2v4.2h-4.2zM1238.9 189.3h4.2v4.2h-4.2zM1140.4 280.9h4.2v4.2h-4.2zM1087.8 307.4h4.2v4.2h-4.2zM1245.4 144.0h4.2v4.2h-4.2zM1112.8 271.0h4.2v4.2h-4.2zM1311.8 83.4h4.2v4.2h-4.2zM1291.1 127.0h4.2v4.2h-4.2zM1233.5 198.1h4.2v4.2h-4.2zM1224.6 167.2h4.2v4.2h-4.2zM1117.0 298.6h4.2v4.2h-4.2zM1117.1 265.6h4.2v4.2h-4.2zM1203.8 229.4h4.2v4.2h-4.2zM1279.6 141.1h4.2v4.2h-4.2zM1245.5 142.6h4.2v4.2h-4.2zM1212.0 174.6h4.2v4.2h-4.2zM1082.9 322.3h4.2v4.2h-4.2zM1232.1 158.9h4.2v4.2h-4.2zM1263.3 127.2h4.2v4.2h-4.2zM1160.3 224.2h4.2v4.2h-4.2zM1213.0 174.4h4.2v4.2h-4.2zM1198.0 234.0h4.2v4.2h-4.2zM1119.4 296.1h4.2v4.2h-4.2zM1104.2 278.1h4.2v4.2h-4.2zM1287.5 107.2h4.2v4.2h-4.2zM1312.7 100.3h4.2v4.2h-4.2zM1099.8 282.5h4.2v4.2h-4.2zM1181.3 244.6h4.2v4.2h-4.2zM1166.8 261.3h4.2v4.2h-4.2zM1278.9 113.6h4.2v4.2h-4.2zM1220.0 209.6h4.2v4.2h-4.2zM1091.9 299.1h4.2v4.2h-4.2zM1121.1 297.2h4.2v4.2h-4.2zM1314.8 84.8h4.2v4.2h-4.2zM1259.5 127.3h4.2v4.2h-4.2zM1116.8 265.0h4.2v4.2h-4.2zM1216.7 173.7h4.2v4.2h-4.2zM1313.4 97.4h4.2v4.2h-4.2zM1226.4 165.3h4.2v4.2h-4.2zM1213.6 172.4h4.2v4.2h-4.2zM1286.8 134.1h4.2v4.2h-4.2zM1220.4 164.5h4.2v4.2h-4.2zM1250.0 174.9h4.2v4.2h-4.2zM1098.2 288.1h4.2v4.2h-4.2zM1244.9 183.3h4.2v4.2h-4.2zM1092.8 297.5h4.2v4.2h-4.2zM1173.6 213.0h4.2v4.2h-4.2zM1275.8 153.9h4.2v4.2h-4.2zM1118.4 297.6h4.2v4.2h-4.2zM1168.1 256.3h4.2v4.2h-4.2zM1079.4 327.4h4.2v4.2h-4.2zM1157.5 227.9h4.2v4.2h-4.2zM1262.8 127.2h4.2v4.2h-4.2zM1309.7 116.6h4.2v4.2h-4.2zM1211.2 221.0h4.2v4.2h-4.2zM1092.7 317.6h4.2v4.2h-4.2zM1225.8 205.3h4.2v4.2h-4.2zM1239.6 147.3h4.2v4.2h-4.2zM1176.9 210.1h4.2v4.2h-4.2zM1149.7 270.2h4.2v4.2h-4.2zM1224.1 162.5h4.2v4.2h-4.2zM1101.4 279.1h4.2v4.2h-4.2zM1270.0 119.3h4.2v4.2h-4.2zM1190.0 193.4h4.2v4.2h-4.2zM1286.4 103.1h4.2v4.2h-4.2zM1273.2 151.0h4.2v4.2h-4.2zM1181.2 204.6h4.2v4.2h-4.2zM1151.0 235.0h4.2v4.2h-4.2zM1211.3 177.3h4.2v4.2h-4.2zM1316.2 86.5h4.2v4.2h-4.2zM1253.2 172.6h4.2v4.2h-4.2zM1126.9 290.7h4.2v4.2h-4.2zM1109.1 273.4h4.2v4.2h-4.2zM1221.5 209.7h4.2v4.2h-4.2zM1311.2 84.3h4.2v4.2h-4.2zM1308.6 87.1h4.2v4.2h-4.2zM1286.3 108.9h4.2v4.2h-4.2zM1264.3 160.6h4.2v4.2h-4.2zM1160.3 222.2h4.2v4.2h-4.2zM1305.6 90.4h4.2v4.2h-4.2zM1133.6 285.4h4.2v4.2h-4.2zM1126.7 257.9h4.2v4.2h-4.2zM1113.8 267.4h4.2v4.2h-4.2zM1154.5 227.9h4.2v4.2h-4.2zM1131.8 285.3h4.2v4.2h-4.2zM1088.5 303.7h4.2v4.2h-4.2zM1088.3 304.2h4.2v4.2h-4.2zM1276.4 146.2h4.2v4.2h-4.2zM1305.5 113.4h4.2v4.2h-4.2zM1294.3 98.0h4.2v4.2h-4.2zM1314.4 89.7h4.2v4.2h-4.2zM1124.4 295.4h4.2v4.2h-4.2zM1166.5 220.0h4.2v4.2h-4.2zM1091.9 294.5h4.2v4.2h-4.2zM1210.4 220.1h4.2v4.2h-4.2zM1260.3 128.3h4.2v4.2h-4.2zM1244.2 187.8h4.2v4.2h-4.2zM1280.8 147.9h4.2v4.2h-4.2zM1225.8 207.7h4.2v4.2h-4.2zM1276.8 146.0h4.2v4.2h-4.2zM1294.5 124.9h4.2v4.2h-4.2zM1252.4 133.6h4.2v4.2h-4.2zM1296.2 91.4h4.2v4.2h-4.2zM1163.0 260.3h4.2v4.2h-4.2zM1301.2 94.3h4.2v4.2h-4.2zM1081.8 328.1h4.2v4.2h-4.2zM1184.8 245.1h4.2v4.2h-4.2zM1164.0 258.4h4.2v4.2h-4.2zM1108.0 275.6h4.2v4.2h-4.2zM1298.6 97.5h4.2v4.2h-4.2zM1316.3 93.7h4.2v4.2h-4.2zM1187.2 195.7h4.2v4.2h-4.2zM1129.7 290.7h4.2v4.2h-4.2zM1261.3 127.4h4.2v4.2h-4.2zM1251.5 134.5h4.2v4.2h-4.2zM1080.5 323.4h4.2v4.2h-4.2zM1301.8 114.6h4.2v4.2h-4.2zM1165.4 218.5h4.2v4.2h-4.2zM1210.0 173.9h4.2v4.2h-4.2zM1225.5 163.2h4.2v4.2h-4.2zM1187.5 190.8h4.2v4.2h-4.2zM1187.2 243.4h4.2v4.2h-4.2zM1301.1 92.6h4.2v4.2h-4.2zM1314.3 98.3h4.2v4.2h-4.2zM1100.9 284.0h4.2v4.2h-4.2zM1169.1 216.7h4.2v4.2h-4.2zM1160.9 261.9h4.2v4.2h-4.2zM1203.0 183.0h4.2v4.2h-4.2zM1267.1 159.2h4.2v4.2h-4.2zM1169.8 255.7h4.2v4.2h-4.2zM1086.9 320.7h4.2v4.2h-4.2zM1187.3 198.3h4.2v4.2h-4.2zM1234.4 155.4h4.2v4.2h-4.2zM1315.4 98.4h4.2v4.2h-4.2zM1201.4 184.0h4.2v4.2h-4.2zM1159.7 222.3h4.2v4.2h-4.2zM1286.7 107.9h4.2v4.2h-4.2zM1248.6 138.9h4.2v4.2h-4.2zM1084.3 309.4h4.2v4.2h-4.2zM1315.8 92.5h4.2v4.2h-4.2zM1235.3 196.5h4.2v4.2h-4.2zM1137.6 246.1h4.2v4.2h-4.2zM1081.0 326.7h4.2v4.2h-4.2zM1250.7 137.3h4.2v4.2h-4.2zM1196.1 237.2h4.2v4.2h-4.2zM1160.4 224.5h4.2v4.2h-4.2zM1189.5 194.8h4.2v4.2h-4.2zM1197.7 235.0h4.2v4.2h-4.2zM1126.9 292.3h4.2v4.2h-4.2zM1259.4 129.4h4.2v4.2h-4.2zM1228.3 156.4h4.2v4.2h-4.2zM1229.4 158.8h4.2v4.2h-4.2zM1277.5 114.6h4.2v4.2h-4.2zM1103.8 278.0h4.2v4.2h-4.2zM1284.5 136.1h4.2v4.2h-4.2zM1083.7 325.5h4.2v4.2h-4.2zM1140.0 280.6h4.2v4.2h-4.2zM1298.8 119.2h4.2v4.2h-4.2zM1204.7 178.9h4.2v4.2h-4.2zM1076.3 325.1h4.2v4.2h-4.2zM1208.9 221.2h4.2v4.2h-4.2zM1105.7 278.5h4.2v4.2h-4.2zM1215.5 172.2h4.2v4.2h-4.2zM1179.9 205.4h4.2v4.2h-4.2zM1153.9 229.8h4.2v4.2h-4.2zM1129.0 250.7h4.2v4.2h-4.2zM1266.6 159.3h4.2v4.2h-4.2zM1270.9 118.1h4.2v4.2h-4.2zM1172.9 213.3h4.2v4.2h-4.2zM1175.7 210.7h4.2v4.2h-4.2zM1256.3 169.3h4.2v4.2h-4.2zM1312.7 101.3h4.2v4.2h-4.2zM1109.1 305.6h4.2v4.2h-4.2zM1296.5 98.4h4.2v4.2h-4.2zM1129.0 291.3h4.2v4.2h-4.2zM1286.2 106.8h4.2v4.2h-4.2zM1313.6 85.4h4.2v4.2h-4.2zM1202.5 228.3h4.2v4.2h-4.2zM1135.9 250.1h4.2v4.2h-4.2zM1089.4 299.6h4.2v4.2h-4.2zM1082.5 316.9h4.2v4.2h-4.2zM1140.1 278.7h4.2v4.2h-4.2zM1182.4 246.8h4.2v4.2h-4.2zM1096.6 314.1h4.2v4.2h-4.2zM1308.9 110.0h4.2v4.2h-4.2zM1231.9 198.5h4.2v4.2h-4.2zM1197.5 235.7h4.2v4.2h-4.2zM1123.5 295.7h4.2v4.2h-4.2zM1111.4 302.6h4.2v4.2h-4.2zM1138.7 245.0h4.2v4.2h-4.2zM1231.0 159.5h4.2v4.2h-4.2zM1271.0 155.5h4.2v4.2h-4.2zM1209.8 220.5h4.2v4.2h-4.2zM1240.6 186.2h4.2v4.2h-4.2zM1113.1 302.1h4.2v4.2h-4.2zM1102.7 311.4h4.2v4.2h-4.2zM1154.3 231.0h4.2v4.2h-4.2zM1243.2 144.6h4.2v4.2h-4.2zM1140.1 243.6h4.2v4.2h-4.2zM1251.2 175.8h4.2v4.2h-4.2zM1096.9 287.5h4.2v4.2h-4.2zM1316.2 91.5h4.2v4.2h-4.2zM1136.0 248.5h4.2v4.2h-4.2zM1233.2 156.2h4.2v4.2h-4.2zM1081.7 327.4h4.2v4.2h-4.2zM1115.4 299.3h4.2v4.2h-4.2zM1264.6 162.6h4.2v4.2h-4.2zM1144.8 274.0h4.2v4.2h-4.2zM1162.1 259.7h4.2v4.2h-4.2zM1249.5 180.2h4.2v4.2h-4.2zM1097.8 284.4h4.2v4.2h-4.2zM1303.6 87.7h4.2v4.2h-4.2zM1134.6 286.4h4.2v4.2h-4.2zM1209.7 176.4h4.2v4.2h-4.2zM1135.4 250.5h4.2v4.2h-4.2zM1116.9 265.7h4.2v4.2h-4.2zM1154.8 267.2h4.2v4.2h-4.2zM1180.1 205.6h4.2v4.2h-4.2zM1153.2 229.9h4.2v4.2h-4.2zM1184.0 243.3h4.2v4.2h-4.2zM1194.2 187.9h4.2v4.2h-4.2zM1118.9 263.2h4.2v4.2h-4.2zM1086.4 319.9h4.2v4.2h-4.2zM1312.8 106.4h4.2v4.2h-4.2zM1085.2 321.9h4.2v4.2h-4.2zM1272.3 117.2h4.2v4.2h-4.2zM1091.3 317.0h4.2v4.2h-4.2zM1309.8 86.3h4.2v4.2h-4.2zM1256.0 128.4h4.2v4.2h-4.2zM1164.0 220.5h4.2v4.2h-4.2zM1261.6 162.3h4.2v4.2h-4.2zM1224.1 164.8h4.2v4.2h-4.2zM1107.4 277.0h4.2v4.2h-4.2zM1242.5 144.3h4.2v4.2h-4.2zM1163.0 219.9h4.2v4.2h-4.2zM1184.2 201.2h4.2v4.2h-4.2zM1173.0 253.2h4.2v4.2h-4.2zM1186.5 242.3h4.2v4.2h-4.2zM1251.4 137.2h4.2v4.2h-4.2zM1240.5 147.4h4.2v4.2h-4.2zM1239.3 192.8h4.2v4.2h-4.2zM1212.5 219.1h4.2v4.2h-4.2zM1082.2 322.9h4.2v4.2h-4.2zM1141.0 240.7h4.2v4.2h-4.2zM1178.7 205.3h4.2v4.2h-4.2zM1218.4 169.5h4.2v4.2h-4.2zM1247.7 180.6h4.2v4.2h-4.2zM1088.9 317.9h4.2v4.2h-4.2zM1242.2 187.4h4.2v4.2h-4.2zM1227.2 206.7h4.2v4.2h-4.2zM1227.8 205.0h4.2v4.2h-4.2zM1081.5 322.9h4.2v4.2h-4.2zM1150.6 236.6h4.2v4.2h-4.2zM1213.7 217.5h4.2v4.2h-4.2zM1294.4 125.6h4.2v4.2h-4.2zM1314.0 90.1h4.2v4.2h-4.2zM1244.4 142.3h4.2v4.2h-4.2zM1315.3 96.7h4.2v4.2h-4.2zM1189.0 241.2h4.2v4.2h-4.2zM1140.1 244.4h4.2v4.2h-4.2zM1131.6 285.9h4.2v4.2h-4.2zM1249.5 138.1h4.2v4.2h-4.2zM1101.6 310.4h4.2v4.2h-4.2zM1235.4 153.4h4.2v4.2h-4.2zM1171.0 255.5h4.2v4.2h-4.2zM1267.7 122.7h4.2v4.2h-4.2zM1125.6 292.8h4.2v4.2h-4.2zM1110.9 304.3h4.2v4.2h-4.2zM1299.3 96.6h4.2v4.2h-4.2zM1277.1 148.4h4.2v4.2h-4.2zM1256.0 166.4h4.2v4.2h-4.2zM1096.0 314.2h4.2v4.2h-4.2zM1233.3 155.9h4.2v4.2h-4.2zM1087.5 307.3h4.2v4.2h-4.2zM1229.7 201.8h4.2v4.2h-4.2zM1302.2 94.5h4.2v4.2h-4.2zM1185.6 196.7h4.2v4.2h-4.2zM1102.4 310.2h4.2v4.2h-4.2zM1233.9 199.4h4.2v4.2h-4.2zM1291.4 130.6h4.2v4.2h-4.2zM1226.6 163.6h4.2v4.2h-4.2zM1231.2 157.6h4.2v4.2h-4.2zM1269.9 120.8h4.2v4.2h-4.2zM1309.1 87.2h4.2v4.2h-4.2zM1271.2 118.7h4.2v4.2h-4.2zM1307.1 85.4h4.2v4.2h-4.2zM1257.6 126.3h4.2v4.2h-4.2zM1228.4 160.2h4.2v4.2h-4.2zM1231.2 152.6h4.2v4.2h-4.2zM1082.9 321.4h4.2v4.2h-4.2zM1256.3 125.0h4.2v4.2h-4.2zM1227.0 206.6h4.2v4.2h-4.2zM1100.0 313.3h4.2v4.2h-4.2zM1142.0 239.4h4.2v4.2h-4.2zM1090.4 318.2h4.2v4.2h-4.2zM1210.9 221.8h4.2v4.2h-4.2zM1187.7 197.9h4.2v4.2h-4.2zM1091.2 317.0h4.2v4.2h-4.2zM1112.7 302.0h4.2v4.2h-4.2zM1288.7 133.3h4.2v4.2h-4.2zM1302.9 113.4h4.2v4.2h-4.2zM1293.6 100.5h4.2v4.2h-4.2zM1316.0 90.4h4.2v4.2h-4.2zM1079.4 323.6h4.2v4.2h-4.2zM1268.6 158.9h4.2v4.2h-4.2zM1271.9 118.0h4.2v4.2h-4.2zM1279.6 114.2h4.2v4.2h-4.2zM1223.7 211.2h4.2v4.2h-4.2zM1161.9 221.7h4.2v4.2h-4.2zM1304.0 89.4h4.2v4.2h-4.2zM1079.7 318.9h4.2v4.2h-4.2zM1112.6 267.9h4.2v4.2h-4.2zM1316.8 90.2h4.2v4.2h-4.2zM1207.0 178.8h4.2v4.2h-4.2zM1250.1 175.4h4.2v4.2h-4.2zM1100.2 312.5h4.2v4.2h-4.2zM1176.0 209.0h4.2v4.2h-4.2zM1279.2 111.8h4.2v4.2h-4.2zM1283.1 135.7h4.2v4.2h-4.2zM1304.9 92.1h4.2v4.2h-4.2zM1311.0 109.0h4.2v4.2h-4.2zM1275.4 151.9h4.2v4.2h-4.2zM1285.6 109.4h4.2v4.2h-4.2zM1247.4 140.3h4.2v4.2h-4.2zM1218.3 169.3h4.2v4.2h-4.2zM1093.7 296.8h4.2v4.2h-4.2zM1089.9 320.8h4.2v4.2h-4.2zM1131.8 289.2h4.2v4.2h-4.2zM1122.7 258.3h4.2v4.2h-4.2zM1247.1 178.8h4.2v4.2h-4.2zM1278.5 113.4h4.2v4.2h-4.2zM1294.7 127.2h4.2v4.2h-4.2zM1231.1 156.7h4.2v4.2h-4.2zM1241.2 145.1h4.2v4.2h-4.2zM1158.8 268.9h4.2v4.2h-4.2zM1116.0 268.6h4.2v4.2h-4.2zM1083.2 321.9h4.2v4.2h-4.2zM1078.6 325.5h4.2v4.2h-4.2zM1093.7 291.0h4.2v4.2h-4.2zM1207.4 176.8h4.2v4.2h-4.2zM1267.8 158.8h4.2v4.2h-4.2zM1119.2 264.3h4.2v4.2h-4.2zM1277.4 147.6h4.2v4.2h-4.2zM1180.3 204.6h4.2v4.2h-4.2zM1085.6 298.1h4.2v4.2h-4.2zM1112.9 306.0h4.2v4.2h-4.2zM1117.9 298.9h4.2v4.2h-4.2zM1166.2 257.2h4.2v4.2h-4.2zM1266.2 124.2h4.2v4.2h-4.2zM1315.4 91.7h4.2v4.2h-4.2zM1286.0 131.9h4.2v4.2h-4.2zM1195.9 189.4h4.2v4.2h-4.2zM1079.1 324.2h4.2v4.2h-4.2zM1154.4 265.3h4.2v4.2h-4.2zM1239.0 188.6h4.2v4.2h-4.2zM1210.5 219.4h4.2v4.2h-4.2zM1313.3 86.1h4.2v4.2h-4.2zM1284.4 109.9h4.2v4.2h-4.2zM1085.3 320.7h4.2v4.2h-4.2zM1249.9 175.8h4.2v4.2h-4.2zM1087.7 307.8h4.2v4.2h-4.2zM1079.5 325.0h4.2v4.2h-4.2zM1312.0 84.7h4.2v4.2h-4.2zM1303.8 90.0h4.2v4.2h-4.2zM1290.6 101.0h4.2v4.2h-4.2zM1282.9 140.2h4.2v4.2h-4.2zM1315.6 97.2h4.2v4.2h-4.2zM1168.6 218.4h4.2v4.2h-4.2zM1316.1 92.4h4.2v4.2h-4.2zM1222.1 169.0h4.2v4.2h-4.2zM1211.4 174.0h4.2v4.2h-4.2zM1317.1 97.0h4.2v4.2h-4.2zM1113.3 304.2h4.2v4.2h-4.2zM1311.9 103.1h4.2v4.2h-4.2zM1214.4 175.1h4.2v4.2h-4.2zM1255.3 132.3h4.2v4.2h-4.2zM1221.6 210.5h4.2v4.2h-4.2zM1088.8 318.5h4.2v4.2h-4.2zM1057.5 337.5h4.2v4.2h-4.2zM1128.7 240.5h4.2v4.2h-4.2zM1128.7 247.1h4.2v4.2h-4.2zM1148.6 216.7h4.2v4.2h-4.2zM1152.5 217.7h4.2v4.2h-4.2zM1158.5 206.8h4.2v4.2h-4.2zM1163.4 214.8h4.2v4.2h-4.2zM1166.4 213.8h4.2v4.2h-4.2zM1172.3 199.9h4.2v4.2h-4.2zM1176.3 206.8h4.2v4.2h-4.2zM1170.9 191.4h4.2v4.2h-4.2zM1172.9 199.4h4.2v4.2h-4.2zM1181.8 180.5h4.2v4.2h-4.2zM1181.8 185.5h4.2v4.2h-4.2zM1186.7 192.4h4.2v4.2h-4.2zM1197.6 166.7h4.2v4.2h-4.2zM1199.6 175.6h4.2v4.2h-4.2zM1211.5 160.7h4.2v4.2h-4.2zM1213.5 152.2h4.2v4.2h-4.2zM1217.9 150.8h4.2v4.2h-4.2zM1257.6 120.5h4.2v4.2h-4.2zM1266.6 118.6h4.2v4.2h-4.2zM1327.5 67.7h4.2v4.2h-4.2zM1321.6 73.6h4.2v4.2h-4.2zM1328.5 77.6h4.2v4.2h-4.2zM1329.5 81.6h4.2v4.2h-4.2zM1333.4 88.5h4.2v4.2h-4.2zM1340.4 72.7h4.2v4.2h-4.2zM1343.3 78.6h4.2v4.2h-4.2zM1340.4 83.5h4.2v4.2h-4.2zM1349.3 63.7h4.2v4.2h-4.2zM1356.2 66.7h4.2v4.2h-4.2zM1317.8 93.3h4.2v4.2h-4.2zM1332.3 86.5h4.2v4.2h-4.2zM1337.3 83.4h4.2v4.2h-4.2zM1333.7 88.7h4.2v4.2h-4.2zM1306.8 87.1h4.2v4.2h-4.2zM1322.9 93.0h4.2v4.2h-4.2zM1323.0 95.7h4.2v4.2h-4.2zM1330.2 76.1h4.2v4.2h-4.2zM1321.3 87.2h4.2v4.2h-4.2zM1336.6 82.8h4.2v4.2h-4.2zM1316.5 99.2h4.2v4.2h-4.2zM1317.4 100.8h4.2v4.2h-4.2zM1316.4 92.8h4.2v4.2h-4.2zM1330.8 90.4h4.2v4.2h-4.2zM1333.2 89.5h4.2v4.2h-4.2zM1328.7 90.7h4.2v4.2h-4.2zM1310.7 89.4h4.2v4.2h-4.2zM1325.4 80.6h4.2v4.2h-4.2zM1102.2 275.8h4.2v4.2h-4.2zM1100.7 277.7h4.2v4.2h-4.2zM1153.4 218.3h4.2v4.2h-4.2zM1300.2 80.0h4.2v4.2h-4.2zM1266.1 115.9h4.2v4.2h-4.2zM1093.0 287.0h4.2v4.2h-4.2zM1102.8 276.2h4.2v4.2h-4.2zM1244.3 127.8h4.2v4.2h-4.2zM1135.0 237.0h4.2v4.2h-4.2zM1112.5 266.2h4.2v4.2h-4.2zM1170.0 202.4h4.2v4.2h-4.2zM1124.5 249.0h4.2v4.2h-4.2zM1121.0 253.2h4.2v4.2h-4.2zM1304.3 84.2h4.2v4.2h-4.2zM1111.9 264.9h4.2v4.2h-4.2zM1264.7 106.9h4.2v4.2h-4.2zM1183.3 187.0h4.2v4.2h-4.2zM1109.7 264.5h4.2v4.2h-4.2zM1261.2 117.6h4.2v4.2h-4.2zM1099.4 279.8h4.2v4.2h-4.2zM1105.9 273.4h4.2v4.2h-4.2zM1270.5 111.6h4.2v4.2h-4.2zM1150.8 223.5h4.2v4.2h-4.2zM1215.1 158.1h4.2v4.2h-4.2zM1132.6 233.1h4.2v4.2h-4.2zM1105.1 274.1h4.2v4.2h-4.2zM1109.7 269.0h4.2v4.2h-4.2zM1115.1 260.6h4.2v4.2h-4.2z"/>
<line x1="1022.2" y1="377.3" x2="1397.0" y2="3.1" stroke="#333" stroke-width="1" stroke-dasharray="3.3 3.4"/>
<path d="M1059.7 377.3v-8M1059.7 3.1v8M1022.2 339.9h8M1397.0 339.9h-8M1134.6 377.3v-8M1134.6 3.1v8M1022.2 265.0h8M1397.0 265.0h-8M1209.6 377.3v-8M1209.6 3.1v8M1022.2 190.2h8M1397.0 190.2h-8M1284.6 377.3v-8M1284.6 3.1v8M1022.2 115.4h8M1397.0 115.4h-8M1359.5 377.3v-8M1359.5 3.1v8M1022.2 40.5h8M1397.0 40.5h-8" stroke="#333" stroke-width="1" fill="none"/>
<rect x="1022.2" y="3.1" width="374.8" height="374.2" fill="none" stroke="#000" stroke-width="1.6"/>
<text x="1062.7" y="408.3" text-anchor="middle">0</text>
<text x="1007.9" y="348.1" text-anchor="end">0</text>
<text x="1137.6" y="408.3" text-anchor="middle">10</text>
<text x="1007.9" y="273.2" text-anchor="end">10</text>
<text x="1212.6" y="408.3" text-anchor="middle">20</text>
<text x="1007.9" y="198.4" text-anchor="end">20</text>
<text x="1287.6" y="408.3" text-anchor="middle">30</text>
<text x="1007.9" y="123.6" text-anchor="end">30</text>
<text x="1362.5" y="408.3" text-anchor="middle">40</text>
<text x="1007.9" y="48.7" text-anchor="end">40</text>
<rect x="1087.6" y="26.7" width="4.2" height="4.2" fill="#000"/>
<text x="1111.2" y="36.8">DFTB</text>
<rect x="1229.4" y="26.7" width="4.2" height="4.2" fill="#f00"/>
<text x="1252.7" y="36.8">DFTB <tspan x="1324.7">NN</tspan></text>
<text x="1091.0" y="446.3" xml:space="preserve">B3LYP Δ<tspan font-style="italic">E</tspan> (kcal/mol)</text>
<text transform="translate(964.2 323.5) rotate(-90)" xml:space="preserve">Predicted <tspan dx="3.8">Δ</tspan><tspan font-style="italic">E</tspan> (kcal/mol)</text>
<text x="946.7" y="444.8" font-weight="bold" font-size="28">(c)</text>
</g>
</svg></body></html>
